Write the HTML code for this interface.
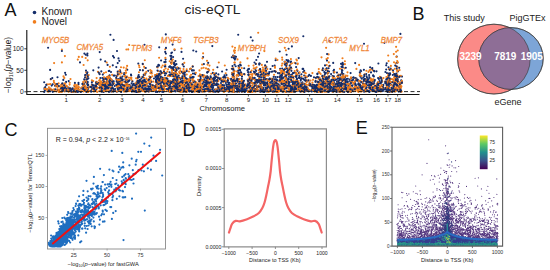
<!DOCTYPE html>
<html><head><meta charset="utf-8"><style>
html,body{margin:0;padding:0;background:#fff;width:550px;height:270px;overflow:hidden}
svg{display:block}
</style></head><body>
<svg width="550" height="270" viewBox="0 0 550 270">
<rect width="550" height="270" fill="#fff"/>
<text x="4.4" y="15.6" font-family="Liberation Sans, sans-serif" font-size="18" fill="#111">A</text>
<text x="412.4" y="19.8" font-family="Liberation Sans, sans-serif" font-size="18" fill="#111">B</text>
<text x="4.6" y="135.6" font-family="Liberation Sans, sans-serif" font-size="18" fill="#111">C</text>
<text x="182.4" y="135.8" font-family="Liberation Sans, sans-serif" font-size="18" fill="#111">D</text>
<text x="355.8" y="133.6" font-family="Liberation Sans, sans-serif" font-size="18" fill="#111">E</text>
<circle cx="34.5" cy="12.5" r="1.8" fill="#142d6a"/>
<circle cx="34.5" cy="21.9" r="1.8" fill="#f07d1c"/>
<text x="41.5" y="14.6" font-family="Liberation Sans, sans-serif" font-size="10" fill="#222">Known</text>
<text x="41.5" y="25.0" font-family="Liberation Sans, sans-serif" font-size="10" fill="#222">Novel</text>
<text transform="translate(212.5 14.4) scale(1.08 1)" font-family="Liberation Sans, sans-serif" font-size="12.8" fill="#222" text-anchor="middle">cis-eQTL</text>
<path d="M47.6 89h0M47.6 90.3h0M49 84.2h0M48.1 91.7h0M53.8 80.9h0M55.3 85.3h0M56.4 85.1h0M57.4 87h0M57.6 89.2h0M58.6 83.4h0M59.5 90.2h0M60.1 89.3h0M61.9 90.3h0M62.9 86.6h0M64.3 77.9h0M64.5 83.3h0M64.5 85.4h0M64.8 91.5h0M68.7 90.2h0M71 91.7h0M71.2 89.9h0M73.8 88.5h0M74.5 88.9h0M75.8 88.7h0M75.7 89.9h0M82.9 84.5h0M83.1 82.1h0M83.9 87.9h0M83.2 90.1h0M85.5 81.5h0M85.8 86.7h0M85.6 89.7h0M86.1 72.4h0M86.6 77.7h0M86.7 89.4h0M87.9 75.3h0M87.6 92h0M88.7 75.1h0M88.2 90.2h0M88.2 90.7h0M95.2 86.9h0M96.1 84.3h0M97.4 87.6h0M97.5 88.1h0M99.6 82.6h0M99.4 85.2h0M100.6 84.6h0M101 88.6h0M100 88.6h0M101 81.3h0M102.9 84.2h0M102.7 91.3h0M103.9 80h0M103.1 82.8h0M103.9 86h0M104.2 79.4h0M104.4 85.7h0M104.2 85.1h0M104.7 90.4h0M105.8 82.7h0M105.2 82.7h0M106.5 86.6h0M106.6 86.5h0M107.4 76.8h0M107 77.9h0M107.6 79.1h0M107.3 86.5h0M109.5 77.9h0M109.2 90.3h0M110.4 80.7h0M110.3 82.2h0M113 84.5h0M112.3 87.7h0M112.2 90.1h0M115.1 90.9h0M116.2 79.1h0M118.4 82.9h0M119.9 70.2h0M119.5 74.2h0M119.4 81.7h0M120.6 76.5h0M120.4 85h0M120.7 84.5h0M120.9 91.6h0M121.7 86.8h0M123.7 67.6h0M124.4 85.1h0M124.4 89.1h0M125.8 89.6h0M126.4 49.5h0M126.1 72.6h0M127.1 76.6h0M127.3 85h0M127.3 87.2h0M129.3 84.8h0M130.3 77.8h0M130.1 87h0M130.2 90.3h0M132.3 80.8h0M133.4 91.3h0M134.8 90.7h0M134.8 91.2h0M136.1 78.2h0M137.6 78.4h0M139 72.2h0M139.1 84h0M140.7 86h0M142 86.2h0M143.3 89.9h0M144.1 66.8h0M144.6 67.7h0M144.3 86.4h0M144.5 89.6h0M145 91.3h0M145.1 75h0M146.3 78.5h0M147.1 79.7h0M147.5 88.6h0M147.8 90.4h0M148.6 91.4h0M149.1 91.5h0M150.5 89.3h0M151.6 85.9h0M151.7 87.6h0M152.3 76.2h0M153.2 85.9h0M153.1 86.9h0M153.3 90.5h0M154.5 86h0M154.7 87.2h0M155 89.7h0M155.3 75.4h0M156.8 79.7h0M156.1 85h0M157.1 76.1h0M158.3 71.2h0M159.1 57.7h0M159.5 89.8h0M161.9 80.9h0M161.6 85.5h0M163.1 81.2h0M163.9 84.2h0M163.3 91.3h0M164.4 72.3h0M164.2 78.2h0M164.1 83.4h0M164.5 88.2h0M164.6 88.9h0M165.2 49.2h0M166.8 83.1h0M167.4 71.6h0M168.6 75.4h0M168.4 87.5h0M169.1 90.5h0M170.2 81.1h0M171.9 81.3h0M171.2 86.5h0M172.4 81h0M173.6 40.2h0M173.2 62.7h0M174.1 62.2h0M174.8 74h0M176.8 82.4h0M177.9 82.7h0M178.1 85.5h0M178.5 90.2h0M180.2 68.6h0M180.3 70.8h0M180.4 83.2h0M180.9 88.3h0M181.7 84.1h0M182.7 64.3h0M182.1 72.7h0M182.8 77.2h0M182.1 80.6h0M182.9 84.4h0M182.9 89.4h0M183.5 69h0M183.3 86.8h0M183.6 91.1h0M184 77.7h0M184.1 85.7h0M185.6 80.3h0M186.7 74.5h0M186.5 85.4h0M186.6 88.9h0M188.3 85.1h0M190.2 80.3h0M191 68.6h0M191.4 90.3h0M192.6 66.3h0M192.9 80.7h0M193.4 81h0M193.8 87.5h0M193.6 90.8h0M194.8 88.9h0M194.1 90.1h0M195.4 83.6h0M195.4 84h0M195.5 85.2h0M196.6 86.3h0M198 79.7h0M198.1 91.5h0M200.3 81.1h0M200.5 83.7h0M201.6 87.9h0M202.8 80.5h0M202.9 84.7h0M203.3 84.2h0M205.8 76.4h0M207.5 64.6h0M207.2 78.8h0M207.9 81.8h0M208.9 88.4h0M208.7 89h0M208.1 91.1h0M209.6 79.5h0M210.8 86.7h0M211.1 79.8h0M212.2 91.2h0M214.4 83.4h0M215.6 76h0M217.9 87h0M218.8 62.5h0M220.3 86.9h0M220.6 90.6h0M221.9 85.2h0M222.9 86.8h0M223.5 82.5h0M223 89.4h0M223.6 90h0M226.9 91.1h0M230.7 83.5h0M231.9 79.9h0M231.9 81h0M231.2 85.5h0M231.2 87.4h0M231.3 91.5h0M232.8 82.8h0M234 50.9h0M233.3 68h0M233.5 75.4h0M233.6 76.2h0M233.6 87.3h0M233.5 87.4h0M233.7 87.7h0M234.2 50.4h0M234.3 79.6h0M234.5 84.9h0M234.6 91.7h0M235 50.6h0M236.5 75.8h0M238.3 75.2h0M240.9 89.6h0M241.8 74.1h0M241.4 75h0M241.3 81.2h0M241.3 89.2h0M241.9 91.8h0M242.7 91h0M244.7 74.4h0M245 84.9h0M247.5 58.4h0M248.4 90.7h0M249 74.3h0M249.4 76.8h0M250.8 78.5h0M250.3 89.8h0M250.7 91.4h0M251.7 79.4h0M251.5 90.3h0M251.1 90.4h0M253.8 78.7h0M253.7 83.4h0M254.1 83.9h0M257.8 86.4h0M260 69.3h0M259.2 76.3h0M259.9 91.4h0M260.7 70.2h0M261.6 73.5h0M261.1 86.4h0M261 86.8h0M262.4 80.5h0M263.2 69.4h0M263.9 75.2h0M263 83.1h0M264.3 75.3h0M264.2 77.3h0M264.3 80.9h0M265.7 74.5h0M265.2 89.6h0M267.3 69.1h0M267.5 74.8h0M267.5 88.3h0M268.7 90.7h0M268.2 91.2h0M269.5 87.4h0M270.9 79.5h0M270.3 84.5h0M271.9 89.3h0M272.1 78.6h0M272.3 85.6h0M274.5 71h0M274.1 74.7h0M275 67.8h0M276.8 86.3h0M276.5 91.8h0M278.6 86.8h0M281.8 88.6h0M282.2 71.5h0M282.1 79.4h0M282.1 79.9h0M282.1 80.7h0M283.5 88h0M284.8 47.8h0M284.6 63.5h0M284.5 81.6h0M284.4 91.1h0M285.4 74.7h0M285.9 79.8h0M285.2 83.3h0M285.6 86.6h0M285.7 91.9h0M287 64.3h0M286.7 81h0M286.4 83h0M286.5 88.1h0M287.6 73h0M287.6 74.2h0M287.5 87.4h0M289.5 67.4h0M289.2 72.4h0M289 88.3h0M289.4 91.5h0M290.6 64.3h0M290.4 67.4h0M290.5 68.4h0M290.4 90.1h0M291.5 68.6h0M291.6 91.9h0M292.1 85h0M292.6 90.9h0M292.1 91.7h0M293.9 76.5h0M293.6 78.7h0M293 82.3h0M293.9 84.1h0M294.6 62.7h0M296.1 74.8h0M296.2 82.8h0M297.8 83.5h0M297.3 84.2h0M299.7 86.9h0M300.6 87.7h0M302.6 91.1h0M306.2 89.6h0M308 80.4h0M309.5 82.3h0M310.7 85.2h0M313 88.8h0M313.7 87h0M314.6 88.3h0M314.4 89h0M314.9 91.7h0M315.9 78.2h0M316.7 84.9h0M319.6 77.5h0M320.7 74h0M321.4 79.6h0M321.7 91.8h0M322.1 70h0M322.1 76.5h0M324.2 85.8h0M326.5 59.1h0M326.2 78.7h0M327 82h0M327.2 85.2h0M328.6 54.4h0M328.8 66.3h0M328.1 88.5h0M329.9 80.5h0M329.8 82.5h0M329.3 84.8h0M333.9 84.3h0M333.3 85.5h0M334.4 72.3h0M334.1 89.8h0M335.5 79.8h0M335.8 87.1h0M336.9 88.8h0M338.4 77.1h0M339.8 84.7h0M340.9 74.3h0M342.5 81.1h0M342.5 88.3h0M344.3 80.2h0M344.7 89.1h0M345.4 76.6h0M345.3 82.1h0M346.9 88.8h0M346.8 88.1h0M348.5 87.1h0M348.5 92h0M350.6 87h0M350.2 90.5h0M354.8 88.4h0M355.5 90.7h0M356.4 68.9h0M358.5 86.8h0M358.2 91.4h0M359.1 64.9h0M359.5 83.5h0M359.6 84.6h0M364.5 83.7h0M364.7 84.9h0M364.6 84.5h0M365.3 81.1h0M365.6 87.2h0M370.3 80.7h0M371.5 82.7h0M372.8 70.3h0M372.8 83.2h0M372.1 90.5h0M373.5 79.2h0M373.5 80.5h0M373.8 84.4h0M374.4 91.1h0M376.7 83.9h0M377.1 85.5h0M377.8 91.5h0M378.3 83.5h0M379.5 90.1h0M380.6 88.9h0M381.8 79.1h0M382.7 89.6h0M385.6 88.5h0M386.6 84h0M386.5 85.5h0M386.8 87.6h0M388.2 55.5h0M388.6 61.1h0M388.2 75.4h0M388.8 79.5h0M389.1 73.8h0M389.3 92h0M390.2 74.5h0M391.8 91.9h0M392.5 79.2h0M392.4 88.9h0M392 89.4h0M392.2 90.1h0M394.9 87.8h0M395.7 63.4h0M395.4 76.1h0M396.1 46.8h0M396.1 51.7h0M396.8 74.9h0M396 76.2h0M396.4 84.1h0M396.7 85.7h0M397.2 61h0M397.1 70.3h0M398.8 87h0M399.8 82.4h0M399.8 88.5h0M401.4 86.4h0M401 91.4h0" stroke="#f07d1c" stroke-width="2.15" stroke-linecap="round" fill="none"/>
<path d="M44.2 82.2h0M45 87.9h0M44.5 88.1h0M44.8 90.7h0M45.3 87h0M45.6 89.2h0M50 91.3h0M56 84.1h0M55.1 85.8h0M56.9 86h0M58.7 90.6h0M62.1 91.1h0M64.6 89.9h0M68.3 87.6h0M70.7 90.3h0M72.8 92h0M74.7 86.3h0M75.4 91.9h0M77.3 88.2h0M77.3 91.9h0M78.5 82.9h0M78.5 84.2h0M81.7 87.8h0M83.2 89h0M84.1 87h0M85 89.2h0M86.7 91.3h0M87 81.9h0M87 88.1h0M87.5 88.9h0M87.6 88.1h0M90.1 90.7h0M91.8 89.1h0M93.6 88.6h0M95.6 85.7h0M96.1 82.4h0M96.3 89.6h0M98.8 83h0M100.4 86.3h0M101.3 71.4h0M101.9 86.5h0M101.8 91.7h0M102.2 86.8h0M103.2 80.4h0M103.4 82.6h0M103.7 91.9h0M106.8 86.6h0M106 87h0M106.8 89.3h0M107.6 64.9h0M107.5 88.1h0M108.7 71h0M109.5 77.6h0M110.1 78.7h0M112.1 85.8h0M113.5 75.6h0M116.7 76.1h0M116.9 91.7h0M117.7 79.4h0M117.4 82.2h0M120.1 70.6h0M120.6 87.8h0M121.2 80h0M121.2 91.9h0M122.8 79.5h0M122.2 86.6h0M123.5 90.5h0M124.2 90.6h0M125.4 79.3h0M126.6 84.9h0M126.7 90.8h0M128 84.7h0M128.5 86.5h0M128.7 89.7h0M128.8 90h0M129.4 80.2h0M129.6 85h0M130.7 86.6h0M130.1 88.4h0M130.7 89h0M131 74.5h0M131 87.8h0M133.9 83.9h0M134.3 91.3h0M136 84.9h0M136.7 82.1h0M138.2 76.4h0M138.3 91.7h0M139.7 81.8h0M139.6 83.7h0M141.9 90.4h0M142.4 89.1h0M143.7 74.9h0M143.4 84.2h0M143.6 85.2h0M144.7 79.8h0M145.8 68h0M145.5 73.5h0M145.7 85.8h0M145.3 88.7h0M148.2 70.8h0M148.2 90.5h0M148.7 91.4h0M150.4 88.6h0M152.8 90.8h0M154 78.5h0M154 90.5h0M155.5 88.2h0M158.2 74.9h0M158.4 84.3h0M158.1 87.8h0M159.4 73.8h0M159.4 74.3h0M160 80.2h0M159.3 91.6h0M160.3 83.8h0M160.2 90.7h0M163.7 89.2h0M164.8 66.5h0M164.6 78.8h0M164.4 84.7h0M165.2 51.9h0M165.9 53.6h0M165 75.2h0M165.3 79.2h0M165.4 85.5h0M169 80.7h0M169.2 66.9h0M169.6 72.3h0M170 83.1h0M169.4 91.2h0M170.6 66.7h0M170.9 83h0M170.4 88.8h0M172 52.5h0M171.3 53.1h0M172 60.4h0M171.1 62.8h0M171.2 91.1h0M171.2 91.9h0M172.8 86.7h0M173.7 67h0M173.4 70h0M173.9 79.6h0M173.5 80.6h0M174 83.8h0M173.6 86.8h0M174.6 50.1h0M174.1 64.2h0M175 82.6h0M176 68h0M175.1 70h0M175.8 72.2h0M175.1 76.8h0M175.2 78.4h0M175.6 88h0M176.5 77.9h0M176.2 86.5h0M176.9 87.8h0M176.5 90h0M177.6 77.2h0M177.7 79.9h0M177.2 83.3h0M177.1 83h0M178.7 83.6h0M179.6 77.7h0M179.4 89.9h0M180.5 82h0M181.1 88.5h0M182 82.9h0M182.6 89.9h0M182.2 91.6h0M182.1 91.4h0M183.5 85.9h0M183.2 87.8h0M183.7 91.6h0M184.4 85.1h0M184.3 88.2h0M184.9 89.3h0M184.1 91.5h0M185.8 78.1h0M185.5 86.5h0M187.7 84.3h0M188.7 88.2h0M189.5 86.2h0M189.4 91.4h0M191 84.5h0M191.9 77.5h0M192 87.1h0M191.4 90.6h0M193.4 82.3h0M194.7 86.3h0M196.3 91.1h0M197.1 87.5h0M199.9 80.6h0M199.6 81.1h0M200.8 89.3h0M202.6 83.5h0M203.1 57.1h0M204.9 84.6h0M204.1 90.9h0M205.1 85.9h0M205.4 88.9h0M207.2 72.3h0M208 90.9h0M208.2 71.7h0M210.4 86.2h0M211.8 87.5h0M212.3 46.1h0M212.6 87.5h0M213.1 78.5h0M213 82.7h0M213.2 85.1h0M213.1 87.1h0M214.3 77.2h0M215 89.6h0M216.1 85h0M216.9 85.1h0M216.2 91.3h0M217.2 80h0M217.5 90.6h0M218.4 74.4h0M218.3 78h0M218.5 84.5h0M218.3 86.7h0M221 87.4h0M221.6 85.7h0M221.2 90.8h0M222.1 71.5h0M222.2 81.5h0M223.5 77.4h0M224.9 80.7h0M225 87.9h0M225.3 89h0M226.5 75h0M226.9 90.1h0M227.8 90.7h0M227.2 90.1h0M228 79.4h0M228.4 84.5h0M228.1 86.5h0M228.1 87.6h0M229.4 82.7h0M229.4 90.1h0M231.8 57.2h0M231.1 78.9h0M231.1 80h0M232.3 72.8h0M232.4 80.8h0M232 90.2h0M232.3 90.8h0M233.1 55.6h0M233.3 69.2h0M233.1 85.9h0M233.8 90.1h0M234.8 56.2h0M234.2 70.9h0M235.8 86h0M237.5 86.5h0M237 91.6h0M238.5 81.6h0M238.1 82.4h0M239.2 67.3h0M239.3 87h0M240.1 64.7h0M240.1 70.6h0M240.2 74.8h0M241.2 72.8h0M242 80.4h0M241.1 83.2h0M241.8 86.1h0M241.6 87h0M243.8 88.7h0M244.6 91.9h0M247.8 84.8h0M247.9 85.4h0M247.1 90.5h0M248.1 69.3h0M248.3 72.3h0M248.4 80.2h0M248.7 86.7h0M248.8 91.2h0M250.8 72.1h0M250 78.2h0M250.3 79h0M250.8 90.3h0M252.2 78.7h0M253.3 89h0M253.7 88.3h0M254 71.6h0M254.9 72.5h0M254.6 78.1h0M255 83.6h0M254.9 83.1h0M254.1 89.3h0M255 88.9h0M255.8 90.2h0M256.1 80.9h0M256.4 85.4h0M256.9 89.5h0M257.3 80.3h0M257.6 81.2h0M257.3 82.7h0M258 56.8h0M258.4 79.9h0M258.7 81.4h0M258.9 86.8h0M259.6 63.6h0M259.8 86.1h0M260 90.7h0M260.1 80.1h0M260.5 87.9h0M260.7 89.8h0M260.4 91.1h0M260.9 91.7h0M261.8 77.1h0M261.1 82.5h0M261.3 86.5h0M262.3 82.6h0M262.3 90.8h0M263.3 74.5h0M263.2 90.4h0M264.2 75.7h0M264.6 76.1h0M264.7 77.3h0M264.5 77.3h0M264.5 84.5h0M264.4 91.8h0M265.7 87.5h0M267 61.8h0M266.4 67h0M266 89.7h0M267.5 83.9h0M267.3 85.4h0M268.3 75.3h0M268.9 84.7h0M270.8 82.8h0M270.6 82.4h0M270.3 86.6h0M270.7 89.9h0M270.6 90h0M272.6 71.5h0M272.5 79.3h0M272.6 81.2h0M273.7 76.8h0M273.7 79.4h0M273.1 85.9h0M273.7 88.4h0M273.9 88.2h0M274.6 65.6h0M274.4 83.2h0M275.1 85.3h0M276.9 79.7h0M276.7 80.8h0M278 88.7h0M277.5 89.8h0M278.4 91.3h0M279.7 51.5h0M280.6 89.4h0M280.1 90.6h0M281.4 88.8h0M282.2 68.6h0M283.8 70.2h0M283.7 71.1h0M283.2 77.7h0M283.6 83.7h0M283.6 89.7h0M283.5 91.1h0M284.6 61.7h0M284.1 80.6h0M284.1 83.4h0M284.1 87.7h0M285.7 85.8h0M285.7 86.7h0M286.4 72.1h0M286.2 75.3h0M287.1 86h0M288.6 48.7h0M288.8 75.9h0M288.5 85.6h0M289.5 69.4h0M289.3 86.1h0M289.8 91.4h0M291 67.6h0M291.1 74.7h0M291.9 74.5h0M291.5 89h0M294.6 86.1h0M294.6 88.3h0M294.5 91.7h0M294.9 91.8h0M295.3 82.6h0M295.7 85.6h0M296.9 78.9h0M296 85.5h0M296.5 86.5h0M298.8 72.9h0M299.7 77.8h0M299.5 85.6h0M299.1 85.6h0M299.3 90.5h0M300.4 91.7h0M301.4 74.2h0M302.6 68.9h0M302.4 82.4h0M302.4 88h0M305.1 84.1h0M305.1 89.4h0M306.6 81.5h0M308.6 80.3h0M308.5 89.5h0M310.9 75.9h0M310.6 84.3h0M311.2 85.3h0M311.2 91.1h0M312.2 89.7h0M312.5 89.9h0M313.8 88.3h0M313 90.1h0M314.7 85.1h0M314.2 90.8h0M315.4 81.8h0M317.2 76.9h0M318 89.7h0M317.6 90.5h0M318.3 86.8h0M319.5 79.8h0M319.6 84.1h0M319.6 88h0M320.6 84.2h0M322.2 89h0M323.2 77h0M323.3 79.1h0M323 82.3h0M324.3 72.1h0M324.8 74.2h0M325.7 69.9h0M325.6 84.2h0M327.9 77.3h0M327.7 77.8h0M327.8 88.2h0M328 89.6h0M328.9 78h0M329.4 91.3h0M330.7 83.2h0M331.1 74.1h0M331.5 81.5h0M332.8 89.7h0M333.9 83h0M333.8 86.5h0M333.7 90.6h0M337.6 84.7h0M337.2 87.2h0M338.7 83.1h0M338.8 90.5h0M339.3 89.3h0M339.3 91.8h0M340.5 84h0M340.4 84.5h0M340.1 90.2h0M341.9 85h0M342.7 64h0M342.4 70.5h0M342 73.1h0M342.3 77.6h0M343.6 84.7h0M343.4 87.4h0M344.2 87.1h0M345.1 76.9h0M345.9 80.1h0M346.7 84.8h0M346.8 88.4h0M346.3 88.5h0M347.3 84.4h0M347.2 87.3h0M348.9 85.4h0M348.8 88.5h0M348.1 88.2h0M349.6 79.6h0M349.8 84.4h0M351 78.2h0M350.2 81.4h0M351.7 81h0M351.9 85.6h0M351.8 89.6h0M351 92h0M352.2 85.3h0M352.4 85.6h0M352.4 85.8h0M353.1 79.8h0M353.6 88.2h0M354.8 83h0M355.7 86.8h0M356.1 86.8h0M357.8 79.8h0M359.8 84.7h0M360.8 89.7h0M362.8 83.4h0M362.2 89.5h0M365.8 80.4h0M365.1 84.3h0M366.2 74.1h0M367.1 82h0M367.3 90.1h0M368.9 85.9h0M370.4 82.9h0M371.8 83.3h0M371.7 86.7h0M372.7 81h0M373.9 70.7h0M373.1 75.4h0M373.8 76.5h0M373.7 91h0M375.1 85.9h0M375.6 88.2h0M375.8 91.5h0M375.3 91.6h0M377.8 85h0M377.4 86.1h0M377.3 87.8h0M379.5 81h0M379.4 87.8h0M380.9 90.5h0M381.1 78.6h0M382 90.4h0M385.4 72h0M385.2 82h0M385.5 89.3h0M386.5 82h0M388 77.8h0M387.4 81.5h0M387.5 82h0M387.7 91.9h0M388.1 77.5h0M389 87h0M388.7 89.6h0M389.1 80.8h0M389.2 83.9h0M390 91.5h0M390.7 68.6h0M390.1 73.3h0M390.7 84.5h0M394.4 82.4h0M395.2 65.5h0M396 75.2h0M395.5 75.1h0M395.6 90.1h0M395.2 91.3h0M396.7 68.6h0M396.4 73.5h0M396.5 76.9h0M397.2 62.7h0M398 71.3h0M397.1 85.3h0M398.5 86.2h0M398.3 86.3h0M399.3 86.3h0M399.9 89h0M400.7 91.7h0M402 76.6h0M401.2 80.2h0" stroke="#142d6a" stroke-width="2.15" stroke-linecap="round" fill="none"/>
<path d="M49.7 89.5h0M50.8 79.3h0M50.1 89.7h0M54 82.5h0M54.1 89.3h0M54.5 90h0M55.3 83.7h0M57.1 85.4h0M57.7 85.5h0M57.9 86.6h0M58.8 91.9h0M59.9 91.9h0M61.1 84.8h0M61.4 87.1h0M61.9 89.1h0M61.7 92h0M63.5 76.4h0M64 88.9h0M65.7 89.2h0M69.6 84.6h0M70.5 79.1h0M70.3 90.9h0M74.9 84.5h0M74.6 89h0M74.7 91.4h0M75.8 87.2h0M76.1 91.5h0M78.7 90.5h0M82.3 87.8h0M84.1 90.9h0M85.7 58h0M85.4 87.8h0M85.8 88.1h0M87.8 91.9h0M89.8 86.9h0M91.9 80.3h0M92.5 88.7h0M93.2 81.1h0M93.3 87.5h0M95.4 87.4h0M96.6 78.1h0M96.7 81.9h0M97.9 71.7h0M99.5 73.2h0M99.8 79.9h0M100.2 91.1h0M103.8 81.5h0M103.8 83.6h0M106.6 78.3h0M106 87h0M109.9 66.7h0M109.6 82.2h0M110.5 84.4h0M111.5 91.2h0M112.4 87.8h0M113.5 84.1h0M113.8 90.6h0M114.2 83.3h0M116.9 91.5h0M117.7 72.9h0M117.6 75.6h0M117.8 84.6h0M117.5 87.5h0M118.7 85.1h0M118.6 89.8h0M119.5 90.6h0M121.3 78.8h0M121.8 82.3h0M121.9 84.2h0M121.7 88.8h0M122.7 89h0M124 81.7h0M124.3 81.8h0M125.3 75.5h0M125.5 77.5h0M125.4 85.4h0M126.7 84.9h0M127.1 65.9h0M127.5 79.8h0M128.2 49.4h0M128.1 85.4h0M130.1 90.9h0M135.4 87.1h0M136.5 83.6h0M137 83.8h0M138 77.2h0M137.1 85.9h0M138.8 89.8h0M140.7 80.2h0M143.2 89.4h0M144.6 73.6h0M144 91.1h0M145.1 82.4h0M145.3 86.2h0M145.5 88.6h0M146.3 71.9h0M148 80.4h0M149.3 76.6h0M150.3 70h0M150.8 73.1h0M150.7 77.1h0M151 80.2h0M151.8 73.4h0M152.9 90.8h0M154.8 90.5h0M155 75.1h0M155.9 91.1h0M156.1 80.9h0M156.8 86.4h0M157.4 81.7h0M158.2 79.9h0M161 73.6h0M160.7 74.8h0M161 88.4h0M161.4 72.6h0M161.2 83.4h0M162.6 86.7h0M162.7 90.7h0M163.1 72.8h0M163.8 89.9h0M164.4 73h0M165.6 68.4h0M166.1 83h0M167.7 76h0M168.3 90.8h0M169.7 61.2h0M169.1 85.7h0M170.9 91.9h0M170.5 91.6h0M171.5 63.8h0M172 68.8h0M171.6 88.2h0M172.8 59.5h0M173.2 75.6h0M173.5 84.9h0M174.7 65.2h0M174.4 73.8h0M174 74.7h0M174.8 77.7h0M174.5 79.1h0M174.7 91h0M175.3 77.6h0M175.7 79.1h0M175.4 81.7h0M175.3 83.4h0M175.1 87.3h0M176.6 83.4h0M176.4 89.9h0M177.4 74h0M177.5 90.3h0M178.5 83.6h0M179.1 85.6h0M181.5 48.5h0M181.8 89.8h0M181.4 89.4h0M182.2 84.3h0M182.6 86.2h0M183.6 75.6h0M183.4 81.6h0M183.2 85.7h0M184.1 78.8h0M185.8 81h0M185.8 80.8h0M185.9 91.9h0M186.8 88.9h0M187.1 79.6h0M189 71.5h0M188.1 88h0M189.5 79.2h0M190.1 76.2h0M191.2 82.7h0M191.3 87.3h0M192.8 84.8h0M193.1 86.8h0M193.2 88.3h0M194.3 86.4h0M194.8 91.7h0M197.1 89h0M197.8 91.8h0M198.6 76h0M198.3 85.1h0M198 87.4h0M198.9 89.9h0M199.9 74.4h0M199 81.7h0M199.6 88.7h0M199.9 89.7h0M200.8 75.2h0M200.7 85.5h0M200.5 85.9h0M200.6 86.9h0M200.7 87.3h0M200.1 91.2h0M201.5 86.6h0M202.5 58.3h0M202.1 64.6h0M202.9 87h0M202.8 91.7h0M203.1 53.3h0M205.5 91.2h0M207.6 79.1h0M207.4 81.1h0M208.6 77.5h0M209.5 83.1h0M209.4 84.2h0M210.2 84.9h0M211.3 73.7h0M211.6 78.4h0M212.7 84.7h0M213.2 79.1h0M213.5 81.3h0M215.1 78h0M217.6 80h0M217.6 81.6h0M218 81.2h0M218.8 86.3h0M218.2 91.9h0M219.9 88.1h0M220.4 85.5h0M221.2 78.2h0M221.1 85.2h0M222.1 86.7h0M223.7 80.7h0M224 92h0M226 81.5h0M226.4 81.6h0M228.9 88.9h0M229.9 90.5h0M230.2 86.3h0M230.8 87h0M232.3 73h0M232.6 76.3h0M233.4 56.3h0M233.4 76.9h0M233.2 77.3h0M233.3 89.1h0M234.7 52.8h0M234.6 71.2h0M234 73.4h0M235.3 83h0M236.9 74.8h0M236.7 78.4h0M236.7 80.1h0M236.8 87.1h0M237.1 71.4h0M237.7 89h0M238.6 67.6h0M238.4 80.1h0M238.4 82.1h0M238.8 88h0M242.1 87.3h0M243.2 84.1h0M243.2 89h0M247.9 81.7h0M247.5 87.6h0M248.4 84h0M248.3 90.8h0M249.9 91.6h0M251.1 92h0M252.2 76.1h0M252.9 91h0M253.7 68.4h0M253.8 78.9h0M254.3 88.5h0M256 63.8h0M256 82.8h0M255.5 85.2h0M257 86.7h0M257.1 80.9h0M258.8 72.7h0M258.3 79.7h0M260.7 87.1h0M261.6 71.9h0M262.6 74.5h0M262.4 83.5h0M262.5 87.7h0M262.9 89.5h0M262.3 90.9h0M263 91h0M263.5 71.6h0M263.8 81.6h0M264.7 70.3h0M265.6 66.1h0M265.4 66.3h0M266 73.1h0M265.1 78.2h0M265.3 89.7h0M266.6 72.4h0M266.2 83.3h0M267 91.8h0M268.6 75.1h0M268.9 80.3h0M268.9 84h0M270.4 78.9h0M270.1 85.6h0M270.7 85.8h0M271.2 86.5h0M271.9 87h0M272.2 84.6h0M272.8 91.2h0M273.5 80.3h0M273.4 84.2h0M273.3 89.3h0M274.9 66.7h0M274.9 82h0M274.3 84.6h0M274.1 86.1h0M275.9 81.3h0M275.9 87.4h0M276 91.2h0M276.8 83.7h0M276.4 90.7h0M277.7 84.2h0M277.7 87.4h0M277.8 88.2h0M278.2 86.2h0M278.4 91.3h0M279.8 76.6h0M280 78.7h0M280.6 72.6h0M281.5 71h0M281.8 75.5h0M281.6 78.7h0M281 78.7h0M281.1 89.4h0M282.3 63.6h0M282.7 70.4h0M282.1 75.2h0M282.2 78.6h0M282.7 82.1h0M283 80.9h0M283.9 90.8h0M284.2 71.7h0M284.3 73.8h0M284.9 76.5h0M284.8 87.4h0M285.3 91.5h0M286.5 65.3h0M286.9 68.2h0M286.2 78.3h0M287.3 70.7h0M287.6 79.9h0M288.1 69.1h0M288.3 74.1h0M288.4 84h0M288.8 91.1h0M289.3 70.7h0M289.2 73.3h0M290.8 79h0M290.8 81.6h0M291.5 76.8h0M291.9 86.9h0M291.7 88.4h0M292.2 76.8h0M295 87.9h0M294.1 91.7h0M296.4 59.5h0M297 70h0M296.8 85.6h0M297.5 80.9h0M298.8 82.7h0M299.5 84.6h0M300.1 83.9h0M300.5 87.9h0M301.5 76.6h0M301.7 84.2h0M304 88.1h0M304.9 84.1h0M304.7 84h0M305.1 84h0M305.2 90.8h0M307.6 87.8h0M312.4 82.6h0M313.9 89.3h0M313.5 90.5h0M313.7 91h0M316.2 87.1h0M317.2 81.5h0M317.1 89.7h0M317.6 91.7h0M318.8 69h0M318.8 71.8h0M318.5 78.8h0M318.9 82h0M318.8 84.3h0M319.7 82.5h0M319.3 86.9h0M320.6 90.2h0M321.1 82.8h0M323.9 76.3h0M323 80.9h0M324.8 76.2h0M324.2 86.9h0M324.5 89h0M325.5 69.1h0M325.1 83.5h0M326.3 89.1h0M327.5 73.8h0M327.8 87h0M328.8 62.3h0M328.5 83.4h0M329.9 82.1h0M329.6 90h0M330.9 83h0M336.6 86.6h0M336.6 92h0M337.1 76.2h0M338.4 75.8h0M338.1 85.3h0M339.2 84.8h0M340.1 80.3h0M340.2 88.8h0M340.4 91.9h0M343.2 91.9h0M344.9 64.2h0M344.5 68.3h0M344.4 76.9h0M344.1 82.9h0M345.9 75.5h0M345.4 87.4h0M346.8 91h0M347.5 87.6h0M348.3 83.7h0M349.7 85.2h0M351.3 81.5h0M352 88.3h0M353.2 82.5h0M353.9 84.1h0M354.1 88.5h0M355.7 78.2h0M355.8 87.3h0M355.3 89.1h0M357 87.5h0M356.4 88.7h0M357.5 91h0M358.6 87.4h0M358.4 89.6h0M359.2 89.6h0M360 75.6h0M360.1 88h0M363.6 86.8h0M364.6 74.4h0M364.8 85.8h0M365.4 85.2h0M366.4 85.1h0M367.3 89.7h0M370.8 78.5h0M370.1 83.5h0M370.9 90.5h0M371.4 84.2h0M371.7 86h0M372.1 87.2h0M374.5 87.4h0M376.4 90.4h0M377 89.9h0M377.1 90.4h0M379.7 86.1h0M379.8 87.7h0M381.4 89.9h0M383.4 87.6h0M385.1 81.5h0M387.6 81.4h0M387.2 87.6h0M388.9 69.1h0M388.3 76.2h0M388.1 82.2h0M388.9 83.8h0M389.1 88.9h0M389.5 90.2h0M390.9 65.9h0M391.6 79h0M391.8 89.5h0M392.8 85.2h0M393.2 72.1h0M394.8 68.8h0M394.2 77.1h0M394.3 87.4h0M394.2 91.5h0M396.7 86.4h0M396.9 89.7h0M397.3 66.8h0M397.6 70.3h0M397.3 75.1h0M397.5 77.1h0M399.5 76.1h0M399.1 87.8h0M400.6 85.2h0M400.8 87.4h0M401.7 91.6h0" stroke="#f07d1c" stroke-width="2.15" stroke-linecap="round" fill="none"/>
<path d="M44.6 89.4h0M49.4 89.4h0M50.1 69.9h0M50.8 79h0M51.7 85.6h0M52.7 84.3h0M57.7 90.3h0M61.2 87.9h0M63 87.2h0M65.1 87.1h0M65.3 90.3h0M66.6 88.9h0M67.3 89.6h0M67.1 90.8h0M70.1 88.5h0M74.9 82.9h0M76.9 90.9h0M78.6 91.6h0M80.9 91.9h0M81.5 88.5h0M83.3 85.7h0M85 77.3h0M85.5 75.4h0M85.6 82.2h0M85.4 91.2h0M86.3 79.6h0M86.4 91.8h0M87.4 72.2h0M87.6 78.6h0M87.7 90.5h0M91 91h0M91.9 84.5h0M91.4 86.7h0M94.2 90.2h0M96.4 82.5h0M96.2 86.6h0M98.6 67.6h0M98.3 83h0M100.4 78h0M102.5 78h0M103.2 77.7h0M103.4 84h0M103.4 90.4h0M105.4 78.6h0M105.6 78.6h0M105.1 82.5h0M105.1 84.9h0M105.1 86.8h0M107.2 81.3h0M107.1 83.5h0M108.8 76.3h0M108.9 81.2h0M108.8 87.3h0M108.9 91.8h0M110.6 84.9h0M111.6 91.3h0M112.8 65.3h0M112.3 80.5h0M113.7 81.3h0M113.9 89.7h0M114.7 86h0M114.4 90.4h0M117.7 63.1h0M117.3 84.6h0M117.4 86.1h0M118.8 79.1h0M118.7 84.2h0M118.4 88.8h0M120.3 85.4h0M120.1 89.3h0M121.4 83.6h0M121.3 86.9h0M121.1 87.5h0M123.8 88.4h0M123.7 90h0M124.4 85.8h0M124.9 89.4h0M126.4 77.2h0M126.6 79.9h0M126.6 83.4h0M127.6 90.6h0M130.6 88.5h0M131.2 75.4h0M131.6 83.2h0M133.5 90.8h0M135.1 88.3h0M138.3 63.6h0M138.2 81.2h0M138.2 81.3h0M140 70.1h0M141.4 78.3h0M141.7 81.9h0M141.4 83.7h0M141.5 89.5h0M142.6 80.6h0M144.1 81.8h0M144.6 81.9h0M144 88.2h0M145.9 88.2h0M146.8 85.2h0M146.1 85.7h0M149.9 83.7h0M149.4 83.5h0M151.3 72h0M152.4 88.1h0M156 80.8h0M156.2 79.5h0M156.4 85h0M158.2 77.5h0M158.8 82.7h0M159.2 74.2h0M160.9 76.7h0M160.8 80.5h0M162.4 86.5h0M162.9 91.6h0M163.6 86.5h0M163.9 86.2h0M164 71.2h0M165 73.2h0M164.8 80h0M164.3 84.2h0M164 89.3h0M165.6 61.9h0M165.5 78.3h0M167.2 80.7h0M167.5 80.7h0M167.9 89.2h0M168.1 81.8h0M168.1 85.3h0M168.7 89.5h0M169 91.3h0M169.8 82.8h0M170.7 74.4h0M170.2 75.8h0M170.3 81.5h0M171.3 55.9h0M171.9 67.4h0M171.7 73.2h0M171.7 82.7h0M172.9 73.1h0M172.2 81.8h0M173.7 67.3h0M174.9 64.9h0M174.5 89.6h0M175.5 61.1h0M175.5 71.9h0M175.3 74.3h0M175.9 85.9h0M177.7 87.4h0M177.6 89.4h0M178.5 68.4h0M178.1 89.5h0M180.5 79.1h0M181.5 51.9h0M181.1 81.4h0M181.1 89.6h0M182.4 82.9h0M183.1 58.7h0M183.1 87.3h0M183.5 89.4h0M184.7 74.5h0M184.2 89.3h0M185.8 85.7h0M185.2 89.7h0M186.7 86.7h0M186.5 91.8h0M187 87.3h0M187.5 89.2h0M187.4 89.9h0M188.2 84.3h0M188.5 85.9h0M188 89.6h0M189.1 81.7h0M190.2 68.9h0M190.3 77.8h0M190.3 80.6h0M190.2 82.7h0M192.2 70.3h0M193.3 50.5h0M193.5 88.1h0M194.6 81.4h0M194.2 87.3h0M195.2 74.2h0M195.8 82.5h0M195.9 90.3h0M196.2 51.5h0M196.5 90.5h0M197.5 87.4h0M198.8 88h0M198.5 88.9h0M199.7 79.7h0M199.4 91.3h0M200.3 85.4h0M201.2 91.5h0M202.5 89.6h0M203.9 64.1h0M203 79.7h0M203.2 90.8h0M204.4 79.4h0M204.4 86.5h0M204.3 91.5h0M205.4 80.8h0M205.1 82.4h0M206.6 83.5h0M207.2 88.1h0M208.2 62.8h0M208.4 69.3h0M208.2 86.6h0M209.5 78.8h0M210 87.8h0M211.6 82h0M211.9 85.5h0M211.4 90.3h0M212.9 72.9h0M212.6 84.9h0M212.4 87.4h0M213.8 80h0M213.7 83.2h0M213.9 85.2h0M214.5 77.8h0M214.7 84.4h0M215 75.2h0M215 78.6h0M215.1 91.8h0M216.1 73.2h0M217.4 67.2h0M217.2 89.5h0M219.8 78.3h0M221.9 80.2h0M222 90h0M223.4 77.3h0M223.1 80.4h0M223.1 90.5h0M224.3 80.8h0M224.2 87.4h0M224.5 89.4h0M226.9 86.2h0M227.3 89.5h0M227.9 89.3h0M228 80.1h0M228.8 84.4h0M228.6 91.7h0M229.7 86.1h0M229.3 89.9h0M229.7 91.4h0M232.5 66.1h0M232.8 69.4h0M232.5 91.6h0M233.4 73.8h0M233.3 80.1h0M234 85.9h0M234.6 64.6h0M234.2 77.7h0M234.9 84.4h0M234.9 86.7h0M234.8 91.6h0M236 56.7h0M235.3 87.8h0M235 87.7h0M237.2 78.9h0M237.4 90h0M238.5 72.6h0M238.5 75.6h0M238.1 79.1h0M239.6 86.5h0M239 90.1h0M240.9 72.2h0M240.9 84.7h0M242 76.4h0M242.8 86.2h0M242.3 88.9h0M242.4 88.9h0M242.1 90.3h0M243.1 81.1h0M243.9 86.4h0M244.1 74.1h0M244.7 87.8h0M244.4 89.6h0M245.5 89.5h0M245.6 91.2h0M246.8 88.4h0M247.7 80.1h0M247.5 84.2h0M248.2 74.7h0M248.6 75.1h0M248.5 91.8h0M249.2 85.6h0M250.9 90.4h0M250.1 91.7h0M251.4 90.6h0M252.3 83.4h0M254.5 77.9h0M255.7 64h0M255.4 68.9h0M255.6 82.5h0M256.2 89.3h0M257.9 76h0M257.2 87.8h0M259.4 78.3h0M259.1 80.2h0M259.2 85.6h0M260.1 69.1h0M260.4 71.9h0M261.6 79.6h0M261.2 87.2h0M263.7 72.9h0M265.6 74.3h0M268 73.9h0M269 73.6h0M268.4 80.7h0M269.6 78.6h0M270.5 69h0M270 82.5h0M271.2 86.5h0M272.6 66h0M272.1 81h0M274.9 81.8h0M274.8 84.1h0M274.8 87.9h0M274.2 87.7h0M275.5 77h0M275 79.3h0M276.2 88.2h0M278.2 88.5h0M278.8 88.9h0M279.5 77.1h0M279.8 80.7h0M279.9 86.1h0M279.1 87.6h0M280.2 68.8h0M280.8 81.6h0M280.7 89.9h0M280.3 90.8h0M282.6 73.4h0M282.4 84.4h0M282 88.8h0M282.7 91.7h0M283.9 69.7h0M283.5 77.6h0M284.6 86.8h0M284.5 88.9h0M285.1 69h0M285.5 76.3h0M285.9 78.1h0M285.5 82.1h0M286.4 83h0M286.2 87.1h0M287.3 62.4h0M287.9 70.3h0M287.3 80.3h0M288 60.4h0M288.3 74.2h0M288.2 78.3h0M288.1 85.7h0M289 88.8h0M289.6 88.7h0M290.2 77.4h0M291.4 70.8h0M291.4 77.3h0M291.1 79.9h0M291.7 88.1h0M292.7 81.4h0M292.4 82.3h0M292.9 83.4h0M292.6 88.7h0M293.1 73.2h0M293 84.5h0M293.7 91.2h0M294.7 83.2h0M295.7 63.3h0M295 72.7h0M295.1 85.5h0M295.3 86.9h0M296.6 85.8h0M297.4 70.8h0M298.7 58.1h0M298.2 82.9h0M298.1 87h0M298.2 89.5h0M299.2 91h0M301 84.7h0M300.9 89.8h0M301.4 78.4h0M301.7 89.5h0M304.2 70.9h0M304.2 75.5h0M304.8 89.4h0M305.9 80.8h0M305.5 90.4h0M306.5 86.7h0M307 90.7h0M309.6 83.8h0M311.8 91.5h0M312.6 89.5h0M314 77.3h0M313.4 87.4h0M314.2 87.3h0M315.6 80.7h0M315.5 86h0M315.2 89h0M316.1 87.5h0M317.6 73.6h0M317.4 89.5h0M318.5 84.1h0M320 79.4h0M321 87.8h0M321.2 80.9h0M321.6 85.6h0M322.9 78.2h0M322.3 84.2h0M322.2 90.2h0M323.3 84.4h0M323.3 87.3h0M324.3 76.4h0M324.1 83.1h0M325.5 73.1h0M325.2 86h0M325.2 86.3h0M327 60.6h0M326.9 77.1h0M326.1 86.6h0M327.2 81.4h0M327.7 86.9h0M327.5 89.4h0M328.8 81.6h0M328.4 83.8h0M328.5 90.1h0M329.7 65.7h0M329.5 86.2h0M330.4 84.7h0M330.3 90.5h0M330.5 90.1h0M331.1 87.3h0M332.5 76h0M332.9 84h0M334 69.7h0M333.8 72.5h0M333.6 81.5h0M333.8 83.1h0M333.7 89h0M334.7 80.2h0M335.2 86.1h0M338 78.3h0M337.9 81.8h0M337 81.7h0M337.7 83.6h0M337.4 84h0M337.3 86.4h0M337.9 86.2h0M337.5 90.5h0M338.1 81.1h0M338.4 86.7h0M338.7 87.3h0M338.3 89.6h0M338.9 89.2h0M339.5 91.3h0M340.2 83.6h0M341.9 72.1h0M341.4 79.3h0M341.1 82.7h0M342.3 64.3h0M342.3 64.1h0M342.8 77.2h0M342.1 80.8h0M342.4 91.3h0M344.4 78.9h0M345.8 67.7h0M346.5 79h0M346.2 88.6h0M346.3 88.1h0M346.5 89.6h0M347.8 78.7h0M347.7 81.9h0M347.7 90.3h0M347.7 91.3h0M352 80.3h0M352.5 90.7h0M353.1 77.8h0M355.1 81.4h0M356.5 78.6h0M357.9 80.8h0M357.6 88.2h0M359.4 85.3h0M360.4 76.6h0M360 84.5h0M361.8 78.7h0M361.5 78.2h0M361.3 86.4h0M363.9 79.6h0M363.2 83.7h0M364.1 91.7h0M365.5 79.7h0M365.6 80.4h0M366.9 79.7h0M366.4 81.9h0M366.5 82.5h0M366.2 84.2h0M367 77.8h0M368.6 79h0M368.4 82.6h0M369.1 75.1h0M369.2 77.1h0M369.5 77.7h0M369.1 87.6h0M370.6 82.3h0M372.1 68.8h0M372.9 83.9h0M373.9 87.3h0M374.4 71.3h0M374.5 80.9h0M374.9 80.1h0M377.3 85.3h0M377.8 89.2h0M378.3 87.9h0M379.4 90.2h0M380.4 83.2h0M380.2 83h0M380.9 90.9h0M381.2 77.7h0M381.2 82.3h0M382 85.7h0M381.1 89.6h0M381.9 90.8h0M383.3 84.9h0M383.1 87.3h0M386.2 69.5h0M386.3 79.2h0M386.9 91.1h0M387.6 91.7h0M388.5 67.2h0M389.8 74.6h0M389 79.6h0M389.3 82.9h0M389.5 84.6h0M389.7 91.4h0M390.6 84.3h0M390.2 85.2h0M391.5 87.9h0M392 88.9h0M392.1 89.9h0M393.7 87.5h0M393.6 90h0M393.1 89.1h0M394.8 89.5h0M394.8 91.1h0M395.1 84.3h0M395 90.9h0M396.7 56.5h0M396.5 66.4h0M396.9 75.8h0M396.9 79.6h0M396.3 79.7h0M396.3 89h0M397.3 77.9h0M397.8 79.7h0M398.4 77.5h0M399.2 86.5h0M401.9 81.9h0" stroke="#142d6a" stroke-width="2.15" stroke-linecap="round" fill="none"/>
<path d="M47.2 84.6h0M47 84.4h0M47.3 90.1h0M50.6 88.5h0M52 89.8h0M55.6 86.3h0M58.3 89.8h0M58.7 90.7h0M60.3 86.8h0M60.7 86.3h0M63.1 88.3h0M66.2 85.7h0M66.9 86.5h0M69.7 82.7h0M69.3 87.7h0M69.8 89.7h0M70.4 88.7h0M70.2 89.4h0M72.4 91.9h0M72.3 92h0M74.2 85.6h0M75.9 86.5h0M77 85h0M81.6 87.6h0M81.2 91h0M83.7 83.9h0M83 84.9h0M83.3 87.1h0M83.6 91.4h0M84.8 88.4h0M85.8 75.6h0M85.4 90.8h0M87.1 78.6h0M88.4 91.4h0M89 87.5h0M89.5 91h0M92.9 89.6h0M93.5 90.1h0M96.6 87.6h0M96.3 90.7h0M97.2 82.8h0M97.7 87.7h0M97.2 92h0M98.1 84.3h0M100 83h0M100.1 91.2h0M102.6 86.7h0M103.9 90.9h0M104.1 77.3h0M106 72.2h0M106.9 79.9h0M108.1 83.6h0M109.1 76.7h0M109.4 85.9h0M110.2 78.6h0M111.1 79.6h0M111 87.9h0M111 87.3h0M111.9 91.4h0M112.1 74.8h0M116.8 80.2h0M117.5 81.5h0M119.3 70.9h0M119.4 73.7h0M121 67.2h0M120.6 89.8h0M121.2 82.8h0M121.1 82.4h0M121.2 90h0M123.7 84.7h0M124.7 91.4h0M125.9 82.5h0M125.5 89.9h0M126.6 79.6h0M127.1 83.4h0M129.5 85.9h0M131.4 77.7h0M132 89.4h0M132.3 87.1h0M137.2 80.8h0M137.8 86.6h0M137 88.4h0M137.5 89.1h0M138.6 86.1h0M139.4 67.2h0M139.2 88.1h0M139.3 91.7h0M140.3 83.4h0M140.3 89h0M141.7 86.1h0M143 64.3h0M142.8 70.2h0M142.2 76.8h0M142.8 91.1h0M143.8 89.3h0M144.1 82h0M144.8 91.7h0M145.1 84.6h0M145.8 85.8h0M146.3 89.5h0M147.3 89.3h0M148.4 79.4h0M148.5 89.4h0M150.4 73h0M150.1 78.6h0M151.5 71.1h0M151.1 77.1h0M151.5 88.8h0M151.6 90.7h0M153.2 81.6h0M155.7 82.4h0M156.5 83h0M156.3 85.7h0M158.8 77.3h0M158.8 78.8h0M158.2 82.1h0M158.9 90.8h0M159.9 80h0M160.2 85.4h0M160.6 90.4h0M161.5 67.3h0M164 85h0M163.1 90.5h0M164.8 77.8h0M164.6 78h0M164.9 81.5h0M165.3 64.7h0M167 91h0M168.1 69.2h0M169.3 76.2h0M171.4 63.2h0M171.7 89.9h0M171.6 90.5h0M172 70.9h0M172.6 84.5h0M172.9 88.9h0M174.1 85.7h0M174.1 86.8h0M176.5 70.5h0M176.1 73h0M176.1 86.1h0M177.8 83.8h0M178.6 89.3h0M178.8 91.2h0M179.1 72h0M179.9 73.4h0M179 82.3h0M179.4 85.9h0M180.2 91.8h0M181.3 77.7h0M181.5 84.7h0M183.1 84.6h0M183.1 85.7h0M184.3 62.8h0M184.8 80.9h0M185.7 85.2h0M186.7 69.3h0M187 86.3h0M187.5 86.2h0M187.5 86.8h0M187.5 88.2h0M188.7 79.4h0M188.9 80.9h0M190.3 84.1h0M191.1 74.7h0M192.2 79.6h0M192 89.3h0M193.1 78.2h0M193.7 80.6h0M195.3 89.6h0M197.6 84.4h0M197.9 89.4h0M197.9 90.9h0M198.9 84h0M198.5 89.6h0M199.5 81.5h0M199.8 90.7h0M200.9 89.8h0M200.7 89.2h0M201.6 68.3h0M201.7 86.6h0M202.5 76h0M203.6 67.7h0M206.3 77h0M206.7 87.7h0M207.8 69.2h0M207.9 88.2h0M207.2 89.6h0M209.8 86.7h0M209.4 91.6h0M210 82.6h0M210.2 83.5h0M210.1 88.2h0M210.4 91.6h0M212.4 81.5h0M212.8 82.5h0M213.7 84h0M214.1 73.4h0M215.6 75.6h0M215.4 81h0M215.5 89.3h0M217.8 77.4h0M217.7 88.2h0M218.4 80.9h0M218.5 87.9h0M220.2 90.7h0M221 79.7h0M222.2 86.6h0M222.3 88.7h0M224.8 65.5h0M225.1 78.2h0M227.8 77.7h0M228.7 78.7h0M228.1 91.1h0M231.7 68.7h0M231.5 80.8h0M231.1 90.7h0M232.4 46.6h0M233.8 71.8h0M233.5 74.2h0M233.4 91.9h0M234.8 62.5h0M234.1 87.1h0M236.5 88.1h0M237.5 59.4h0M237.1 85.8h0M238.9 68.7h0M238 75.4h0M240.7 73.8h0M240.8 87.8h0M241.5 80.8h0M241 86.1h0M241.1 88.7h0M241.3 90.9h0M242.5 82.6h0M243.5 82h0M245.2 84.3h0M247.9 91.9h0M249.6 79.9h0M249.9 84.3h0M249.1 84.7h0M249.2 91.9h0M250.3 78.7h0M250.4 87.4h0M250.5 90.5h0M251.6 70.6h0M251.9 82.8h0M251 88.9h0M251.3 90.7h0M252.6 74h0M252.6 87.9h0M252.6 92h0M253.5 65.6h0M253.4 87.6h0M254.6 86.2h0M255.1 47.7h0M255.8 75h0M255.1 80.4h0M255.4 91.7h0M257.1 88.5h0M258.6 70.2h0M259.6 91.5h0M260.2 83.3h0M260.1 83.7h0M260.1 84.1h0M260.3 87.8h0M261.1 84.9h0M261.6 86.8h0M261.6 89.3h0M262.8 67.5h0M262.4 76h0M262.9 79.9h0M263.1 70.4h0M263.8 79h0M264.9 71.5h0M265.4 67h0M265.2 76.6h0M265.6 83.8h0M267 86.4h0M267.8 89.9h0M269 81.5h0M268.3 86.5h0M268.7 92h0M269.8 84.5h0M273.8 83.3h0M276.6 84.1h0M276.2 91.8h0M277.4 59.9h0M277.4 91.6h0M278.9 81.5h0M278.5 86h0M279.1 91.5h0M280.5 87.3h0M281.4 84.3h0M281.7 89.2h0M282.3 59.7h0M282.4 80.9h0M282.2 86.9h0M282.3 91.3h0M283.9 85.8h0M284.2 87.4h0M285.9 50.3h0M285.8 67.8h0M285.6 87h0M286.9 62.8h0M286.6 80.8h0M286.7 82.3h0M286.7 83.7h0M286.8 91.6h0M287.4 81.9h0M288.1 73.8h0M289.9 90.3h0M290.9 77.7h0M290.4 91.6h0M292 63.2h0M292.2 91.2h0M293.1 80.8h0M293.1 87.3h0M294.6 89.8h0M295.6 80.5h0M298.7 86.2h0M298.2 86.2h0M298.3 86.9h0M298.5 88.2h0M299.6 72.4h0M299 86.3h0M300.2 84h0M300.2 87.8h0M301.7 90.7h0M302.7 83.5h0M302.7 86.1h0M303.2 90.1h0M304.8 90.5h0M305.6 87.2h0M306 88.8h0M306.6 82.1h0M306 90.7h0M307 77h0M308.1 89.4h0M309 84.5h0M309 85.3h0M309.7 90h0M310.5 80.5h0M312.6 84.5h0M312.5 85.3h0M314.7 89.2h0M317.2 89.5h0M319 83.4h0M318.8 91.9h0M319.7 72.9h0M321 86.4h0M320.8 91.6h0M321.7 87.3h0M321.7 91.7h0M323.6 87.4h0M324.1 89.4h0M325.9 80.9h0M326.2 78.7h0M326.8 82.6h0M326.6 91.7h0M327.4 85.6h0M329.8 83.8h0M329.4 87.2h0M329.5 88.1h0M330.9 89.3h0M332.7 91.9h0M333.1 76.9h0M333.1 78.3h0M333.2 82.4h0M334.9 78.3h0M334.8 84.2h0M335.5 84.8h0M335.6 88.5h0M335.4 90.1h0M336.7 88.6h0M337 91h0M337.8 90.2h0M338.7 74.5h0M338.4 82h0M339.8 89.6h0M339.5 91.8h0M340.1 79.6h0M340.4 84.6h0M341.5 88.9h0M341.2 91.2h0M342.5 58.2h0M342.1 66.3h0M342.3 77.4h0M343.7 84.7h0M344 85.2h0M343.8 89.6h0M343.6 90.8h0M344.9 61.2h0M344.9 85.1h0M347.5 72.3h0M347.2 84h0M347.9 87.5h0M347.9 89.2h0M347.4 91.1h0M348.1 89.1h0M350.6 78.7h0M350.4 83.3h0M353.5 88.3h0M353.1 91.2h0M356.3 86h0M357.3 89.5h0M358 90h0M358.5 91.8h0M359.7 75.4h0M360.2 73.3h0M360.4 80.7h0M360.6 91.5h0M361.1 86.1h0M362.8 84.6h0M363.4 87.5h0M363.4 90.7h0M365.7 86.7h0M365.2 89.4h0M365.8 91.4h0M366.2 79.9h0M368.5 71.9h0M368.9 81.8h0M368.8 86h0M369.6 70.3h0M369.2 88.2h0M370.7 69.5h0M371.2 79.2h0M371.5 80.7h0M371.2 89.2h0M372.7 80.3h0M372.4 87.7h0M372.3 87.9h0M373.2 90.8h0M374.7 88.3h0M377.4 85.8h0M378.1 90.7h0M382.2 81.4h0M382.6 88.9h0M382.3 88.3h0M386.9 84.4h0M387.6 89.3h0M388 73.7h0M389.3 91.1h0M390.2 79.3h0M391.2 69.5h0M392.7 82.2h0M392.5 86.2h0M393.6 81.1h0M394.5 74.2h0M394.4 77.8h0M394 84.2h0M395.4 78.4h0M396.5 56.9h0M396.3 79.9h0M397.7 50.5h0M397.9 62.4h0M397.8 76.9h0M397.5 88.5h0M399.6 70.1h0M399.2 86h0M400.2 82.9h0M400.6 88.3h0M401.7 82.8h0M401.6 83.2h0" stroke="#f07d1c" stroke-width="2.15" stroke-linecap="round" fill="none"/>
<path d="M46.2 84.9h0M51.7 90.3h0M52.3 78.1h0M52.3 90.8h0M55.5 89.3h0M57.5 77.2h0M57.2 84h0M62.3 84h0M63.3 79.9h0M63.8 90.1h0M63.4 90.4h0M65.1 72.8h0M65.8 74.7h0M65.2 90.5h0M66.1 81.9h0M69.7 90.8h0M71.5 91.6h0M72.5 88.2h0M72 89.3h0M73.8 90.3h0M77.9 88.7h0M83.4 88.9h0M83.2 88.1h0M84.2 83.9h0M85.8 54.7h0M85.2 75h0M86.3 90.5h0M87.1 73.8h0M87.8 76.3h0M87.6 84.6h0M87.8 85.4h0M87.7 88.1h0M87.6 88.9h0M88.2 84.9h0M90.6 86.9h0M90.6 86.9h0M91.9 82.3h0M91.6 86.8h0M93.2 88.6h0M94.3 88.9h0M95.7 86.1h0M95.1 90.8h0M96.4 83.7h0M97.3 83.9h0M99.5 87.7h0M101.5 86.5h0M101.6 87.4h0M102 85.1h0M103.6 79.2h0M103.9 82.4h0M104 82.1h0M104.9 85.8h0M105.9 83.1h0M105.1 89h0M106.2 86.9h0M106.2 91h0M108.5 88.3h0M109.6 75.4h0M109.9 83.9h0M109.8 85.1h0M110.1 78.7h0M110.1 80.2h0M110.7 84.1h0M111 72h0M111 90.3h0M112.6 82.4h0M113.1 84h0M115.2 89h0M116.2 77.8h0M116.7 81.4h0M116.9 85.7h0M116.8 85h0M117.3 84.6h0M118.6 89h0M119.3 60.8h0M119.9 81.1h0M119.1 81.1h0M119.8 83.6h0M119.5 85.1h0M119.3 87.7h0M121 83.5h0M121.9 88.2h0M122.5 76.6h0M123.2 86.1h0M124.3 73h0M124.1 74.4h0M124.9 85.5h0M124.1 86.3h0M126.2 90.3h0M127.3 69.7h0M129.1 89.3h0M132.4 81.5h0M132.3 88.3h0M133.2 88.4h0M135 85.4h0M135.8 90.6h0M136.4 87.1h0M136.1 92h0M137.1 91.9h0M138.7 75.1h0M138.8 77h0M139.3 76.9h0M139.5 80.4h0M140.3 85.3h0M140.2 91.3h0M142.9 70.3h0M143.1 82.2h0M143 83.9h0M145.4 88.6h0M145.7 88.9h0M145.8 91.6h0M146.5 89.8h0M147.1 89h0M148.7 81h0M148.4 88.6h0M148.9 88.3h0M149.8 89h0M150.2 77.4h0M150.1 84.3h0M150.9 90.5h0M151.3 82h0M154.1 88.2h0M155.7 86.6h0M155.2 86.1h0M156.6 75h0M156.3 76.7h0M156.1 81.6h0M156.7 88.1h0M156.1 90.1h0M157.2 66.9h0M157.5 70.6h0M157.6 78.8h0M157.6 82.8h0M157.2 91.9h0M158.4 64.9h0M158.6 76.2h0M158.1 82.2h0M158.1 87.8h0M159.8 74.6h0M159 78.5h0M159.3 80h0M159.6 88h0M160.1 83.3h0M161.7 72.9h0M161 77.7h0M161.1 78.2h0M161.1 80.9h0M161.7 82.3h0M161.2 85.6h0M161.6 87.2h0M162.2 79.2h0M162.6 81.4h0M163.4 82.5h0M163.5 87.5h0M163.5 91.7h0M164.2 79.6h0M164.5 84.2h0M165.6 59.6h0M165.3 66.2h0M166.1 78.6h0M166 86h0M167.5 79.1h0M168.8 81.6h0M168.7 88.5h0M170 84.7h0M169.2 91.1h0M170.4 55.8h0M171.2 58.1h0M171.2 67.9h0M172 74.6h0M173.1 57h0M173.4 69.2h0M173.1 79.6h0M173.2 82.6h0M174.3 74h0M174.4 79.3h0M175 80.8h0M174.9 86.3h0M175 65.6h0M176.6 69.9h0M176.5 70.1h0M176.7 81.6h0M176.7 86.9h0M177.1 76.6h0M177.1 77.8h0M177.6 77.9h0M178.3 83.5h0M178.6 89.3h0M180 82.4h0M180.9 82.6h0M181.8 71.8h0M182.7 64.4h0M182.4 76.2h0M182.1 78.3h0M183.8 66.5h0M183.2 73.7h0M184.8 76.1h0M184.8 90.3h0M186.8 71.1h0M186.9 87.7h0M186.7 87.9h0M188.9 87.5h0M188.3 90.9h0M189.3 88.6h0M190.9 84.2h0M190.6 87.5h0M192 77.6h0M192.1 91.4h0M193 73.6h0M193 76.9h0M193.7 77h0M193.2 91.4h0M194.8 84.9h0M194.8 88.6h0M195 73.3h0M197.6 84.5h0M200.3 75.9h0M200.8 79h0M201 87.5h0M203.2 87.2h0M203.9 89.6h0M204.6 85.8h0M204.1 86.3h0M205.5 77.6h0M205.1 89.2h0M206.9 82.4h0M207.8 77.1h0M207.7 83.8h0M207.6 83h0M207.7 88.5h0M207.9 91h0M208.7 83.4h0M208.5 83.3h0M210.6 76.4h0M210.8 77.3h0M210.1 82.3h0M212 84.2h0M211.1 86.6h0M212.8 87.9h0M213.1 78.8h0M213.4 90.5h0M215.3 80.7h0M215.9 84.6h0M218.4 88.3h0M219.7 79.1h0M219.7 90.9h0M221 85.9h0M221.5 80.9h0M221 83h0M223 85.2h0M222.7 88.4h0M223.5 80.9h0M223.9 81.1h0M224.3 85.2h0M224.9 89.3h0M225.6 77.4h0M225.2 80.9h0M228.6 88.1h0M229 89.2h0M230.7 90.2h0M231.8 84.5h0M232 86.9h0M231.8 88.1h0M231.6 89h0M231.3 91.1h0M232.5 80.7h0M233.2 75.9h0M233.8 76.7h0M233.4 80.7h0M233 82.9h0M234.2 58.3h0M234.6 80.7h0M235 80.8h0M234.2 88.4h0M235.7 66.2h0M235.1 81.5h0M236.6 80.3h0M236.6 87h0M236.3 88.2h0M238 88.3h0M237.4 91.5h0M238.5 65.8h0M238.6 85.6h0M239.3 73.6h0M239.2 83.9h0M239.9 90.3h0M239.8 91.3h0M240 69.7h0M241.4 88.4h0M241.6 90.3h0M242.9 83.1h0M242.2 85.5h0M242.7 86.7h0M242.7 90.2h0M243.8 91.1h0M244.4 85.1h0M245.2 91.3h0M246.9 86h0M247.5 70.5h0M249 68.9h0M248.4 72.3h0M248.3 81.7h0M248.4 85.9h0M249.9 77.8h0M250.6 88h0M250.7 90.2h0M250 91.6h0M251.5 81h0M251.7 87.7h0M252.7 78h0M253.4 87.2h0M253.2 89.3h0M254 91.2h0M254.5 62.5h0M254.1 88.7h0M254 89.2h0M256 70.9h0M256.3 60h0M256.8 73.8h0M256.1 74h0M256.4 74.3h0M256.3 81.6h0M257.8 80.5h0M257.5 87h0M257.7 90.3h0M257.8 91h0M258.2 74.4h0M259.4 63.5h0M259.4 76.8h0M259.5 82.2h0M260 77.1h0M260.6 83.3h0M260.1 86.8h0M260.4 87h0M260.8 89h0M260.2 91.5h0M261.7 74.4h0M262 90.9h0M262.9 89.9h0M263.7 79.3h0M263.3 83.3h0M263.2 91.9h0M263.4 91.8h0M264.1 77.2h0M264.9 83.1h0M264.1 85.5h0M265 85.1h0M265.5 68.6h0M265 84.9h0M265.1 91.2h0M266.1 70.7h0M266.7 79h0M266.7 83.2h0M267.2 74.2h0M267.7 87.3h0M267.1 88.3h0M267 91.1h0M268.3 79.5h0M269.3 72.1h0M270 79.2h0M270.6 90.6h0M271.4 71.7h0M272.4 83.6h0M273.9 85.5h0M273.4 87.8h0M273.8 91.2h0M274.5 82.7h0M274.4 88.5h0M275 87.7h0M276.1 79.2h0M277 80.5h0M276.9 85.6h0M276.9 85.8h0M276.3 90.7h0M279.7 73.3h0M279.4 73.4h0M280.5 75.6h0M281 77.1h0M280.9 79h0M281 82.5h0M281.7 74.8h0M281.9 76h0M281.6 77.4h0M282 78.6h0M283.2 91.5h0M284.2 85.8h0M285.6 76.8h0M285.3 88.2h0M286.6 54.7h0M286.5 60h0M286.3 82.1h0M286.4 82.3h0M286.6 88.2h0M286.8 91.4h0M287 72.2h0M288.2 61.4h0M288.8 79.4h0M288.9 81.9h0M288.6 91.5h0M289.7 65.5h0M291 61.5h0M290.5 62.2h0M290.8 88.9h0M291.3 76.2h0M291.5 90.7h0M292.1 87.1h0M292.1 88.5h0M293.8 84h0M294.1 82h0M295 91.5h0M295.8 76.6h0M295.4 86.7h0M298 83.9h0M299.2 78h0M299.5 84.8h0M299.5 85.7h0M300.8 79.8h0M300.7 80.6h0M300.7 85h0M301 86.6h0M300.8 89.8h0M301.1 83.2h0M303 78.5h0M302.4 88.6h0M302.9 89h0M303.2 68.9h0M303.2 72h0M304.8 83.9h0M305.1 89.8h0M305.7 89.6h0M306 89.8h0M306.8 89.6h0M308.4 76h0M309.2 74.9h0M309.7 85.4h0M311.5 86.5h0M311.7 90.3h0M312.7 86.8h0M312.6 88.9h0M313.8 86.2h0M313.9 88.3h0M315.2 90.6h0M316.9 86.4h0M316 90.8h0M317.5 81.9h0M317.1 86.1h0M317.7 88.8h0M320.9 89.4h0M322.8 70.2h0M322.6 82.6h0M324.6 87.4h0M325.8 72.7h0M325.1 79.2h0M325.8 83h0M326.8 79.3h0M327.9 90.7h0M328.6 68.2h0M328.3 72.9h0M328.8 89.8h0M328.3 92h0M329 71.6h0M329.5 76.2h0M329.7 84.3h0M330.9 81.5h0M330.5 86.9h0M330.2 90.8h0M331.6 79.8h0M331.9 91.1h0M333.5 70.8h0M333.9 76.2h0M333.7 91.3h0M334.2 87.1h0M334 91.2h0M335.4 87.7h0M336.1 79.7h0M336.6 90.3h0M338.1 75.6h0M338.5 81.7h0M338.3 86.9h0M339.6 78.8h0M339.3 80h0M339.1 82.9h0M339.7 87.2h0M341 63.8h0M340.3 74.9h0M340.5 77.7h0M340.3 77.5h0M340.6 79h0M340.9 88.6h0M341.1 85h0M341.1 86.1h0M342.9 64.8h0M342.2 66.9h0M342.8 74.7h0M342 87.9h0M342.3 91h0M343.4 74.1h0M344 88.9h0M344.2 92h0M345.5 81.1h0M345.8 82.3h0M345.5 87.7h0M346 89.4h0M347.6 81.4h0M350.6 73.1h0M350.2 89.6h0M351.1 90.2h0M352.3 90.7h0M355.1 78.1h0M355.3 85h0M355.9 85.2h0M358.5 83.4h0M360.6 70.4h0M361.1 71.1h0M361.8 89h0M362 89.3h0M364 43.7h0M363.9 69.8h0M363.3 77.6h0M363.7 85.7h0M364.4 74.7h0M365.9 88.7h0M366.6 76.2h0M367 82.5h0M366.6 87.5h0M366.7 87.5h0M367.4 80h0M367.3 90.7h0M368.5 81.6h0M369.3 84.9h0M369.8 87.9h0M369.2 91.4h0M370.9 85.2h0M370.1 87.5h0M370.3 88.9h0M371.5 83.5h0M372.3 68.1h0M372.9 87.7h0M372.3 89.7h0M372.6 90.5h0M373.5 75.9h0M374.6 88.5h0M376.5 71.3h0M376.5 86.5h0M376.7 91.5h0M377.8 82.5h0M377.4 88.7h0M378.4 63.5h0M378.1 78.1h0M378.3 83.8h0M378.3 85.1h0M379.6 90.5h0M380.2 83.3h0M381.7 80.2h0M381 82.7h0M382.3 85.7h0M382.7 85.6h0M382.9 91.1h0M383.1 85.6h0M384.3 89.5h0M385.5 81.5h0M385.3 83.2h0M386.7 63.2h0M386.2 65.3h0M386.9 73h0M386.9 88.3h0M386.7 90.7h0M387.3 78.1h0M387.7 90.3h0M389 75.7h0M388 85.3h0M388.7 88.8h0M389.7 69.8h0M389.3 79.2h0M389.5 81h0M389.7 84.1h0M389.8 89.7h0M389 90.2h0M392.3 91.8h0M393.7 85.3h0M394.2 74.1h0M395 84.2h0M395.2 74.3h0M395.9 79.4h0M395.6 80.5h0M396.5 84.4h0M397 85.5h0M398.8 91.6h0M399.2 67.8h0M399.8 84.2h0M399.6 91.2h0M400.2 90h0M400.9 90.6h0M401.8 81.9h0" stroke="#142d6a" stroke-width="2.15" stroke-linecap="round" fill="none"/>
<path d="M44.7 88.8h0M45.9 89h0M48.9 87.3h0M49.7 88.6h0M50.4 84.1h0M52.1 90h0M54.5 91.1h0M56.6 91.3h0M62.5 84.5h0M63.4 86.3h0M64.8 89.9h0M65.4 83.7h0M67 86.2h0M67.6 89.7h0M68.6 91.8h0M69.6 90.9h0M75.8 88h0M77.2 87.5h0M77.7 89.1h0M78.4 86.2h0M78.9 87.2h0M79.7 89.5h0M83.6 65h0M83.5 83.3h0M84.5 80.6h0M85 85.5h0M85.7 87.8h0M86.9 79.3h0M86.6 81.9h0M86.1 90.3h0M87.2 83.6h0M87.2 88.7h0M92 85.2h0M93.9 91.4h0M99.2 80.7h0M99.4 90.9h0M101 83.5h0M100.7 85.7h0M101.3 82.1h0M101.4 88.1h0M101 90h0M102.5 87h0M104 73h0M103.8 83.6h0M103.2 88.3h0M105.3 82.6h0M106.7 77.3h0M106.9 84h0M106.2 91.2h0M107.7 78.8h0M107.6 81.9h0M107.3 89.8h0M108.8 76.3h0M109.7 77.8h0M110.8 87.7h0M111.3 79.2h0M112 80.8h0M115.2 90.7h0M116.6 86.7h0M117.9 79.7h0M117.7 86.3h0M117.1 86.1h0M118.4 79.9h0M118.8 85.8h0M118.4 89.2h0M119.6 80.1h0M120.2 83.3h0M121.7 73.3h0M121.7 82.6h0M122.9 86.6h0M123.9 86.8h0M123.7 91.5h0M124.4 76.2h0M125.8 70.6h0M125.6 73.1h0M125.1 84.6h0M125.2 88.3h0M125.8 89.4h0M126.4 68.2h0M126.1 79.3h0M126.5 85.7h0M127.1 86.9h0M127.4 86.6h0M127.4 88.8h0M127.6 91.2h0M128.8 77.7h0M129.6 89.7h0M129.2 91.1h0M131.2 79.1h0M132.6 88.6h0M133.1 87.9h0M134.2 89.4h0M135.6 83.3h0M137.4 91.2h0M138.6 91.4h0M139.1 65.6h0M139.7 88h0M139.2 90.4h0M140.9 89.1h0M141.8 84.9h0M142.4 90.4h0M143.6 83h0M143.8 83h0M143.5 84.3h0M144.8 60.2h0M144.1 77.9h0M144.7 85.9h0M146.6 83.3h0M147.3 83.3h0M147 85.7h0M148.9 81.8h0M150.4 82.3h0M150.3 90.8h0M152.1 85.2h0M153 87.8h0M154.8 88.8h0M155.1 89.7h0M156.7 85.5h0M156.1 89.6h0M157.6 67.5h0M157.1 74.1h0M158 80.7h0M157.4 82.1h0M157.2 87.7h0M158.9 81.8h0M159 86.7h0M159.3 81.8h0M160 89h0M161.2 80.3h0M162.7 65.5h0M162 78.1h0M162.3 86h0M164 81h0M163.4 87.8h0M164 87.3h0M164.1 70.1h0M164.5 78.7h0M164.5 82.9h0M164.9 89.3h0M164.4 90.1h0M165.4 57.9h0M165.1 79.3h0M165.4 81.6h0M165.6 82h0M165.5 84.7h0M166.6 80.3h0M166.9 86.1h0M168.7 83.2h0M169.4 81.1h0M169.8 90.3h0M169.7 91.7h0M170.6 91.7h0M171.4 40.6h0M171.8 69.8h0M171.8 76.1h0M171.8 91.1h0M172 60.8h0M172.2 73h0M172.7 83.5h0M172.1 91.1h0M174.5 49.3h0M175 69.8h0M174.4 72.7h0M174.4 75.1h0M174.4 89.3h0M175.3 81h0M177.4 67.3h0M178.6 75.5h0M178.8 78.5h0M178.8 81.3h0M178 87.6h0M179 85.2h0M179.1 85.6h0M179.3 85.4h0M179.1 87.7h0M180.4 86.5h0M180.1 88.5h0M181.1 83.9h0M181.8 91.7h0M182.1 84.7h0M182.7 89.9h0M182.4 89.3h0M183.2 71.3h0M183.8 86.4h0M184.9 71.3h0M184.1 72.5h0M184.9 81.5h0M184.9 82.3h0M185.4 83.1h0M185.7 83.2h0M185.9 89.9h0M186.7 82.1h0M186.4 83h0M186.6 87.2h0M186.7 90h0M187.6 81.5h0M187.1 91.6h0M189.1 79.7h0M190.1 69h0M190.8 84.8h0M190.5 86h0M191.5 82.8h0M191.7 85h0M192.4 85.4h0M192.6 88h0M192.9 88.3h0M192.7 89.4h0M192.1 91.7h0M193.7 87.2h0M195 84.2h0M195 90.4h0M195.9 72.8h0M195.2 84.3h0M195.5 85.2h0M195.3 88.9h0M196.6 82.5h0M196.8 89.8h0M198.9 88.7h0M199.5 70.4h0M199 86.4h0M200.6 81.9h0M200.6 84.9h0M200.4 90.1h0M201.1 75h0M201.9 80.1h0M202 87.5h0M202.9 80.1h0M202.9 90.8h0M202.7 91.3h0M204 75.3h0M203.7 76.2h0M203.5 77.2h0M206 91h0M205.8 91.1h0M206 68.3h0M206 81.9h0M206.8 83.7h0M206.3 90.6h0M207 60.8h0M207.4 76.8h0M208 84.6h0M208 79.9h0M208.3 91.2h0M209.5 65.6h0M209.2 70.3h0M209.1 86h0M210.9 90.7h0M213.2 69.8h0M213.1 91.8h0M217.8 88.4h0M220.8 85.4h0M220.5 87.2h0M221.7 89.4h0M222.8 87.3h0M222.2 87.4h0M223.2 79.7h0M223.3 89.7h0M225.7 73.2h0M225.6 80.6h0M226.3 88.3h0M226.3 89.1h0M227.3 90.2h0M228.6 85.8h0M230.6 88.1h0M232 74.2h0M231.4 83.5h0M231.9 84.2h0M231.2 89.8h0M231.1 90.8h0M232.6 77.3h0M233 84.7h0M233.1 82h0M233.7 86.2h0M233.8 88.9h0M233.4 91.1h0M235 47.8h0M234.4 62.5h0M234.1 77.4h0M234.7 84h0M235.5 83.2h0M235.8 86.3h0M237.8 85.6h0M238.8 91.7h0M239.4 79.1h0M240.4 62.4h0M240.7 84.7h0M241.8 68.1h0M241.7 75h0M242.2 80.6h0M242.5 80.9h0M245.1 87.4h0M248.7 65.7h0M248.1 79.2h0M249 87h0M249.9 76.7h0M249.3 83h0M250.5 81.8h0M250.2 85.7h0M250.4 88h0M251.1 74.4h0M251.4 78.2h0M252.6 83.5h0M252.3 85.8h0M254.7 73.6h0M254 89.3h0M255 68.4h0M255.8 90.2h0M256.6 67.2h0M257.9 89.6h0M258.2 87h0M259.2 78.6h0M259.6 85.8h0M259.1 87h0M259.8 87h0M260.5 81.7h0M261.8 64.9h0M262.4 88.1h0M264.4 51.1h0M265.3 76.2h0M265.3 84.7h0M265.5 90.1h0M266.9 79.7h0M267.4 75.3h0M268.4 80.9h0M270.5 90h0M271.1 89h0M271.4 90.4h0M273 92h0M275.7 58.5h0M275.9 71.5h0M275.4 82.2h0M275.4 88.1h0M276.9 87.1h0M276.8 90.8h0M277 89.3h0M277.2 92h0M279.2 90.8h0M280.1 69.9h0M280.9 72.9h0M280.2 82.2h0M281.8 65.6h0M281.8 81.4h0M282.1 57.6h0M282.8 89.2h0M283.7 72.2h0M284.9 61.7h0M284.5 81.9h0M285.2 77.8h0M286 79h0M288.6 75h0M288.4 90.1h0M289.2 88.6h0M290.9 59.1h0M292.1 76.1h0M293.6 85.9h0M293.5 89.8h0M294.7 71.1h0M295.7 80.9h0M296.9 60.5h0M296.3 72.9h0M296.3 85.8h0M296.5 89.2h0M297.8 63.6h0M297.6 64.2h0M297.1 69.6h0M297.4 74.6h0M297.9 87.6h0M297.3 89.9h0M297.9 90.5h0M297.1 90.7h0M298.4 81.3h0M298.4 87h0M299.7 84.6h0M300.6 84.1h0M300.5 89.7h0M301.5 91.5h0M302 89.9h0M303.8 91.9h0M304.5 72.6h0M305.8 73.3h0M305.6 76h0M305.4 77.4h0M305.5 84.1h0M305.1 90.8h0M306.2 80.4h0M306.9 84.9h0M312.4 73.1h0M313 79.8h0M312.5 89.8h0M313.1 86.5h0M317.8 89.7h0M317.3 91h0M318.9 77.9h0M318.7 82.1h0M318.6 85.4h0M318.1 86.7h0M318.3 88.3h0M321.5 57.3h0M322.4 91.9h0M322.9 91.4h0M323.8 77.1h0M324 81.8h0M324.6 85.5h0M325 91.8h0M325.3 88.6h0M326.1 47.8h0M326.7 65h0M326.4 82.2h0M326.2 85.5h0M327.8 58.1h0M327.4 70.3h0M327.7 83.3h0M327.6 89.7h0M328.2 72.7h0M328.1 76.2h0M328.4 79.1h0M330.7 88.4h0M331.4 84.1h0M332.8 78h0M332.5 85h0M333.1 82.2h0M334.3 72.1h0M335.2 88.2h0M337.8 76.9h0M338.2 87.9h0M339.9 68.7h0M340.7 87.9h0M341.8 69.2h0M341.3 77.4h0M341.7 80.6h0M342.8 83.8h0M343.3 75.2h0M343.2 76.6h0M343.8 77.8h0M343.3 87.3h0M347.4 75.8h0M348.3 91.8h0M349.9 85.8h0M349.1 87.7h0M351 77.2h0M350.8 89.3h0M350.7 91h0M350.5 91.8h0M352.4 82.4h0M353.5 83.1h0M354.3 83.4h0M354.9 86.5h0M355.9 79.5h0M355.1 81.5h0M359.2 80.9h0M360.7 88.3h0M360.4 90.6h0M361.5 75.9h0M362 81.8h0M361.6 91.3h0M363.7 85.5h0M364.3 84.4h0M364.8 89.9h0M365.5 85.4h0M366.4 70.7h0M371.5 80.3h0M372.8 79.5h0M374.3 88.2h0M375.3 87.6h0M378.3 82.1h0M378.1 89.5h0M379.9 76.7h0M380.5 77.5h0M380.5 86.8h0M380.6 89.3h0M380.7 91.5h0M381.8 85h0M382 85.3h0M383.5 78.1h0M386.4 77h0M386 87.9h0M386.4 87.4h0M386.9 89.3h0M387.1 83.5h0M387.2 86.4h0M388.6 79.8h0M389.7 88.1h0M390.2 81.9h0M390.6 85h0M391.8 82h0M392.3 90.8h0M393.8 54.1h0M393.5 79.8h0M393.9 79.7h0M393.5 88.4h0M394 62.2h0M394.2 87.1h0M395.2 82h0M395.8 91.2h0M396.2 87.8h0M396.7 90h0M397.3 71.6h0M397.5 81.2h0M397.1 81.8h0M398 80.9h0M398.2 83.6h0M398.7 89.7h0M400.8 75.8h0M401.8 80.9h0M61.9 49.6h0M64.9 56.1h0M54.1 63.1h0M61.9 62.4h0M78.8 56.9h0M82.2 56.9h0M77.8 59.6h0M87.7 60.3h0M106.7 62.5h0M258.2 32.7h0M129.2 45h0" stroke="#f07d1c" stroke-width="2.15" stroke-linecap="round" fill="none"/>
<path d="M44.2 92h0M48.8 91.1h0M52.8 91.8h0M58.9 86h0M61.2 88.5h0M62.3 83.4h0M62.5 87.8h0M63 89.7h0M64.1 85.3h0M64.1 88.2h0M65.3 87.7h0M68.7 81.1h0M69.4 88.5h0M70.4 88.6h0M70.3 90.6h0M82.4 83.9h0M84.2 79.3h0M84.6 90.1h0M86 70.6h0M87 79.3h0M87.8 82.1h0M87.4 83.9h0M88.4 78.3h0M88.1 85.3h0M91.1 91.7h0M92.6 85.1h0M93.3 70.3h0M93.9 85.2h0M93.9 87.3h0M96.1 86.4h0M98.7 72.6h0M99.6 74.2h0M101.3 87.5h0M101.6 90.2h0M102.8 74.6h0M102 88.5h0M103.6 85h0M105.1 88.3h0M106.4 79.3h0M106.5 86.6h0M106.9 87.8h0M108.5 85.1h0M109.3 70.9h0M109.6 82.3h0M109.9 91.6h0M110.2 85h0M111.3 88.6h0M112.2 81.5h0M112.5 87.9h0M113.4 88.6h0M113.2 91.6h0M114.8 75.6h0M115.1 91.2h0M116.3 67.1h0M116.3 84.9h0M117.7 71.6h0M117.8 74.3h0M117.9 83.1h0M117.7 88.5h0M118 89.7h0M119.2 84h0M120.4 72h0M120.4 77.9h0M121.6 78.4h0M122.4 80.3h0M122.6 84.7h0M124.2 85.7h0M125.3 81.6h0M126 82.2h0M127 89.6h0M126.1 91.5h0M128 81.8h0M127.4 87.7h0M127.4 89.2h0M127.3 90.7h0M129.1 80.8h0M131.7 87.3h0M131.9 91.6h0M133 85.5h0M132.4 85.1h0M132.5 90.4h0M133.2 84.4h0M136 91.2h0M136.7 84.3h0M137.9 77.6h0M137.9 80.8h0M138 82.4h0M138.4 82.9h0M138.9 86.8h0M139.9 79.7h0M139.6 81.5h0M139.7 81h0M139.5 86h0M139 89.8h0M140.1 86.4h0M142.7 63.9h0M142.9 77.1h0M142.6 82.9h0M142.1 87.6h0M143.9 80.4h0M143 85.6h0M143.8 89.4h0M144.5 44.7h0M144.3 81.1h0M144.9 85.1h0M145.2 81.3h0M145.9 81.7h0M147.8 89.5h0M149 79.5h0M148.3 86.4h0M148.7 86.6h0M148.1 88.8h0M149.6 89.7h0M150.5 84.4h0M150.1 86.5h0M150.7 89.5h0M152.8 85.2h0M155.5 76.9h0M155.9 91.9h0M156.4 78.8h0M156.1 79.7h0M156.5 79.8h0M156.2 80.3h0M156.7 82.2h0M157.6 66.5h0M157.3 75.7h0M158 76.8h0M157.8 77.4h0M158.8 88h0M159.2 47.3h0M159.1 65.4h0M159.1 80.6h0M160.8 71.2h0M160.3 71.4h0M161.1 60.5h0M161.2 87h0M161.3 86.4h0M161.8 88.8h0M162.5 77.5h0M162.9 89.3h0M162.1 91.7h0M163.8 83.5h0M164.3 62.1h0M165.8 34.4h0M166 47.9h0M166.1 73.4h0M166.8 78.2h0M166.5 83.2h0M166.8 89h0M167.3 84.1h0M168.5 81.5h0M170 66.2h0M169.5 75h0M169.3 87.6h0M170.9 59.2h0M170 86.3h0M170.4 86.6h0M171.4 82.9h0M171.5 88.6h0M171.4 90.8h0M171.6 91.2h0M172.9 68.6h0M173.3 76.3h0M174.1 62.9h0M174.7 64.3h0M174.9 65.1h0M174 86h0M174.5 90.8h0M175.8 75h0M175.9 80h0M175.6 83.9h0M175.6 87.6h0M175.4 91.4h0M176.4 64.2h0M176.4 86.1h0M176.2 88.1h0M177.4 84.3h0M177.6 87.4h0M177.5 89.8h0M178.5 68.2h0M178.6 75.7h0M179.6 85.8h0M180.5 90.1h0M182.8 80.5h0M182.6 82.6h0M183.6 73.2h0M184.9 72.6h0M184.3 89.9h0M185.7 83h0M186.8 78.7h0M186.9 82.4h0M186.6 86.1h0M187 88h0M188.4 84.6h0M189.8 90.5h0M191.9 84.4h0M192 91.9h0M192.8 66.6h0M192 70.5h0M193.8 70.4h0M194.7 88.6h0M196.1 86.5h0M197.4 86.2h0M198.2 90.8h0M199.3 81.2h0M199.1 92h0M200.6 77.1h0M200.1 90.3h0M202.6 75.1h0M203.6 82h0M206 82.4h0M206.8 78.4h0M206.5 80.7h0M206.8 83.9h0M206.3 84.3h0M206.3 86.1h0M207 89h0M207.2 72.6h0M207.2 76.3h0M207.8 77.8h0M208.1 82.4h0M208.3 89h0M208.4 91.2h0M210.1 90.1h0M212.5 89.3h0M213.8 80.9h0M213.9 83.4h0M213.9 91.5h0M214.4 74.7h0M215.9 76.9h0M216.7 83.3h0M217.8 77.7h0M217.1 80h0M217.1 81h0M217.4 84.1h0M217.2 91.2h0M218.3 87.6h0M218.5 91.7h0M219.5 89.7h0M221.5 88.8h0M222.5 85.1h0M222.5 88h0M224.5 75.3h0M224.4 76.9h0M225.9 83h0M225.3 89.7h0M226.6 69.7h0M226.4 84.8h0M226.5 84.7h0M226.8 89.1h0M227.7 80.9h0M227.3 87.3h0M228.1 82.5h0M228.6 84.5h0M228.7 87.1h0M230 87.9h0M230.6 86.2h0M232.1 68.7h0M232.5 74.4h0M232.9 81.5h0M232.1 87.3h0M233.5 57.6h0M233.2 74h0M233.3 85.6h0M234.9 59.6h0M235.4 58.2h0M235.2 86.1h0M236.1 83.5h0M236.9 89.3h0M237.4 80.9h0M237.1 85.8h0M238.3 70.6h0M238.5 73h0M238.9 89.2h0M239.7 81.7h0M239.6 91.3h0M240.8 65.4h0M241.8 78.6h0M241.9 91.6h0M242.7 83h0M242.7 84h0M244 80.7h0M243.3 81.6h0M243 86.3h0M243.5 90.7h0M244.2 68.2h0M245.3 90h0M248.4 84.4h0M248.8 84.2h0M249.2 79.7h0M249.7 82.9h0M249.1 87.7h0M250.2 86.1h0M251.2 80.6h0M251 90.8h0M254.4 72.6h0M254.4 82.7h0M254.9 85.5h0M254.5 86h0M254.6 90.6h0M255.3 82.5h0M256.3 79.8h0M257.4 80h0M258.5 81.4h0M258.9 86.7h0M259.1 53.5h0M259.2 64.6h0M259.6 80.3h0M260.1 69.6h0M260.5 74.8h0M260.6 90.3h0M261.4 81.4h0M263 81.7h0M263.2 82h0M264 85.1h0M263.5 88h0M264.4 91.6h0M265.1 65.3h0M265.5 79.4h0M265 82.3h0M265.5 84.9h0M265.2 89.8h0M266.1 88.4h0M267.2 82.2h0M268.2 86.6h0M270 88h0M270.6 90.1h0M271.6 86h0M272.1 81.6h0M272.5 91.6h0M273.1 85.4h0M274.5 71h0M274 85.7h0M274.2 91.6h0M275.6 60.2h0M275.5 71.8h0M275.1 88.6h0M275.4 89.4h0M276 82.9h0M276.9 83.3h0M277.9 73.1h0M277.5 77.1h0M277.7 86.9h0M277.9 89h0M278.7 84.4h0M279.5 80.4h0M281.6 83.9h0M281.1 90.2h0M284.9 64.6h0M285.5 84.8h0M286.3 63.5h0M286.3 66h0M286.8 68.5h0M287.6 72.1h0M288.6 60.7h0M288.5 61.3h0M288.9 74h0M288.8 83.9h0M289.6 82.6h0M290.2 85.6h0M290.8 86.7h0M290.5 91h0M291.9 46.4h0M291 77h0M291.1 87.9h0M291.2 88.7h0M292.3 81.7h0M292.5 82.2h0M292.6 89.1h0M293.1 72.9h0M293.1 77.5h0M293.7 91.3h0M294.6 87.2h0M294.3 89.3h0M295.4 82h0M295.2 89.2h0M296.1 67.1h0M296.5 75.8h0M296.4 76.9h0M296.9 79h0M296.8 85h0M296.2 88.9h0M297.2 81.5h0M298.9 77.6h0M298.7 87.1h0M299.3 75.6h0M299.4 77.4h0M300.6 85.1h0M301.8 91h0M302.5 84.5h0M302.7 84.2h0M303.3 36.2h0M303.7 79.4h0M303.2 87.3h0M305 80.4h0M304.9 86.1h0M304.9 87h0M304.2 88.9h0M304.6 90.9h0M304.5 92h0M305.5 77.7h0M305.8 80.3h0M306.3 87.6h0M306.3 89.6h0M308.7 91.3h0M312.9 86.8h0M312.8 86.9h0M312.5 88.1h0M313 84.8h0M315 86.1h0M315.9 77.7h0M315.4 88.5h0M315.2 90.4h0M316.9 84.9h0M316.7 91.2h0M317.3 74.1h0M317.3 88.2h0M318 89.9h0M317 91.9h0M318.4 77.4h0M318.6 82h0M318 89.1h0M318.9 89.7h0M319.7 90h0M320.7 91.8h0M321.5 84.2h0M321.4 88.9h0M322.9 68.3h0M322.4 75.9h0M323.6 81.2h0M323.5 83.4h0M323 85.7h0M325 65.4h0M324.3 90.6h0M324.9 91h0M325.8 78.1h0M325.3 86.2h0M325.3 90.3h0M326.7 68.2h0M327.1 54.1h0M327.7 71.1h0M327.7 78.7h0M327.6 81.5h0M327.2 85.8h0M328 91.5h0M328.9 76.7h0M328.3 84h0M329.4 87.6h0M330.1 83.1h0M330.6 88.9h0M331.7 87.2h0M333.2 62.9h0M333.1 79.9h0M333.4 88.4h0M333.2 89.1h0M333.3 90.9h0M333.2 91.3h0M335.7 84.5h0M335.1 89.6h0M337 72.6h0M336.2 83.6h0M336.6 91.9h0M337.5 78.7h0M338.3 85.3h0M340.2 85.1h0M341.5 66.7h0M341.9 70.1h0M341.4 83.5h0M341.2 89.7h0M342.6 62.9h0M342.8 67.2h0M342.5 80.5h0M342.8 83.9h0M343.9 79.6h0M344.9 84h0M345.1 84.4h0M345.4 86h0M347.9 91.9h0M351 83.1h0M350.7 89.2h0M353.5 77.2h0M354.9 89.1h0M354.4 89.3h0M355.2 63.1h0M355.4 83.7h0M355.5 84.4h0M356.5 80.4h0M358.2 84.5h0M359.8 72.3h0M360.3 85.8h0M360.4 87.5h0M361.1 82.1h0M361.4 88.2h0M362.4 87.2h0M363.8 80.9h0M363.7 90.5h0M364.3 76.1h0M364.9 78.8h0M367.5 80.8h0M368 85.3h0M368.5 91h0M369.3 82.1h0M369.7 87.5h0M369.4 91.9h0M369.6 91.7h0M370.1 67.2h0M371 72.4h0M370.9 84.9h0M372.6 90.2h0M373.7 90.6h0M373.1 90.1h0M374.1 83h0M377 88h0M376.1 91.9h0M377.5 89.8h0M378.9 78.9h0M378.1 84.5h0M378.7 90.5h0M379.7 90.9h0M380.7 77.6h0M381 89.3h0M381.5 81.9h0M383.1 89.3h0M385.4 88h0M386.8 79.4h0M386.4 83.5h0M386.9 85.1h0M387 89.9h0M388.9 73.6h0M388.8 84.1h0M389.7 78.3h0M389.8 90.3h0M393 70.3h0M392.8 75h0M392.5 82.2h0M393 88.2h0M392.7 91h0M393.7 86.3h0M395 83.1h0M394.4 83.8h0M395.4 74.9h0M395.2 76h0M396.9 84.9h0M397.2 76.5h0M397.3 80.8h0M397.8 81.6h0M397.3 90.1h0M399.6 76.8h0M400.5 89.5h0M400.8 90.6h0M401.8 82.9h0M48.1 47.7h0M61.9 51h0M110.4 34.7h0M113.6 39.9h0M117 51h0M99.7 52.1h0M87.4 53.5h0M87.4 55.4h0M84.4 53.6h0M100.7 59.6h0M105.2 61.3h0M113 56.1h0M114 57.6h0M118.5 58.4h0M80 62.4h0M238.2 34.7h0M250.8 37.2h0M252.6 40.6h0M400.4 33.9h0M384.4 42.8h0M172.6 44.6h0M329.6 41h0" stroke="#142d6a" stroke-width="2.15" stroke-linecap="round" fill="none"/>
<path d="M26.8 30V94.5H419.5" stroke="#111" stroke-width="1.1" fill="none"/>
<path d="M27 91.6H420" stroke="#111" stroke-width="0.9" stroke-dasharray="4 2.5" fill="none"/>
<path d="M24.3 48.8H26.8" stroke="#111" stroke-width="0.8"/>
<text x="23.8" y="51.2" font-family="Liberation Sans, sans-serif" font-size="6.7" fill="#222" text-anchor="end">100</text>
<path d="M24.3 70.3H26.8" stroke="#111" stroke-width="0.8"/>
<text x="23.8" y="72.7" font-family="Liberation Sans, sans-serif" font-size="6.7" fill="#222" text-anchor="end">50</text>
<path d="M24.3 91.8H26.8" stroke="#111" stroke-width="0.8"/>
<text x="23.8" y="94.2" font-family="Liberation Sans, sans-serif" font-size="6.7" fill="#222" text-anchor="end">0</text>
<path d="M66.2 94.5V96.5" stroke="#111" stroke-width="0.7"/>
<text x="66.2" y="102" font-family="Liberation Sans, sans-serif" font-size="6.2" fill="#222" text-anchor="middle">1</text>
<path d="M99.8 94.5V96.5" stroke="#111" stroke-width="0.7"/>
<text x="99.8" y="102" font-family="Liberation Sans, sans-serif" font-size="6.2" fill="#222" text-anchor="middle">2</text>
<path d="M122 94.5V96.5" stroke="#111" stroke-width="0.7"/>
<text x="122" y="102" font-family="Liberation Sans, sans-serif" font-size="6.2" fill="#222" text-anchor="middle">3</text>
<path d="M143 94.5V96.5" stroke="#111" stroke-width="0.7"/>
<text x="143" y="102" font-family="Liberation Sans, sans-serif" font-size="6.2" fill="#222" text-anchor="middle">4</text>
<path d="M161.4 94.5V96.5" stroke="#111" stroke-width="0.7"/>
<text x="161.4" y="102" font-family="Liberation Sans, sans-serif" font-size="6.2" fill="#222" text-anchor="middle">5</text>
<path d="M182.8 94.5V96.5" stroke="#111" stroke-width="0.7"/>
<text x="182.8" y="102" font-family="Liberation Sans, sans-serif" font-size="6.2" fill="#222" text-anchor="middle">6</text>
<path d="M206.2 94.5V96.5" stroke="#111" stroke-width="0.7"/>
<text x="206.2" y="102" font-family="Liberation Sans, sans-serif" font-size="6.2" fill="#222" text-anchor="middle">7</text>
<path d="M226.8 94.5V96.5" stroke="#111" stroke-width="0.7"/>
<text x="226.8" y="102" font-family="Liberation Sans, sans-serif" font-size="6.2" fill="#222" text-anchor="middle">8</text>
<path d="M248.4 94.5V96.5" stroke="#111" stroke-width="0.7"/>
<text x="248.4" y="102" font-family="Liberation Sans, sans-serif" font-size="6.2" fill="#222" text-anchor="middle">9</text>
<path d="M265.4 94.5V96.5" stroke="#111" stroke-width="0.7"/>
<text x="265.4" y="102" font-family="Liberation Sans, sans-serif" font-size="6.2" fill="#222" text-anchor="middle">10</text>
<path d="M276.9 94.5V96.5" stroke="#111" stroke-width="0.7"/>
<text x="276.9" y="102" font-family="Liberation Sans, sans-serif" font-size="6.2" fill="#222" text-anchor="middle">11</text>
<path d="M288.3 94.5V96.5" stroke="#111" stroke-width="0.7"/>
<text x="288.3" y="102" font-family="Liberation Sans, sans-serif" font-size="6.2" fill="#222" text-anchor="middle">12</text>
<path d="M309.6 94.5V96.5" stroke="#111" stroke-width="0.7"/>
<text x="309.6" y="102" font-family="Liberation Sans, sans-serif" font-size="6.2" fill="#222" text-anchor="middle">13</text>
<path d="M337.2 94.5V96.5" stroke="#111" stroke-width="0.7"/>
<text x="337.2" y="102" font-family="Liberation Sans, sans-serif" font-size="6.2" fill="#222" text-anchor="middle">14</text>
<path d="M359.5 94.5V96.5" stroke="#111" stroke-width="0.7"/>
<text x="359.5" y="102" font-family="Liberation Sans, sans-serif" font-size="6.2" fill="#222" text-anchor="middle">15</text>
<path d="M376.5 94.5V96.5" stroke="#111" stroke-width="0.7"/>
<text x="376.5" y="102" font-family="Liberation Sans, sans-serif" font-size="6.2" fill="#222" text-anchor="middle">16</text>
<path d="M388 94.5V96.5" stroke="#111" stroke-width="0.7"/>
<text x="388" y="102" font-family="Liberation Sans, sans-serif" font-size="6.2" fill="#222" text-anchor="middle">17</text>
<path d="M397.6 94.5V96.5" stroke="#111" stroke-width="0.7"/>
<text x="397.6" y="102" font-family="Liberation Sans, sans-serif" font-size="6.2" fill="#222" text-anchor="middle">18</text>
<text x="222.3" y="110.8" font-family="Liberation Sans, sans-serif" font-size="7.6" fill="#222" text-anchor="middle">Chromosome</text>
<text transform="translate(11.0 65) rotate(-90)" font-family="Liberation Sans, sans-serif" font-size="8.2" fill="#222" text-anchor="middle">−log<tspan font-size="5.2" dy="1.7">10</tspan><tspan dy="-1.7">(</tspan><tspan font-style="italic">p</tspan>−value)</text>
<text x="41.8" y="42.6" font-family="Liberation Sans, sans-serif" font-size="8.3" font-style="italic" fill="#f0883a" stroke="#f0883a" stroke-width="0.25" transform="translate(41.8 42.6) scale(0.95 1) translate(-41.8 -42.6)">MYO5B</text>
<text x="76.4" y="50.5" font-family="Liberation Sans, sans-serif" font-size="8.3" font-style="italic" fill="#f0883a" stroke="#f0883a" stroke-width="0.25" transform="translate(76.4 50.5) scale(0.95 1) translate(-76.4 -50.5)">CMYA5</text>
<text x="131.1" y="51" font-family="Liberation Sans, sans-serif" font-size="8.3" font-style="italic" fill="#f0883a" stroke="#f0883a" stroke-width="0.25" transform="translate(131.1 51) scale(0.95 1) translate(-131.1 -51)">TPM3</text>
<text x="160.7" y="42.8" font-family="Liberation Sans, sans-serif" font-size="8.3" font-style="italic" fill="#f0883a" stroke="#f0883a" stroke-width="0.25" transform="translate(160.7 42.8) scale(0.95 1) translate(-160.7 -42.8)">MYF6</text>
<text x="193.3" y="42.8" font-family="Liberation Sans, sans-serif" font-size="8.3" font-style="italic" fill="#f0883a" stroke="#f0883a" stroke-width="0.25" transform="translate(193.3 42.8) scale(0.95 1) translate(-193.3 -42.8)">TGFB3</text>
<text x="237.8" y="51" font-family="Liberation Sans, sans-serif" font-size="8.3" font-style="italic" fill="#f0883a" stroke="#f0883a" stroke-width="0.25" transform="translate(237.8 51) scale(0.95 1) translate(-237.8 -51)">MYBPH</text>
<text x="278" y="42.8" font-family="Liberation Sans, sans-serif" font-size="8.3" font-style="italic" fill="#f0883a" stroke="#f0883a" stroke-width="0.25" transform="translate(278 42.8) scale(0.95 1) translate(-278 -42.8)">SOX9</text>
<text x="322.7" y="42.8" font-family="Liberation Sans, sans-serif" font-size="8.3" font-style="italic" fill="#f0883a" stroke="#f0883a" stroke-width="0.25" transform="translate(322.7 42.8) scale(0.95 1) translate(-322.7 -42.8)">ACTA2</text>
<text x="349.2" y="51" font-family="Liberation Sans, sans-serif" font-size="8.3" font-style="italic" fill="#f0883a" stroke="#f0883a" stroke-width="0.25" transform="translate(349.2 51) scale(0.95 1) translate(-349.2 -51)">MYL1</text>
<text x="380.7" y="42.8" font-family="Liberation Sans, sans-serif" font-size="8.3" font-style="italic" fill="#f0883a" stroke="#f0883a" stroke-width="0.25" transform="translate(380.7 42.8) scale(0.95 1) translate(-380.7 -42.8)">BMP7</text>
<ellipse cx="493.9" cy="59.1" rx="36.3" ry="34.9" fill="#fb8a87" stroke="#333" stroke-width="0.6"/>
<ellipse cx="511" cy="58.5" rx="32.25" ry="30.9" fill="#7da5d7" stroke="#333" stroke-width="0.6"/>
<clipPath id="cr"><ellipse cx="493.9" cy="59.1" rx="36.3" ry="34.9"/></clipPath>
<ellipse cx="511" cy="58.5" rx="32.25" ry="30.9" fill="#8e6e96" clip-path="url(#cr)"/>
<ellipse cx="493.9" cy="59.1" rx="36.3" ry="34.9" fill="none" stroke="#333" stroke-width="0.6"/>
<ellipse cx="511" cy="58.5" rx="32.25" ry="30.9" fill="none" stroke="#333" stroke-width="0.6"/>
<text x="464.2" y="21.2" font-family="Liberation Sans, sans-serif" font-size="9" fill="#222" text-anchor="middle">This study</text>
<text x="527.5" y="21.2" font-family="Liberation Sans, sans-serif" font-size="9" fill="#222" text-anchor="middle">PigGTEx</text>
<text x="508" y="104.6" font-family="Liberation Sans, sans-serif" font-size="9" fill="#222" text-anchor="middle">eGene</text>
<text x="470.5" y="60.1" font-family="Liberation Sans, sans-serif" font-size="10" font-weight="bold" fill="#fff" text-anchor="middle">3239</text>
<text x="505.3" y="60.1" font-family="Liberation Sans, sans-serif" font-size="10" font-weight="bold" fill="#fff" text-anchor="middle">7819</text>
<text x="531.8" y="60.1" font-family="Liberation Sans, sans-serif" font-size="10" font-weight="bold" fill="#fff" text-anchor="middle">1905</text>
<path d="M59.1 232.2h0M63.5 236.2h0M108.2 192.2h0M64.1 231.9h0M54.3 243.8h0M131.7 180h0M116.5 180.1h0M79.3 229.2h0M115.7 211.1h0M50.4 245.9h0M70.3 219.4h0M52.8 246.1h0M78.5 226.5h0M50.7 243.5h0M63.6 230.8h0M84.7 212.5h0M70.4 225.7h0M53.8 244.1h0M79.2 209.5h0M53.3 243.6h0M70.6 231.3h0M78.3 205.6h0M54.4 245.8h0M52.4 244.7h0M56.3 240.3h0M53.9 243.2h0M52.1 246.2h0M62.1 239.1h0M51.4 244.9h0M57.4 239.2h0M49.9 244.2h0M102.8 211.7h0M87.8 221.6h0M65 231.9h0M78.3 235.4h0M50.6 246.2h0M69.5 217.6h0M52.2 246.2h0M81.2 219.5h0M78.7 217.4h0M94.7 214.6h0M51.9 246.4h0M58.6 238.9h0M61.2 236.6h0M77.2 227h0M61.3 234.2h0M79.2 229.8h0M49.8 244.5h0M50.9 245.9h0M101.1 191h0M63.6 223.6h0M88.3 199.7h0M60 240h0M105.4 209.8h0M57.7 242.3h0M101.2 191.9h0M60.2 232.8h0M71.2 222h0M74.5 233h0M76 215.9h0M88.6 196.1h0M75 238.8h0M86.9 212.8h0M63.1 240.2h0M58.5 239.3h0M58.8 239.1h0M62.3 218h0M77.5 226.2h0M67.5 238.8h0M51.3 244.3h0M57 244.9h0M102.5 197.3h0M104.7 189.3h0M52.4 244.2h0M89 204.9h0M73.8 232.5h0M70.9 226.4h0M58.9 233.2h0M56.1 242h0M68.5 237h0M56.8 241.4h0M89.3 212h0M66.9 221.1h0M70.1 237.4h0M54.6 246.2h0M61.8 235.2h0M78.6 229.7h0M55.6 239.4h0M63.2 231h0M73.4 225.8h0M66.2 241.7h0M91.7 226.3h0M81 205.1h0M65.8 232.7h0M62.3 240.2h0M78.6 216.8h0M65.5 237.6h0M99.3 196.2h0M68.8 230.3h0M58.5 242.9h0M65 232.4h0M91.1 188.9h0M52.5 244.9h0M61.2 238.5h0M79 207.6h0M65.5 227.6h0M88.9 223.1h0M99.7 196.3h0M74.5 226.4h0M68.9 220.2h0M72.1 232.8h0M63.3 226.9h0M53.2 244.1h0M64.5 234.2h0M68.9 224.8h0M85.8 206.6h0M52.3 242.7h0M82.1 228.7h0M79.4 225.2h0M86.7 211.9h0M58.9 238.7h0M62 226.2h0M54.2 245.4h0M55.1 237.5h0M74.9 214h0M56.8 243.9h0M52.3 244.8h0M68.5 234.9h0M70.5 216.3h0M69.2 227.7h0M59.9 233.5h0M68.3 213h0M80 226h0M112.5 197.4h0M61.2 244.3h0M84.8 223.3h0M124.8 174.8h0M52.6 245.5h0M57.6 241.7h0M62 245.3h0M96.2 186.7h0M58.7 233.6h0M72.4 233.7h0M68.5 226.5h0M72.8 221.9h0M62.9 232.1h0M65.7 231.6h0M55.9 245.1h0M125.3 181.7h0M52.2 244.3h0M53.7 241.2h0M76.1 204h0M69.1 240.8h0M66 237.2h0M58.8 236h0M65.8 226.1h0M80.4 215.9h0M84.1 199.9h0M64.7 235.7h0M52.7 245.4h0M67.6 221.8h0M53.9 246.5h0M90.5 213.8h0M53.3 246h0M110.6 184.8h0M105.5 201.6h0M96.6 195.8h0M79.6 218.7h0M77.9 220.9h0M51.3 243.8h0M55.4 239h0M67.1 218.2h0M53.8 238h0M52.8 240h0M58.3 236h0M57 241.6h0M61.7 243.9h0M74.7 226.6h0M91.2 219.8h0M80.2 204.1h0M71.9 225.2h0M67.6 236.8h0M63.5 237h0M60.9 246.1h0M65.9 227h0M59.3 246.2h0M63.3 232.8h0M78.6 229.8h0M59.3 229h0M64.6 234.3h0M65 231.1h0M104.5 221.4h0M55.7 243.5h0M87 219.2h0M50.5 245.6h0M100.7 205.3h0M55.4 238.3h0M50.3 244h0M61 241.2h0M94.4 226.3h0M57.1 240.8h0M58.5 238.7h0M85.3 220.2h0M58.8 239.7h0M67 228.1h0M51.9 245.7h0M56.4 244.7h0M71 233.4h0M56.4 244.6h0M57.8 240.5h0M74.4 228.1h0M80.4 220.2h0M118.1 185.4h0M83.9 218h0M71.9 223.9h0M70.9 222.6h0M60.9 239.8h0M69.8 235.1h0M59.2 233.8h0M58.1 239.7h0M102 199.9h0M57.2 246.5h0M77.7 200.9h0M53.7 245.9h0M71.6 220.9h0M60.3 237.3h0M54.4 243.8h0M71.6 235.9h0M54.3 245.2h0M50.7 243.5h0M50.3 245.8h0M58 240.2h0M79.1 196.3h0M95.7 199.4h0M61.1 241.5h0M56.9 243.7h0M66.3 240.2h0M52.5 245.7h0M56.9 244.2h0M89.5 212.3h0M53.4 245.8h0M50.9 244.4h0M57.6 242h0M113.8 191.6h0M51.3 246h0M54.6 240.5h0M91.6 189.5h0M90.5 221.4h0M55.6 245.9h0M67.3 241.3h0M56 237.4h0M54.7 245.6h0M61 236.7h0M52.7 240.5h0M55.2 241h0M55.1 244.5h0M51.1 243.4h0M61.5 236.6h0M56.4 244.4h0M112.9 192.5h0M56.5 240.3h0M67.4 225.7h0M55.3 242.1h0M93.7 212.7h0M53.4 243.7h0M56.7 234.7h0M66.8 230h0M54.3 241.7h0M66 240.6h0M67.1 228.6h0M80.6 225.2h0M52.9 240h0M106.7 188h0M56.4 244.2h0M53.4 236.3h0M115.2 184.1h0M62 237.6h0M50.9 244.8h0M105.9 199.9h0M61.8 236.9h0M86.5 212.6h0M57.4 232.6h0M53.8 243.5h0M97.2 194.8h0M50.2 243.1h0M73.7 237.3h0M68.8 225.4h0M116.3 183.5h0M57.9 245.9h0M68.3 223.5h0M62.6 244.8h0M95.3 213.7h0M64.6 235.3h0M51.6 245.5h0M59.5 231.8h0M71.2 224.8h0M123 166.9h0M50.8 246.2h0M55.3 243.3h0M52.7 237.8h0M113.1 196h0M54.1 241.7h0M73.2 214.6h0M59.1 233.1h0M61.1 237.7h0M53.2 245.5h0M77 229.3h0M51.6 242.9h0M59.8 230.4h0M55.5 242.6h0M84.6 205.9h0M60.1 242.5h0M56.7 244h0M95 199.7h0M56.3 239h0M58.6 242.6h0M72.6 226.6h0M76.9 222.3h0M51.1 235.5h0M58.1 241.4h0M60.4 245.1h0M53.6 244h0M51.9 243h0M66.2 231.8h0M93.3 193.5h0M78 221.6h0M66.5 222.3h0M78.3 215.7h0M77.7 209.7h0M55.7 245.4h0M50.8 245.1h0M52.1 244.7h0M56.4 242.8h0M54.5 244.8h0M66.6 243.3h0M72.6 239.8h0M74.8 226.6h0M53 246.3h0M63.2 232.6h0M89.3 220.4h0M132 198.7h0M79.5 218.6h0M55.7 244.6h0M57.6 239.1h0M53.1 243.8h0M55.5 237.3h0M70.7 226.5h0M54.5 245.6h0M49.9 245.5h0M56.4 244.4h0M116.8 198.8h0M51.2 244.7h0M67.2 239.1h0M66.2 223.7h0M82.7 219h0M61.6 239.8h0M70 222.3h0M96.5 206.9h0M55.6 242.8h0M60.8 241.7h0M65.5 234.2h0M57.5 244h0M79.3 208.4h0M85.1 212.7h0M107.4 201.2h0M84.7 219.6h0M53.1 240.3h0M83.5 204.3h0M52.2 245.2h0M81.8 224.1h0M56.3 235.3h0M136.1 161.3h0M75.4 214.2h0M52.9 245.8h0M50.9 246h0M51.5 246.3h0M84.7 225.8h0M101.4 190.6h0M67.1 223h0M55.8 238.5h0M62.1 236.8h0M64.9 227.7h0M53.5 242.6h0M55.7 237.2h0M122.4 190.9h0M92.4 212.6h0M59 238.6h0M101.2 201.7h0M59.5 240.4h0M57.6 238.6h0M81.9 221.8h0M59.4 236.4h0M94.3 202.9h0M90.4 213.7h0M116.3 189.9h0M64.1 233.3h0M56.1 235.3h0M80.2 211.4h0M72.1 234.1h0M54.3 242.8h0M66.4 228.2h0M78 226.4h0M54.6 245.4h0M63.1 237.6h0M57.7 240.1h0M96.2 213.8h0M62.6 221.7h0M52.1 245.7h0M64.4 238.8h0M63.2 237.8h0M59 244.1h0M81.6 212.1h0M84.5 214h0M59.2 244.2h0M76.1 215.4h0M112.4 193.9h0M84.4 213h0M53.7 244.7h0M51.8 244.7h0M58.9 241.5h0M116.1 188.2h0M67.9 219.9h0M76.1 203.5h0M75.9 219.7h0M98.6 206.8h0M83.4 218.4h0M90.2 211.8h0M49.5 243.5h0M84.1 211.2h0M59 239.6h0M102.8 193.1h0M82.4 228.7h0M118.6 172.2h0M94.6 228.1h0M66.8 228.6h0M74.9 224.8h0M74.6 235.2h0M62.6 228h0M56 245.6h0M64.9 230.2h0M75.5 228.2h0M66.2 220.3h0M68.1 232.1h0M87.4 212.7h0M65.4 234h0M62.9 238.2h0M118.4 188h0M64.7 241.8h0M96.4 203.5h0M59.2 243.1h0M105.3 190.1h0M62.8 227.9h0M84.8 208.4h0M60.4 236.2h0M52 243.6h0M84.7 209.3h0M76.9 211.3h0M50.2 244.5h0M61.4 240.9h0M51.2 245.5h0M68.3 223.8h0M110.6 181.8h0M91.4 211.3h0M93.6 213.1h0M56.9 243.6h0M58.4 236.1h0M57.3 236.4h0M50 243.5h0M83.4 216.5h0M76.9 219h0M53.4 245.4h0M124.2 182.4h0M50.9 245.9h0M64.8 225.9h0M52.5 245h0M93.4 217.6h0M63.8 241.6h0M86.9 200.9h0M109 186.5h0M57.1 240.5h0M99.9 219.7h0M75.9 224.9h0M59.3 239.2h0M79.2 205.3h0M65.6 229.4h0M58.5 239.4h0M50.7 246h0M85.4 219.9h0M98.4 194.2h0M55.5 241.8h0M61.9 232.9h0M55.4 241.7h0M61.2 234.9h0M50.4 245.1h0M70.8 227.6h0M53.1 241.2h0M84.4 208.7h0M75.1 221.8h0M75.7 231.6h0M93.4 201.9h0M79.3 204.2h0M64.3 233.8h0M51.9 244.6h0M61.1 226.7h0M75.8 216.5h0M81.3 205.7h0M64.1 240.2h0M93 207.7h0M65.7 233.9h0M61.2 237.7h0M53.5 242.4h0M51.3 245.9h0M51.8 246.2h0M67.9 230.8h0M80.1 215.7h0M64.7 229.1h0M133.5 179.1h0M52 244h0M78.6 215.7h0M71.7 220.2h0M53 243.7h0M125.7 184.2h0M84.4 207.9h0M76.6 224.7h0M54.3 244.9h0M51.3 242.5h0M56.1 240h0M56.7 241.7h0M87.2 215.8h0M51.6 245.9h0M58.5 240.3h0M82.2 223.8h0M75 230.3h0M54.8 239h0M68 229.1h0M52.8 241.9h0M59.2 240.1h0M57 243.8h0M95.1 204.9h0M75.9 216.3h0M68.9 234.4h0M55.1 245.1h0M58.3 241.8h0M76.6 211.9h0M84 202.9h0M63.1 233.5h0M71.8 229h0M80.1 220h0M59.5 242.2h0M56.6 244h0M55.4 241.7h0M55.2 237.7h0M66 232.1h0M77.4 218.9h0M60.8 234.9h0M76.8 216.3h0M58.2 235.4h0M54 244.3h0M53.4 245.1h0M54.2 240.9h0M101.3 190h0M54 242.8h0M66.5 237.6h0M54.3 242.1h0M67.3 228.2h0M81.8 220h0M54.6 246.3h0M79 222.7h0M58.7 233.4h0M52.5 242.3h0M58.7 240.6h0M54.9 245.3h0M82.2 210.2h0M55.4 243.1h0M101.2 215.3h0M56.2 245.5h0M52.5 244h0M52.1 244.1h0M93.9 201.9h0M60.5 242.2h0M89.4 217.9h0M52.3 245.2h0M96.9 213h0M52.5 245.5h0M68.6 226h0M54.3 243.4h0M55.3 240.7h0M51.6 244.8h0M65.5 231.7h0M61.7 233.1h0M60.1 238.3h0M69.5 223.7h0M67.8 227.1h0M59.2 241.3h0M150.9 169.7h0M55.8 242.2h0M51 244.7h0M60.5 238.4h0M69 223.1h0M84.8 219.7h0M60.4 238.6h0M110.3 207.1h0M52.4 242.5h0M51.1 245.9h0M56 245h0M59.1 242.5h0M56.1 241.2h0M72.5 211.2h0M73.1 220.9h0M89.3 215.7h0M82.9 216.4h0M52.7 243.7h0M104 214.3h0M72 216.4h0M126 178.8h0M55.4 243.8h0M52 243.8h0M81.6 223.6h0M64.3 239.4h0M58.7 223.5h0M58.3 239.6h0M55.3 245.4h0M65 235.3h0M53.4 242.7h0M62.9 240.5h0M123.4 167.5h0M61.8 236.6h0M51.9 243.8h0M85.2 228.3h0M69.5 230.2h0M61.2 232.8h0M102.9 221.7h0M66.7 233.4h0M52.3 246h0M71.8 221.7h0M59.6 233.2h0M55 238.6h0M69.2 228h0M52.3 243.5h0M61.8 231.1h0M57.4 239.8h0M55.8 237.2h0M54.3 244.4h0M66.9 228.7h0M59.8 237h0M58.5 233.7h0M91.8 216h0M88.2 214.4h0M60.6 235.3h0M55.2 244.3h0M52.7 244.9h0M75 225h0M102.7 210.5h0M50.8 244.2h0M88.4 203.3h0M66.1 234.7h0M53.6 245.5h0M92.4 199.1h0M52.7 245.1h0M53.7 238.3h0M77.8 214.9h0M71.1 229.7h0M81.8 219.8h0M67.5 230.5h0M78.5 215.2h0M69.9 221.2h0M93.8 221.4h0M59 241.4h0M73.8 233.7h0M69.1 235.2h0M63.1 239h0M63.5 232.6h0M60.8 241.5h0M93.4 211.3h0M57 244h0M58.4 239.9h0M61.2 238.7h0M95.6 207.6h0M54.8 236.8h0M58.8 242.7h0M85.1 211.9h0M75.1 215.4h0M56.1 240.5h0M119.2 187.3h0M57.9 243.2h0M70.9 223.9h0M53.4 244h0M60.9 239.9h0M59.8 230.5h0M84.5 219.1h0M66.1 233.4h0M59.5 243.8h0M54.1 245.2h0M59.2 234.6h0M94.9 207.3h0M62.1 235.6h0M59.2 241h0M72.6 229.7h0M51.2 238.5h0M59.8 241.3h0M88.1 214.8h0M61.4 222.1h0M51.8 244.3h0M60.5 242h0M81.7 214.5h0M71.5 225.3h0M125.1 183.3h0M84.3 220.7h0M57.9 240.5h0M84.6 207h0M53.4 245.5h0M86.5 197.6h0M50.3 243.9h0M52.4 246.1h0M58.3 238.5h0M57.6 241.5h0M56.9 240.2h0M71.3 232.5h0M57.4 238.5h0M61.7 236h0M87.6 207h0M55.2 238.1h0M120 190.6h0M73.3 222.8h0M54.9 246.4h0M68.5 228.7h0M59.2 243.8h0M56.4 242.1h0M53.8 238.4h0M51.6 244.3h0M54.6 244.7h0M51.8 244.6h0M54.9 241.8h0M62 235.3h0M70.5 227.6h0M52.9 244.9h0M58.7 244.7h0M61.4 230.2h0M72.4 224.5h0M64.8 237.4h0M76.3 227.2h0M62.2 238.1h0M65.2 233.9h0M50.6 245.8h0M80.5 215.3h0M77 218.2h0M68.9 225.3h0M64.9 225.8h0M62.8 231.4h0M63.4 233.1h0M52.3 245.2h0M54.9 239.4h0M64.3 234.6h0M96.1 201.2h0M60.5 238.1h0M71.1 234.6h0M125.2 197.2h0M54.5 243.3h0M53.2 246h0M57.8 240.4h0M60.1 233.8h0M63.1 233.6h0M52.8 244.8h0M66 228.1h0M56.2 241.4h0M119 190h0M92.7 188.5h0M62.8 231h0M54.9 246.2h0M59.8 235.3h0M64.9 236.6h0M60 242.7h0M67 232.2h0M63.4 229.6h0M103.1 196.2h0M60.5 241.1h0M50.6 245.8h0M72.6 219.4h0M76 223.9h0M93.5 183.6h0M62 242.7h0M53.9 243.4h0M66.7 237.3h0M97.8 192.4h0M62.4 232.4h0M57 243.2h0M84.2 215.8h0M95.2 194h0M59.8 237.5h0M63.8 225.6h0M62.4 231.9h0M65.3 231.4h0M61.3 235.4h0M71.1 230.1h0M49 243.7h0M61 238.2h0M84.9 216.7h0M74.7 235.7h0M51.7 245.9h0M88.1 204.5h0M95 226.8h0M60.3 235.5h0M57.1 241.1h0M81.7 204.8h0M93 214.4h0M82.4 200.8h0M56.7 241.7h0M70 226.8h0M133.5 183.5h0M55.7 243.1h0M82.9 211.7h0M76.8 212.8h0M59 246.4h0M57.8 240.6h0M105.9 203.7h0M53.4 240.7h0M81.3 241.3h0M53 244.6h0M59.7 245.6h0M53.2 244.7h0M58.8 231.8h0M54.7 245.6h0M70.1 235.2h0M98.5 196.8h0M65.4 224.9h0M54.4 244.1h0M75.1 228.4h0M88 211h0M59.2 235.8h0M54 246.3h0M66.2 226.1h0M55.1 241.2h0M64.3 238.1h0M53.8 243.6h0M89 222.1h0M58.9 238.5h0M57.4 238.8h0M63.3 235.6h0M61.6 238.5h0M80.4 212.1h0M64.6 225.2h0M59.3 237.1h0M51 245.1h0M76.8 218.8h0M70.3 223h0M58.8 243.1h0M61.8 227.5h0M70.1 225h0M78.1 217.6h0M63.7 232.7h0M74.9 227.7h0M51.9 245.1h0M89.2 214.5h0M58.5 239.5h0M52 244.9h0M125 187.1h0M72.2 216.8h0M51.9 243.4h0M53.2 246.3h0M52.8 243.6h0M138.5 170.2h0M72.4 238.9h0M55.7 244.5h0M87.7 191.3h0M112.4 200.2h0M59 233h0M109.1 190.4h0M81.5 210.3h0M63.1 236.9h0M58 241.1h0M69.5 228.8h0M58.3 239.8h0M87.7 213.5h0M61.7 242.4h0M53 244.7h0M55.8 236.8h0M69.1 233.7h0M90.4 205.5h0M57.5 235.3h0M64 226.3h0M68.1 212.1h0M59.8 239.1h0M66.6 241.1h0M55 240.6h0M65.9 230.4h0M52.2 245.3h0M62.8 232.1h0M59.7 237.7h0M153.5 155.7h0M59.7 233.6h0M92.4 203.5h0M84.9 207.4h0M91.5 219.5h0M61.1 231.2h0M97 188.3h0M59.9 231.3h0M52.9 246.3h0M101.2 186.4h0M63.2 224.2h0M57.5 238.5h0M55.1 237.3h0M66.1 228h0M60.4 239.5h0M59.8 244.3h0M58 242.9h0M50.6 245.7h0M60.4 246.5h0M56.7 241.6h0M55.7 243.6h0M66 235.9h0M52.5 243.5h0M92.5 204.1h0M51.8 242.9h0M58 236.8h0M55.6 240.2h0M83.8 219.7h0M54.1 246.5h0M53.9 245.6h0M122 183.7h0M107.8 197.5h0M53.1 244.8h0M62.2 241.9h0M50.1 244h0M59.7 236h0M57.1 239.9h0M60.9 235.3h0M58.1 245.5h0M67.6 240h0M57.2 241h0M54 242.2h0M64.1 226.6h0M109.5 183.9h0M74 224.6h0M75.4 228.5h0M52.9 246.1h0M88.4 206.9h0M57.5 234.1h0M77.6 227.7h0M60 245.6h0M58.8 237.9h0M76.5 222.4h0M51.7 246.1h0M60.9 231.2h0M51.8 246.2h0M58.8 244.7h0M68.4 227.2h0M72.3 212.7h0M59.5 241.7h0M86.7 226h0M78.6 205.6h0M67.7 237.1h0M66.1 240.8h0M64.5 227.9h0M57.8 243.8h0M56.5 239.3h0M52.3 244.3h0M74.2 224.6h0M83.2 201.1h0M57.2 234h0M73.4 208.1h0M60.1 236.9h0M58.9 236.5h0M60.9 235.4h0M88.8 208.1h0M52.2 246.3h0M72.7 227.2h0M63.9 237.5h0M69.4 231.7h0M51.7 243.5h0M95.1 209.6h0M62.2 235.2h0M86.5 180.8h0M66.4 219.3h0M68.1 221.4h0M63 233h0M56.1 242h0M69.1 231.7h0M64.7 227.8h0M50.3 246h0M54.7 240.4h0M51.7 244.5h0M58.8 237h0M69.8 225.2h0M53.2 244.1h0M66.8 238.3h0M54.8 238.7h0M77.3 220.5h0M50.5 245.6h0M51.1 245.3h0M51 242.5h0M65.2 244.5h0M63.1 235.5h0M63.2 243.2h0M51.7 245.7h0M124.1 175.7h0M56.9 241.4h0M80.3 215.5h0M58.5 235h0M111.4 186.8h0M53.6 246.5h0M52.1 245h0M86.3 212.2h0M53.4 244.8h0M70.7 221h0M52.9 236.6h0M74.5 219.4h0M88.6 225.5h0M53 246.5h0M58.9 244.6h0M78.8 225.5h0M66.9 224.4h0M50.1 245.8h0M52.5 245.4h0M79.3 227.6h0M78 212.7h0M72.8 219.9h0M64.7 225.4h0M98.8 208.5h0M52.7 243.5h0M55.2 244.4h0M56.9 241.2h0M72.3 234.2h0M76.8 213.2h0M97 186.9h0M104.5 201.8h0M57.6 240.1h0M56.2 243.1h0M54.7 241.3h0M57.3 241.7h0M60.6 237.3h0M50.9 244.1h0M54.4 241.6h0M129.4 176h0M52.8 243.9h0M82.3 219.3h0M64.6 227.2h0M85.9 214.7h0M103.5 205.2h0M100.8 188.5h0M68.9 234.8h0M72 228.2h0M89.1 208.2h0M57 245.5h0M91.8 203.8h0M135.5 173.5h0M65.8 230h0M71.2 229.1h0M55.2 242.9h0M61.1 235.6h0M68.1 228.1h0M78 211.4h0M53.1 245.4h0M53.7 242.7h0M65.7 242.2h0M52 243.9h0M58.4 245.2h0M77.6 221.3h0M59.4 242.8h0M54.8 244h0M61.3 230.1h0M64.4 217.7h0M60.7 243.7h0M51.5 240.5h0M77.3 222.2h0M65.7 226.6h0M60.3 231.7h0M76.4 226.1h0M56.3 246.2h0M66.6 241.3h0M56.3 245.4h0M113.2 212.9h0M76.4 222.1h0M111.2 207.1h0M115.7 191.3h0M53.8 242.9h0M69.9 232.3h0M56.3 243.5h0M63.6 231.5h0M68.4 225.8h0M55.8 243.6h0M96.3 208.5h0M100.4 193.2h0M77.8 223.7h0M54.3 245h0M82.6 219.3h0M66.9 236.6h0M88.3 198.6h0M53.2 245h0M55.4 236.3h0M56.1 239h0M71.1 214.1h0M108.7 193.9h0M51 244.2h0M54.2 245.9h0M52.7 244.9h0M50.9 244.4h0M50.3 241.2h0M60.9 234.9h0M52.6 243.8h0M62.2 235.6h0M61.3 227.7h0M72.7 228.1h0M56.7 236.9h0M57.1 239.1h0M77 219.9h0M53.8 244.1h0M52 243.2h0M77.2 214.9h0M54.3 243.8h0M102.8 202.1h0M66.9 232h0M51.8 246.2h0M63.5 231.6h0M75.6 206.1h0M66.4 233.2h0M73.9 209.8h0M53.8 244.8h0M56.4 244.1h0M56.5 244.7h0M75.7 231.5h0M50.2 243.4h0M101.4 192.7h0M70.5 213.5h0M74.1 217.5h0M78.4 216.6h0M62.5 241.2h0M162.2 175.5h0M53.3 246.1h0M64.3 237.7h0M64.1 228.7h0M54.3 244.7h0M58.7 234.7h0M52 244.2h0M67.1 229.5h0M70.4 224.5h0M59.4 235.9h0M51.1 244.4h0M54.6 245.5h0M98.4 188.7h0M66.7 234h0M103.1 194.9h0M75.4 216.2h0M66.1 235.8h0M90.1 223.8h0M67.1 233.9h0M52.6 242.9h0M58.3 239.5h0M72.2 230.7h0M79.1 220.4h0M52.7 244.4h0M53.3 246.1h0M100.1 168.8h0M68.4 228.8h0M68 217.9h0M55.5 240.5h0M76.4 223.6h0M58.9 240.5h0M51.5 245.7h0M85.8 207.8h0M50.4 244.9h0M51.6 245.9h0M48.6 242.9h0M79.4 228.3h0M50.2 246h0M90.5 196.3h0M58.7 237.4h0M55.7 239.5h0M83.1 218.3h0M58 246.3h0M52.9 245h0M69.9 218.5h0M96.6 196.4h0M65 218.5h0M58.1 245.9h0M62.2 231.2h0M50.5 245h0M75 226.8h0M58.3 234h0M65.2 233.4h0M79.2 231.5h0M69.5 225.9h0M55.5 242.3h0M66.4 239.6h0M65.4 229.3h0M66.7 229.4h0M53.9 244h0M111.4 184.7h0M70.7 223h0M63.3 241.1h0M52.5 242.9h0M64.1 240.8h0M151.1 160.7h0M123.7 179.9h0M55.8 239.5h0M60.7 233.1h0M58.4 238.3h0M51.2 245.7h0M54.9 245.4h0M51.9 240.2h0M61.6 239.5h0M55 240.4h0M52.1 244.7h0M59.8 237.9h0M51.7 244.4h0M63.4 235.3h0M74.4 221.1h0M123.5 197.4h0M119.4 196.3h0M60 239.1h0M56.2 243.6h0M54.5 245.6h0M66 236h0M59.9 231.6h0M60.8 239.8h0M51 243.8h0M97.2 198.5h0M56.4 233.1h0M54.7 240.9h0M59.9 246.3h0M52.9 245.6h0M77.1 222.5h0M99 216.7h0M65.9 232.6h0M69.9 232.5h0M60.4 237.7h0M90.7 223.9h0M51.3 246.1h0M92.1 212.2h0M68.6 229.6h0M62.9 241.5h0M55.2 244.1h0M53.7 245.3h0M53.3 243.8h0M59.9 238.8h0M75 235.8h0M75 237.4h0M59.6 236.1h0M105.1 184.6h0M56.6 244.8h0M67.4 226.3h0M76.9 223.5h0M64.4 237.6h0M79.2 209.1h0M55.3 244.8h0M93.9 176.9h0M55.9 236h0M112.6 170.5h0M57.3 237.7h0M62.5 241.1h0M80.1 242.3h0M51.5 245h0M51.6 245.6h0M54.7 244.2h0M107.6 184.4h0M63.8 226.1h0M59.5 235h0M57.9 244.8h0M75.8 211.7h0M66.1 232.6h0M63.9 231h0M51 244h0M54.3 240.2h0M64.9 230h0M70.8 227.9h0M58.8 242.1h0M74.6 225.7h0M56.3 244.1h0M51.7 244.5h0M74.5 215.2h0M62.9 243.7h0M74.5 217.1h0M62.8 240.7h0M58.9 238.6h0M59.4 240.2h0M80.4 219.8h0M83.2 195.1h0M67.8 224.6h0M61.4 235.6h0M56.2 241.4h0M80.5 215.3h0M81.3 217.5h0M60.1 226.3h0M55.2 236.8h0M82.9 214.6h0M121.4 167.7h0M53.4 244.8h0M61.3 236h0M67.8 228.4h0M50.7 244.5h0M102 214.1h0M61.1 245.8h0M114.3 189.6h0M54.4 243.7h0M122.7 197.3h0M70.3 227.3h0M56.2 245.3h0M88 210.2h0M61 229h0M111.7 150.9h0M106.8 210.9h0M73 226.3h0M51.2 246h0M51.9 245.1h0M57.1 238h0M68.5 235.7h0M64.6 226.8h0M119.1 166.7h0M59 243.8h0M92.3 199.8h0M60.7 244.3h0M62.3 231.8h0M72.2 225.3h0M57.1 235.3h0M80 227h0M92.4 207.1h0M64.8 234.3h0M68 218.6h0M62.5 230.2h0M85.9 205.8h0M56.9 241.9h0M70.8 219.4h0M52.5 244.4h0M123 191.4h0M86.1 210.1h0M53.6 239.8h0M54.6 244h0M54.7 241.3h0M60.8 232.9h0M57.1 235.9h0M87.4 207.6h0M104.5 204.8h0M66.4 226.4h0M94.6 212.1h0M67.6 221.5h0M57.4 245.3h0M90 207.3h0M141.5 170.5h0M125.7 178.2h0M67 242.2h0M59.3 243.8h0M53.2 244.9h0M77.2 211.6h0M61.1 239.2h0M73.3 228.8h0M57.3 243.3h0M129.3 178.6h0M82.3 217.9h0M55.7 235.6h0M68.3 232.8h0M55.5 244.5h0M128.8 177.1h0M84.1 215h0M57 245.6h0M98.8 207.8h0M55.7 244.9h0M107.1 203h0M58 243.5h0M56.7 245.9h0M52.9 246.3h0M60.9 244.6h0M69.6 225.5h0M71.3 233.6h0M58.1 243.4h0M86.5 206.5h0M57.3 245.5h0M53.9 246.4h0M110.4 193.8h0M122.6 183.1h0M61 243.6h0M51.4 244.8h0M68 223.3h0M64.6 245h0M53.1 245.7h0M77.4 209.1h0M63.4 238.8h0M58.3 241.7h0M70.6 221.3h0M59.8 233.7h0M67.7 227.6h0M51.9 245.4h0M70.9 217.8h0M53.6 246.2h0M63.7 233.7h0M65.7 232h0M49.4 245.6h0M57.9 237.2h0M94.6 193.6h0M67.8 233.5h0M63.9 235.8h0M147.8 168.3h0M77.8 211.1h0M51.1 245.9h0M77.7 221.3h0M67.7 234.6h0M55.9 244.9h0M76.9 216.8h0M67.9 229.8h0M62.6 234h0M53 240.5h0M79 229.5h0M61 235.6h0M55 243.1h0M72.5 231.9h0M58.5 243.6h0M89.7 212.5h0M83.6 218.1h0M51.8 245h0M78.5 218.8h0M62.3 231.7h0M56.5 243.6h0M62.3 238.1h0M80.7 205.6h0M77.1 222.8h0M57.3 243.8h0M63.5 229.2h0M54.2 245.9h0M60.6 229.2h0M51.1 244.2h0M65.9 232.5h0M79.7 216.8h0M59.8 233.2h0M58.2 238.5h0M65.2 232.7h0M125.6 174.1h0M56.7 241.9h0M51.4 244.5h0M54.5 242.7h0M53 245h0M97.2 205.7h0M55 245.3h0M86.1 232.7h0M75.9 223h0M58.7 233.4h0M92 214.1h0M58.2 236.9h0M91.1 215h0M103.1 201.2h0M67.2 214.8h0M73.4 234.5h0M49 244.5h0M57.8 236.6h0M81.2 222.3h0M74.8 228.4h0M57.9 242.3h0M57.2 241.1h0M57.2 244.1h0M51.7 242.9h0M87.8 216.6h0M61.3 230.9h0M62.4 227.9h0M94 193h0M70.5 237.9h0M61.1 240.3h0M75.3 221.9h0M66.3 239.2h0M68.5 221.6h0M54.8 242.8h0M50.2 245h0M85.4 220.2h0M70.2 242.5h0M58.2 221.4h0M62.9 228.9h0M71 229.3h0M56.6 243.3h0M71 231.8h0M51.1 244.1h0M59.9 228.9h0M71.4 238.1h0M51.6 245.8h0M62.7 236.6h0M64.9 240.5h0M97.6 197.6h0M87.6 229h0M60.6 246.4h0M65.2 232.3h0M76.8 223.3h0M68.6 235.1h0M55.8 235.5h0M52.2 246.5h0M62 242.6h0M67.5 237h0M61.4 235h0M50.7 245.3h0M61.6 229.6h0M62 245.2h0M52.1 246.3h0M51.1 242h0M56.3 244.5h0M75 222.1h0M54.9 246.2h0M57.7 239.1h0M123.6 183.1h0M65 233.8h0M57.4 244.1h0M53 244.3h0M71.4 226.7h0M57.9 239.3h0M93.5 203.3h0M136.1 133.6h0M151.2 137.6h0M144.3 143.6h0M149.4 145.8h0M160.1 149.8h0M138.3 151.8h0M141 151.8h0M122.3 152.9h0M131.7 158.7h0M136.6 159.8h0M156.1 160.9h0M123.2 162.4h0M142.8 164.7h0M129.4 165.3h0M135.7 164.7h0M109.4 169.6h0M113.4 171.3h0M120.1 169.6h0M132.8 170.2h0M143.9 171.3h0M103.9 175.1h0M112.8 178h0M122.3 176.9h0M128.3 174.2h0M133.4 174.2h0M130.1 179.6h0M121.7 181.3h0M102.8 182h0M125 183.1h0M97.9 185.8h0M144.8 210.6h0M111.9 218.9h0M123.5 240.1h0M83.4 190.9h0M102.5 182.1h0M99.4 224.6h0" stroke="#1f6ec0" stroke-width="2.2" stroke-linecap="round" fill="none"/>
<path d="M52.9 243.4L160 152.6" stroke="#ee1111" stroke-width="2" stroke-linecap="round"/>
<rect x="47.5" y="128.3" width="118" height="120.7" fill="none" stroke="#8a8a8a" stroke-width="0.9"/>
<text x="55.7" y="142.2" font-family="Liberation Sans, sans-serif" font-size="7" fill="#222">R = 0.94, <tspan font-style="italic">p</tspan> &lt; 2.2 × 10<tspan font-size="3.5" dy="-2.5">−16</tspan></text>
<path d="M45.5 217.6H47.5" stroke="#8a8a8a" stroke-width="0.7"/>
<text x="44.3" y="219.5" font-family="Liberation Sans, sans-serif" font-size="5.4" fill="#333" text-anchor="end">50</text>
<path d="M45.5 186.5H47.5" stroke="#8a8a8a" stroke-width="0.7"/>
<text x="44.3" y="188.4" font-family="Liberation Sans, sans-serif" font-size="5.4" fill="#333" text-anchor="end">100</text>
<path d="M45.5 155.4H47.5" stroke="#8a8a8a" stroke-width="0.7"/>
<text x="44.3" y="157.3" font-family="Liberation Sans, sans-serif" font-size="5.4" fill="#333" text-anchor="end">150</text>
<path d="M73.8 248.7V250.6" stroke="#8a8a8a" stroke-width="0.7"/>
<text x="73.8" y="257.4" font-family="Liberation Sans, sans-serif" font-size="5.4" fill="#333" text-anchor="middle">25</text>
<path d="M107.1 248.7V250.6" stroke="#8a8a8a" stroke-width="0.7"/>
<text x="107.1" y="257.4" font-family="Liberation Sans, sans-serif" font-size="5.4" fill="#333" text-anchor="middle">50</text>
<path d="M140.5 248.7V250.6" stroke="#8a8a8a" stroke-width="0.7"/>
<text x="140.5" y="257.4" font-family="Liberation Sans, sans-serif" font-size="5.4" fill="#333" text-anchor="middle">75</text>
<text x="103.2" y="266.3" font-family="Liberation Sans, sans-serif" font-size="5.7" fill="#222" text-anchor="middle">−log<tspan font-size="3.7" dy="1.1">10</tspan><tspan dy="-1.1">(</tspan><tspan font-style="italic">p</tspan>−value) for fastGWA</text>
<text transform="translate(31.7 193) rotate(-90)" font-family="Liberation Sans, sans-serif" font-size="5.9" fill="#222" text-anchor="middle">−log<tspan font-size="3.8" dy="1.1">10</tspan><tspan dy="-1.1">(</tspan><tspan font-style="italic">p</tspan>−value) for TensorQTL</text>
<path d="M229 232.5C229.30 231.72 230.02 229.28 230.55 227.80C231.08 226.32 231.40 224.75 232.25 223.60C233.10 222.45 234.38 221.28 235.65 220.90C236.92 220.52 237.95 221.58 239.85 221.30C241.75 221.02 244.75 220.03 247.05 219.20C249.35 218.37 251.68 217.33 253.65 216.30C255.62 215.27 257.40 214.38 258.85 213.00C260.30 211.62 261.40 209.75 262.35 208.00C263.30 206.25 263.87 204.73 264.55 202.50C265.23 200.27 265.85 197.35 266.45 194.60C267.05 191.85 267.65 188.47 268.15 186.00C268.65 183.53 269.03 182.22 269.45 179.80C269.87 177.38 270.32 174.33 270.65 171.50C270.98 168.67 271.17 165.72 271.45 162.80C271.73 159.88 272.07 156.70 272.35 154.00C272.63 151.30 272.85 148.65 273.15 146.60C273.45 144.55 273.78 142.78 274.15 141.70C274.52 140.62 274.95 140.10 275.35 140.10C275.75 140.10 276.18 140.62 276.55 141.70C276.92 142.78 277.25 144.55 277.55 146.60C277.85 148.65 278.07 151.30 278.35 154.00C278.63 156.70 278.97 159.88 279.25 162.80C279.53 165.72 279.72 168.67 280.05 171.50C280.38 174.33 280.83 177.38 281.25 179.80C281.67 182.22 282.05 183.53 282.55 186.00C283.05 188.47 283.65 191.85 284.25 194.60C284.85 197.35 285.47 200.27 286.15 202.50C286.83 204.73 287.40 206.25 288.35 208.00C289.30 209.75 290.40 211.62 291.85 213.00C293.30 214.38 295.08 215.27 297.05 216.30C299.02 217.33 301.35 218.37 303.65 219.20C305.95 220.03 308.95 221.02 310.85 221.30C312.75 221.58 313.78 220.52 315.05 220.90C316.32 221.28 317.60 222.45 318.45 223.60C319.30 224.75 319.62 226.32 320.15 227.80C320.68 229.28 321.40 231.72 321.65 232.50" stroke="#f46565" stroke-width="2.2" fill="none" stroke-linecap="round" stroke-linejoin="round"/>
<path d="M224.2 128.9H326.4V246.8H224.2Z" fill="none" stroke="#8e8e8e" stroke-width="1.2"/>
<path d="M221.8 246.8H224.2" stroke="#777" stroke-width="0.8"/>
<text x="221.3" y="248.7" font-family="Liberation Sans, sans-serif" font-size="5.2" fill="#222" text-anchor="end">0.0000</text>
<path d="M221.8 207.6H224.2" stroke="#777" stroke-width="0.8"/>
<text x="221.3" y="209.5" font-family="Liberation Sans, sans-serif" font-size="5.2" fill="#222" text-anchor="end">0.0005</text>
<path d="M221.8 168.5H224.2" stroke="#777" stroke-width="0.8"/>
<text x="221.3" y="170.4" font-family="Liberation Sans, sans-serif" font-size="5.2" fill="#222" text-anchor="end">0.0010</text>
<path d="M221.8 129.3H224.2" stroke="#777" stroke-width="0.8"/>
<text x="221.3" y="131.2" font-family="Liberation Sans, sans-serif" font-size="5.2" fill="#222" text-anchor="end">0.0015</text>
<path d="M228.8 246.8V249" stroke="#777" stroke-width="0.8"/>
<text x="228.8" y="254.5" font-family="Liberation Sans, sans-serif" font-size="5.1" fill="#222" text-anchor="middle">−1000</text>
<path d="M252.1 246.8V249" stroke="#777" stroke-width="0.8"/>
<text x="252.1" y="254.5" font-family="Liberation Sans, sans-serif" font-size="5.1" fill="#222" text-anchor="middle">−500</text>
<path d="M275.4 246.8V249" stroke="#777" stroke-width="0.8"/>
<text x="275.4" y="254.5" font-family="Liberation Sans, sans-serif" font-size="5.1" fill="#222" text-anchor="middle">0</text>
<path d="M298.7 246.8V249" stroke="#777" stroke-width="0.8"/>
<text x="298.7" y="254.5" font-family="Liberation Sans, sans-serif" font-size="5.1" fill="#222" text-anchor="middle">500</text>
<path d="M322 246.8V249" stroke="#777" stroke-width="0.8"/>
<text x="322" y="254.5" font-family="Liberation Sans, sans-serif" font-size="5.1" fill="#222" text-anchor="middle">1000</text>
<text x="274.9" y="261.9" font-family="Liberation Sans, sans-serif" font-size="5.5" fill="#222" text-anchor="middle">Distance to TSS (Kb)</text>
<text transform="translate(200.9 185.9) rotate(-90)" font-family="Liberation Sans, sans-serif" font-size="6.2" fill="#222" text-anchor="middle">Density</text>
<clipPath id="ce"><rect x="392" y="127.2" width="110.4" height="118.9"/></clipPath>
<g clip-path="url(#ce)">
<path d="M397.8 215.9h0M397.5 217.8h0M397.6 223.7h0M397 224.4h0M397.9 228.1h0M397.2 230.6h0M397.5 232.8h0M398 232.3h0M397.4 234.7h0M397.8 234.2h0M397.2 235h0M397.3 235.8h0M397.1 238h0M397.3 239.6h0M397.9 240h0M397.2 239h0M397.3 240.3h0M397.1 240.9h0M397 240.7h0M397.1 240.4h0M397.4 240.2h0M397.5 240.5h0M397.3 240.7h0M398.1 204.7h0M398.3 209.1h0M398.2 211.3h0M398.8 212.1h0M398 213.9h0M398.5 223.1h0M398 226h0M398 225.4h0M398.4 227.8h0M398.9 227.9h0M398.3 228.5h0M398.7 230.4h0M398.5 231.1h0M398.9 233.5h0M398.8 235h0M398.3 237h0M398.8 237.9h0M398.2 237.5h0M398.3 237.7h0M398.8 239.2h0M398.8 239.5h0M398.2 239.7h0M398.1 240.5h0M398.4 240.4h0M398.5 240.3h0M398 240.5h0M399.8 214.1h0M399.7 221.1h0M399.3 227h0M399.6 226.4h0M399.5 229.8h0M399.5 231.6h0M399.3 232h0M399.9 232h0M399.4 233.5h0M399.3 234.4h0M399.1 235.6h0M399.3 235h0M400 236h0M399.5 235.6h0M399.7 235.9h0M399.2 236.5h0M399.2 236h0M399.9 237.7h0M399.7 237.9h0M399.1 239.8h0M399 239.1h0M400.1 209.3h0M400.3 215.3h0M400.3 216.4h0M401 217.6h0M400.4 219.6h0M400.2 221.2h0M400.3 226.4h0M400.4 226.4h0M400.3 228.4h0M400.9 230.8h0M400.6 233.4h0M400.8 233.7h0M400.3 234.1h0M400.9 234.2h0M400.6 234.5h0M400.4 235h0M400.3 235.6h0M400.8 237.1h0M400.3 237.9h0M400.1 238.5h0M400.3 239.6h0M400.4 241h0M401.5 192.2h0M402 208.8h0M401.9 215.6h0M401.5 221h0M401.6 222.1h0M401.5 222.8h0M401.5 228.3h0M401.2 230.4h0M401.4 231.6h0M401.1 231.6h0M401.5 232.1h0M401.2 233.3h0M401.6 233.9h0M401.8 234.1h0M401.8 235.3h0M401.1 235.3h0M401.5 236.2h0M401.8 237.9h0M401.6 238.7h0M401.2 240.3h0M401.6 240.6h0M401.8 240.7h0M401.2 240.4h0M401.8 240.5h0M402.8 192.6h0M402.1 197.7h0M402.8 211.2h0M402.1 212.8h0M402.1 213.3h0M402 215.6h0M402.6 215.2h0M402.3 217.8h0M402.1 221.6h0M402.4 222.9h0M402.5 229.9h0M402 232.6h0M402.3 233.7h0M402.8 234.2h0M402.8 234.2h0M402.6 235.7h0M402.6 235.7h0M402.1 235.4h0M402.3 236.9h0M402.4 236.5h0M402.6 236.9h0M402.3 239h0M402.9 238.5h0M402 239.5h0M402.6 239h0M402.2 240.2h0M404 206h0M403.3 218h0M403 221.6h0M403.8 223.8h0M403.6 224.9h0M403.2 224.7h0M403.1 225.3h0M403.5 226.8h0M403.9 226.5h0M403.9 232.1h0M403.2 232.6h0M403.9 233.6h0M403.6 234.1h0M403.6 235.5h0M403.1 237.2h0M403.8 237.2h0M403.2 237.3h0M403.7 237.5h0M403.1 238.8h0M403.3 240.7h0M403 241h0M404.5 205.5h0M404.4 212h0M404.6 224.9h0M404.6 225.6h0M404 230.8h0M404.1 231.9h0M404.5 234.9h0M404.7 236.8h0M404.9 236.8h0M404 238.7h0M404.3 238.7h0M404 238.4h0M404.6 238.1h0M404.9 239.8h0M404.7 240.1h0M404.6 240.2h0M404 240.9h0M405.1 208.5h0M405.6 215.8h0M405.3 221.8h0M405.2 226.4h0M405.8 228.3h0M405.8 228.3h0M405.8 228.7h0M405.6 229.6h0M405.2 230.6h0M405.9 232h0M405.1 233.2h0M405.7 234.5h0M405.3 235.6h0M405.4 235.9h0M405.3 235.1h0M405.2 239.3h0M405.6 239.8h0M405.3 239.5h0M405.3 239.3h0M405.6 239.9h0M405.3 240.7h0M405.9 240.1h0M406.6 193.6h0M406.3 201.6h0M406.9 221.2h0M406.7 226.2h0M406.1 228.4h0M406.2 231.1h0M406.3 233.4h0M406.8 237.8h0M406.7 237.9h0M406.6 238.5h0M406 239.4h0M406.3 239.1h0M406.6 240.4h0M406.7 240.4h0M406.6 240.7h0M406.3 240.7h0M407.2 195.3h0M407.3 205.5h0M407.4 206.5h0M407.5 215.2h0M407.1 217.5h0M407.8 218.9h0M407.3 226.4h0M407.1 227.2h0M407.6 228.5h0M407.3 231.4h0M407.1 233.1h0M407.8 234.5h0M407.3 236h0M407.6 236.1h0M407.3 237h0M407.9 237.3h0M407.2 237.4h0M407.3 239h0M407.6 239.9h0M407.2 239.2h0M407.8 239.7h0M407.1 240.3h0M407 240.6h0M408.9 193.9h0M408.1 207.1h0M408.5 209.8h0M408.9 220.9h0M408.7 223.9h0M408.8 231.3h0M408.8 233.4h0M408.7 235.4h0M408.5 237.5h0M408.7 237.2h0M408.7 238.3h0M408.5 238.3h0M408.8 239.9h0M408.1 239.7h0M408.6 239.2h0M408.6 239.7h0M408.7 239h0M408.9 239.4h0M408.1 240.6h0M408.6 240.4h0M409.5 209.1h0M409 220.1h0M409.8 224.3h0M409.2 225.2h0M409.6 228.5h0M409.1 229h0M409.5 231h0M409.7 231.5h0M409.8 233.3h0M409.7 235.9h0M409.4 236.6h0M409.1 237h0M409.2 237.1h0M409.3 237h0M409.6 237.2h0M409.3 238.9h0M409.2 240h0M409.9 239.7h0M409.3 239.5h0M410.6 199.3h0M410.9 209.2h0M410.7 214.1h0M410.9 225.3h0M410.4 227.1h0M410.4 231h0M410.9 232.7h0M410.7 234.1h0M410.1 236.3h0M410.8 237.8h0M410.2 237.9h0M410.3 239.3h0M411.7 207.2h0M411.7 208h0M411.6 209.6h0M411.1 222.5h0M411.2 222.2h0M411.9 229h0M411.2 229.2h0M411.1 229.2h0M411.5 229.4h0M411.8 229.3h0M411.2 230.8h0M411.6 232.2h0M411.7 234.1h0M412 235.9h0M412 236.7h0M411.7 236h0M411.2 238.3h0M411.9 238.4h0M411.6 239.7h0M411.8 239.8h0M412.8 205.5h0M412.1 207.9h0M412.2 213.6h0M412.4 217.5h0M412.3 219.3h0M412.8 221.5h0M413 221.6h0M412.3 222.8h0M412.3 224.5h0M412.1 225.9h0M412.2 230h0M412.6 229.9h0M412.3 232.4h0M412.5 235.7h0M412.6 236.7h0M412.2 238h0M412.2 238.5h0M412.5 238.2h0M412.5 238.4h0M412.1 239.6h0M412.7 239.7h0M412.5 239.6h0M412.7 239.7h0M412.1 239.5h0M412.3 239.5h0M413.3 191.7h0M413.1 219.1h0M414 221h0M413.3 223.3h0M413.3 225.4h0M413.2 226.9h0M413.3 228.9h0M413.1 228.8h0M413.6 230.5h0M413.2 232.4h0M413.3 233.7h0M413.2 234h0M413.9 235.6h0M413.5 235.8h0M413 237h0M413.5 236.9h0M413.9 238.1h0M413.9 239.5h0M413.7 239.7h0M413.9 239.3h0M414.3 200.6h0M414.7 206.5h0M414.9 220.2h0M414.8 222.4h0M414.9 224.2h0M414.7 224.9h0M414.9 225.7h0M414.4 227.2h0M414.6 227.6h0M414.6 231.6h0M414.2 232h0M414.5 234.3h0M414.3 236.6h0M414.4 236.2h0M414.1 237.8h0M414.2 237.1h0M414.9 238.1h0M414.5 238.6h0M414.4 239h0M414.8 238.5h0M414.3 239.3h0M414.9 239.9h0M415.7 186h0M416 193.4h0M415.6 204.5h0M415.7 209.8h0M415.7 212.1h0M415.2 213.6h0M415.5 224.7h0M415.1 226.5h0M415.6 228.1h0M415.5 228.8h0M415.1 230.9h0M415.2 231.4h0M415 232h0M415.2 232.8h0M415.3 234.7h0M415.2 235.2h0M415.8 236.1h0M415.8 237.8h0M415.1 239.6h0M415.7 240h0M415 239.7h0M416.9 201.9h0M416.2 201.4h0M416.7 209.2h0M416.7 212.4h0M416.6 215h0M416.5 216.4h0M416.4 216.7h0M416.9 218.3h0M416.3 222.2h0M416.4 222.7h0M416.1 226.3h0M416.8 227.2h0M416.4 227.6h0M416.2 229h0M416.2 230.3h0M416.8 233.7h0M416.7 235.1h0M416.7 236.7h0M416 236.2h0M416.8 237.1h0M416.5 237.8h0M416.4 237.7h0M416.9 238.6h0M416.2 238.8h0M416.4 239.5h0M417.5 194h0M417.1 203.8h0M417.7 208.3h0M417.4 213.8h0M417.2 213.1h0M417.1 218.7h0M417.9 220h0M417.4 220.4h0M417.5 221.5h0M417.6 222.7h0M417.5 222.3h0M417.1 229.8h0M417.2 231.6h0M417.4 232.6h0M417.1 232.5h0M417.1 232.3h0M418 233.2h0M417.3 233.6h0M417.1 234.7h0M417.7 236h0M417.3 237.5h0M417.2 237.8h0M417.3 238.5h0M417.3 238.4h0M417.5 238.8h0M417.5 238.8h0M418 239.1h0M418.2 199.6h0M418 202.3h0M418.3 203.6h0M418 203.9h0M418.5 203.7h0M418.5 206.4h0M418.4 216.9h0M418.9 217.8h0M418.6 217.5h0M418.1 223.2h0M418.3 224.2h0M418.9 226.5h0M418.4 227.2h0M418.6 228.2h0M418.3 230.4h0M418.9 230h0M418.7 230.1h0M418.2 230.2h0M418.4 230.9h0M419 231.1h0M418.9 233h0M418.8 234h0M418.7 236h0M418.6 235.7h0M418.5 236h0M418 235.7h0M418.2 235.7h0M418.7 237.6h0M418.1 237.7h0M418.5 238.4h0M418.6 239.8h0M419.1 206.4h0M419.2 209.2h0M419.3 213h0M419.9 221.4h0M419.2 227.9h0M419.6 228.6h0M419.5 233.5h0M419.2 234.7h0M419.4 234.2h0M419.8 237.5h0M419.4 237.7h0M419.3 237.1h0M419.2 238.2h0M419.9 239h0M419.4 239h0M419.5 238.5h0M419.3 238.6h0M419.4 240h0M419.7 239.6h0M419 240h0M419.3 239.5h0M420 190.8h0M420.4 194.6h0M420.1 211.9h0M421 214.3h0M420.5 218.7h0M420.2 222.9h0M420.2 222.8h0M420.1 224.9h0M420.6 226.6h0M420.2 228.7h0M420.7 230.1h0M420.5 231.2h0M420.1 231.7h0M421 232h0M420.4 231.2h0M420.6 231.1h0M420.9 232.3h0M420.5 232.9h0M420.5 232.8h0M420.2 232h0M420 233.9h0M420.9 233.2h0M420.7 233.5h0M420.5 233.5h0M420.2 234.2h0M421 235.9h0M420.5 236.4h0M420.9 236.8h0M420.4 237.7h0M420.7 237.8h0M420.6 239h0M420.4 238.2h0M420.2 239.6h0M421 199.4h0M421.7 203.2h0M421.7 209.6h0M421.1 213.3h0M421.4 218.8h0M421.1 221.6h0M421 226.3h0M421.5 227.7h0M421.3 229.3h0M421.6 230h0M421.1 230.6h0M421.7 230.9h0M421.4 231.5h0M422 231.9h0M421.1 232.9h0M421.1 232.4h0M421.8 233.2h0M421.3 234.4h0M421.6 234.9h0M421.4 235.2h0M422 236.4h0M421.5 236.2h0M421.8 236h0M421.9 238.8h0M421 238.2h0M421.7 238.9h0M421 239.4h0M421.1 239.7h0M422.1 174.8h0M422.3 204.4h0M422.2 206.8h0M422.2 215.8h0M422.1 216.1h0M422.2 217.2h0M422.5 222.7h0M422.2 226h0M422.5 229.7h0M422.4 232.6h0M422.2 233h0M422.6 235.1h0M422.1 235.1h0M422.9 235.6h0M422.7 237.5h0M422.6 237.4h0M422.7 238.5h0M422.7 239.9h0M422.2 239.6h0M422.9 239.8h0M423.6 209.8h0M423.3 211.9h0M423.5 216h0M423.4 225.2h0M423.5 230.1h0M423.8 231.3h0M423.8 231.5h0M423.7 232.4h0M423 232.2h0M423.2 234.8h0M423.7 236.7h0M423.7 237h0M423.1 237.3h0M423.6 237.8h0M423.9 239.9h0M424.8 204.9h0M425 208.1h0M424.9 210.7h0M424.9 210.6h0M424.4 216.7h0M424.3 217.3h0M424.5 217.2h0M424.2 219.1h0M424.8 221.8h0M424.7 222.2h0M424.6 225.2h0M424.1 226.9h0M424 231.6h0M424.6 232.3h0M424.1 232.7h0M424.4 232.3h0M424.7 233.3h0M424.8 234.4h0M424.5 234.6h0M424.6 234.8h0M424.2 234.6h0M424.9 235.1h0M424.6 235.6h0M424.7 236.8h0M424.5 236.7h0M424 236.4h0M424.9 237.7h0M424.7 237.9h0M424.1 238.8h0M424.6 238.7h0M424.1 239.9h0M425.1 198.5h0M425.7 201.8h0M425.4 207.9h0M425.2 212.4h0M425.2 213.4h0M425.5 214.2h0M425.8 218.9h0M425.4 220.1h0M425.7 222.8h0M425.7 226.5h0M425.8 227.9h0M425.3 228.4h0M425.5 229.2h0M425.8 229.9h0M425 231.3h0M425.9 231.7h0M425.8 232.5h0M426 233.1h0M425.2 233.4h0M425.3 233.6h0M425.9 234.2h0M425.1 234.8h0M425.2 236.7h0M425.5 237.8h0M425.3 238.5h0M425.3 238.5h0M425.4 238.5h0M425.4 238.2h0M427 163.4h0M426.7 197.8h0M426.3 206.2h0M426.8 207.7h0M426.3 207.5h0M426.1 211.9h0M426.8 215h0M426.4 216.4h0M426.4 218.2h0M426.5 221.2h0M426.4 224.1h0M426.1 225.9h0M426.7 226.5h0M426.1 230.9h0M426.3 231.9h0M426.6 232.1h0M426.9 234.8h0M426.9 235.8h0M426.3 235.2h0M426.9 235.3h0M426.2 237.2h0M426.4 237.4h0M427.6 203h0M427.2 205.6h0M427.6 209.1h0M427.8 210.9h0M427.3 217.2h0M427.5 218.6h0M427.9 221h0M427.5 224.3h0M427.2 224.7h0M427.8 227h0M427.9 227.5h0M427.9 228.7h0M427.1 229.1h0M427.8 230.9h0M427.4 230.5h0M427.1 230.5h0M427.1 231.2h0M427.8 232.6h0M427.7 232.8h0M427 233.6h0M427.9 233.4h0M427.5 234.9h0M427.9 234.4h0M427.8 236.2h0M427.4 237.5h0M427.8 237.2h0M428 237.9h0M427.2 237h0M428.7 139.7h0M428.6 202h0M428.8 206.8h0M428.2 214.4h0M428.7 215.3h0M428.4 216.2h0M428.6 216.6h0M428.1 219.5h0M428.4 219.7h0M428.2 222.4h0M428.1 223.3h0M428.9 224.8h0M428.6 227.8h0M429 229.5h0M428.1 230.9h0M428.3 230.5h0M428.8 230.8h0M428.9 231.6h0M428.2 231.4h0M428.3 231.9h0M428.4 232h0M428.9 235h0M428.2 235.7h0M428.4 236.2h0M428.9 236.3h0M428.9 238h0M429 238.5h0M429.6 198.2h0M429.6 200.9h0M429.4 202.7h0M429.1 210.2h0M430 211.2h0M429.9 213.9h0M429.3 223.4h0M429.9 223.5h0M429 224.5h0M429 226.9h0M429.2 226.5h0M429.6 227.9h0M429.7 229.7h0M429.2 229.9h0M429.9 233.8h0M429.6 235.4h0M429.8 235.9h0M429.9 235.9h0M429.1 237.6h0M429.1 237.3h0M430 238h0M429.3 238.3h0M429.6 238.5h0M430.3 180.1h0M430.4 199.6h0M430.7 200h0M430.8 202.4h0M430.2 207.7h0M430.5 217.3h0M430.6 218.2h0M430.9 220.2h0M430.5 221.4h0M430.6 222.5h0M430.5 226.7h0M430.9 227.8h0M430.1 230.1h0M430.8 233.9h0M430 234.2h0M430.2 234.2h0M430.2 234.3h0M430.2 234.2h0M430.3 235.1h0M430.1 236.9h0M430.3 236.1h0M430.7 236h0M430.1 236.8h0M430.1 237.9h0M430.3 237.7h0M430.3 238.9h0M430.2 238.4h0M430.8 238.3h0M431.6 175.6h0M432 206h0M431.9 213.4h0M431.9 216.9h0M431.8 220.8h0M431.4 220.4h0M431.7 223.8h0M431.6 227.1h0M431.8 228.8h0M431.4 229.2h0M431.6 229.4h0M431.2 230.7h0M431.8 230.6h0M431 231.6h0M431.7 231.9h0M431.6 231.4h0M431.1 231.4h0M431.3 232.8h0M431 232.3h0M431.8 232.8h0M431.2 232h0M431.7 233.8h0M431.4 233.5h0M431.3 234.9h0M431 234.7h0M432 235.5h0M431.7 235.1h0M431.4 236.2h0M431.3 236.6h0M431.9 237.8h0M431.9 237h0M431.1 237h0M431 237.2h0M431.6 237.4h0M431.1 239h0M432.5 199h0M432.1 200.9h0M432.3 205.3h0M432.2 213.6h0M432.9 215.1h0M432.1 217.5h0M432.5 218h0M432.2 219.2h0M432.8 220h0M432.3 220.7h0M432.2 222.2h0M433 223.1h0M432.9 224.9h0M432.1 226h0M432.5 226.9h0M432.4 228.7h0M432.4 229.6h0M432.4 230.2h0M432 233h0M432.6 235.6h0M432.7 235.2h0M432.1 236.2h0M432.4 236h0M432.5 236.1h0M432.4 237.3h0M432.2 237.9h0M432.4 237.3h0M432.8 237.2h0M433.1 179.4h0M433.1 192h0M433.3 196.9h0M433.8 197.7h0M433.4 201.1h0M433.4 207.3h0M433.1 207.8h0M433.4 209.5h0M433.2 210.9h0M433.4 213.4h0M433.2 216.1h0M433.1 218h0M433 219.3h0M433.1 220.2h0M433.8 224.5h0M433 225.2h0M433.2 225.6h0M433.1 226.7h0M433.1 227.7h0M433.6 227.3h0M433.5 227.9h0M434 229.2h0M433.3 229h0M433.9 231.3h0M433.7 233.9h0M433.3 233.6h0M433.2 234.4h0M433.6 234.2h0M433.1 235h0M433.2 236h0M433.4 235.1h0M433.7 235.5h0M433.3 235.3h0M433.7 235.3h0M433.8 236.2h0M433.2 237h0M434.4 175.9h0M434.5 184h0M434.8 197.2h0M434.9 203.9h0M434.9 212.4h0M434.9 212.8h0M434.9 217.9h0M434.1 217.1h0M434.3 218.5h0M434.6 220.9h0M434.8 222h0M434.9 222.7h0M434.1 222.4h0M434.1 223.7h0M434.2 224.8h0M435 224.7h0M434.9 225.3h0M434.4 226.8h0M434.6 230.7h0M434.7 233.3h0M434.3 234h0M434.3 234.7h0M435 234h0M434.2 234.1h0M434.4 237h0M435.1 176.7h0M435.1 195.8h0M435.5 196.5h0M435.1 207.7h0M435.8 209.5h0M435.8 210.3h0M435.3 211.6h0M435.4 214.1h0M435.9 216h0M435.5 215.5h0M435.4 216.2h0M435.1 218.9h0M435.6 218.1h0M435.4 220.1h0M436 221.6h0M435.4 224.5h0M435.9 225.8h0M435.5 226.8h0M435.4 228.9h0M435.9 229.6h0M435.3 230.7h0M435.4 232.6h0M435.3 232.2h0M435.9 232.5h0M435.6 232.5h0M435.9 233.7h0M435.1 233.7h0M435.8 234.1h0M435.6 234.1h0M435.3 235.4h0M436 235.5h0M435.1 235.9h0M435.5 236.3h0M435.7 236.2h0M435.9 237.7h0M435.5 237.4h0M435.3 237.8h0M437 188.6h0M437 190.1h0M436.7 200.2h0M436.9 205.5h0M436.7 208.8h0M436.5 217.5h0M436.1 217.5h0M436.6 218.7h0M436.3 219.9h0M436.6 221.4h0M436.8 222.2h0M436.5 224.2h0M436.5 224.9h0M436.3 225.4h0M436.5 226.7h0M436.1 226.1h0M436.8 227.4h0M436 227.8h0M436.3 228.5h0M436.6 228.9h0M436.7 229.6h0M436.3 231.8h0M436.8 231.3h0M436.8 232.6h0M436.1 233.1h0M436.2 233.3h0M436.6 233.8h0M436 234.3h0M436.6 234.1h0M436.6 235.3h0M436.7 236.5h0M436.7 236.6h0M436.8 236.1h0M436.5 237.5h0M436.7 237.8h0M437.3 201.4h0M437.4 209.6h0M437.2 210.3h0M437.3 211.4h0M437.8 215.6h0M437.2 218.1h0M437.7 220.3h0M437.7 222.1h0M437.9 226.9h0M437.9 228.3h0M437.7 228.7h0M437.1 229.1h0M437.4 229.9h0M437.3 229.2h0M437.6 230h0M437.2 231.9h0M437.1 232.4h0M437.3 232.5h0M437 233.4h0M437.4 234.6h0M437.4 234.3h0M437.3 234.3h0M437.2 234.1h0M437.9 235.1h0M437.7 235.3h0M437.8 236.4h0M437.7 236.4h0M437.8 236.3h0M437.8 236.6h0M438.2 175.2h0M438.9 198h0M438.6 203.9h0M438.5 207.2h0M438.2 210h0M438.1 212.6h0M438.7 213.3h0M438.8 215.7h0M438.9 215.7h0M438.9 215.9h0M438.3 219.3h0M438.6 219.7h0M438.6 220.6h0M438.7 221.7h0M438.9 223.3h0M438.3 229h0M438.3 230.6h0M438.4 231.8h0M439 232.1h0M438.8 233.8h0M438.5 234.4h0M438.2 234.7h0M438.9 235.6h0M439 236.6h0M438 236.9h0M439.4 178.1h0M439.2 182h0M439.4 189.6h0M439.7 195.4h0M439.3 203.3h0M439.2 205.2h0M439.4 206.7h0M439.2 207.2h0M439.8 208h0M439.6 211.4h0M439.9 215.6h0M439.5 215.8h0M439.8 217.7h0M439.2 218.4h0M439.2 222.2h0M439.5 223.5h0M439.5 223.2h0M439.9 224.2h0M439.5 227.8h0M439.2 227.4h0M439.7 228.8h0M439.4 228.5h0M439.3 229.7h0M439.7 230.3h0M439.1 230.6h0M439.3 232.6h0M439.8 232.4h0M439.6 233.3h0M439 233.2h0M439 233.1h0M439.8 234h0M439.2 235.7h0M439.2 236.5h0M439.3 236.2h0M439.9 236.2h0M440.9 168h0M440.6 174.3h0M440.1 197.6h0M440.4 197.8h0M440.7 198.4h0M440.2 199h0M440.6 202h0M440.3 206.1h0M441 207.2h0M440.8 213.5h0M440.7 216.7h0M440.7 220.4h0M440.8 220.2h0M441 221.2h0M440.9 222.5h0M441 224h0M440.9 225.1h0M440.4 226.8h0M440.4 228.1h0M440.2 228h0M440.1 229.6h0M440.9 229.3h0M440.9 230.5h0M440 231.2h0M440.2 231h0M440 232.8h0M440.3 232.7h0M441 233.4h0M440.9 233.7h0M440.6 233.5h0M440.7 234h0M440.8 235.9h0M440.6 235.9h0M441.6 200.3h0M441.1 208.2h0M441.3 211.3h0M441.7 211.2h0M441.3 212.9h0M441.9 212h0M441.1 214.9h0M441.7 214.6h0M441.5 214.7h0M441.9 215.8h0M441.1 217.4h0M441.7 218.3h0M441.8 219.8h0M441.2 223.7h0M441.1 223.9h0M441.1 224.1h0M441.5 224.6h0M441.5 224.4h0M441.9 225.1h0M441.2 228.1h0M441.2 230h0M441.9 229.2h0M441.7 231.9h0M441 233.6h0M441.8 235.2h0M441.3 235.8h0M441.8 235.9h0M441.4 235.5h0M442.4 183.9h0M442.6 184.6h0M442.7 190.3h0M442.6 203.5h0M442.7 204.8h0M442.9 205.6h0M442.5 206.5h0M443 207.1h0M442.8 208.5h0M442.5 208.7h0M442.9 208.2h0M442.7 209.4h0M442.3 210.1h0M443 212.8h0M442.9 214.8h0M442.4 216h0M442.8 218.9h0M443 223.4h0M442.5 224.1h0M442.8 224.2h0M442.6 226h0M442.1 227.2h0M442.8 227.8h0M442.2 228.5h0M443 228.3h0M442.2 229.1h0M442.7 230.6h0M443 233.8h0M442.8 233.2h0M442.1 233.3h0M442 235.3h0M442.6 235.6h0M442.2 235h0M442.3 235.8h0M443.9 170.4h0M443.6 185.2h0M443.9 188.6h0M443.8 192.5h0M443.4 193.1h0M443 195.4h0M443.9 196.7h0M443.3 198.9h0M443 198.9h0M443.9 207h0M443.2 206.6h0M443.8 208.1h0M443.5 210.8h0M443.6 210.6h0M443.9 210.3h0M443.8 211.9h0M443 213.2h0M443.1 215.2h0M443.5 216.5h0M443.2 216.8h0M443.4 216.2h0M443 218.5h0M443.7 218h0M443.3 218.4h0M443.9 218.3h0M443.3 220.7h0M443.3 220.3h0M443.4 221.1h0M443.7 222.9h0M443.9 224.9h0M443 225.6h0M443.8 225.4h0M443 225.7h0M443.8 227.9h0M443.8 227.9h0M443.3 229.1h0M443 229.7h0M443.5 231.7h0M443 232.1h0M443.2 232.3h0M444 232.9h0M443.6 233.5h0M443.2 233.1h0M443.6 234h0M443 234.3h0M444.6 172.4h0M444.2 179.7h0M444.8 193.2h0M444.5 194.2h0M444.3 197.5h0M444.3 201.8h0M444.3 205.5h0M444.3 207.2h0M444.7 208h0M444.5 209.3h0M444.3 212.7h0M444.6 213.7h0M444.2 213.1h0M444.3 214.1h0M444.5 214.5h0M444.4 215.1h0M444.1 215.8h0M444.6 218.5h0M444.1 218.5h0M444.5 218.2h0M444.2 219.6h0M444.3 223.1h0M444.1 224.7h0M444.9 225.1h0M444.5 226.9h0M444.6 227.1h0M444.8 227.8h0M444.7 228.8h0M444.5 228.1h0M444.7 228.5h0M444.7 229.8h0M444.7 229h0M444.9 230.6h0M444.1 232.5h0M444.6 232.1h0M444.2 232.7h0M444.3 233.7h0M444.3 233.9h0M444.5 234.9h0M445.6 145.8h0M445.9 171.4h0M445.2 179.8h0M445.7 180.5h0M445.4 181.1h0M445.3 182.9h0M445.7 185.7h0M445.8 188.3h0M445.4 195.1h0M445.4 196.6h0M445.4 197.5h0M445.5 197.4h0M445.7 200.7h0M445.4 200.8h0M445.4 202h0M445.8 203.6h0M445.1 206.2h0M445.2 208.9h0M445.2 208.3h0M445.4 209.3h0M445 209.1h0M445 211.6h0M445.3 213.8h0M445.3 213.8h0M445.4 214.2h0M445.6 215.6h0M445.4 215.6h0M445.6 216.7h0M445.1 217.9h0M445.4 217.6h0M445.2 220.4h0M445.9 220.1h0M445.6 220h0M445 220.5h0M445.7 220.3h0M445.6 222.1h0M445.3 222.8h0M445.9 222.6h0M445.5 223h0M445 223.5h0M445.7 225.4h0M445.5 225.6h0M445.4 227.1h0M445.3 227h0M445.8 228.3h0M445.1 228.5h0M445.9 228.3h0M445.1 230h0M445.7 229.4h0M445.3 229.3h0M445.3 230.7h0M445.5 230.2h0M445.5 230.2h0M445.9 230.5h0M445.1 231.6h0M445.6 231.8h0M445.4 231.2h0M445.5 231.9h0M445.8 232.6h0M445.2 232.3h0M445.1 232.3h0M445.5 233.7h0M446 233.5h0M445.9 233.2h0M446.7 171.6h0M446.4 173.3h0M446.9 180.2h0M446.5 182.5h0M446.8 183.8h0M446.2 184.1h0M446.2 185.8h0M446.4 185.3h0M446.2 186h0M446 187.4h0M446.1 188.6h0M446.2 189.6h0M446.3 189.8h0M446.2 190.5h0M446.2 190.4h0M446.3 191.8h0M446.4 192.4h0M446.9 193.9h0M446.6 193h0M446.4 195.7h0M446.9 198.1h0M446.9 198h0M446.8 198.5h0M446.6 198.7h0M446.7 199.4h0M446.4 200h0M447 200.2h0M446.9 202.9h0M446.2 203.2h0M446.1 206.6h0M446.5 207.1h0M446.6 208.2h0M446.9 209.4h0M447 209.9h0M446.2 209.1h0M446.3 211h0M446.1 211.6h0M446.9 211.4h0M446.9 211.5h0M446.7 212.8h0M446.8 213.6h0M447 213.5h0M446.6 213.3h0M446.4 214h0M446.1 214h0M446.9 214.9h0M446.9 214.1h0M446.8 214.4h0M446.3 216.2h0M446.5 217.1h0M446.9 218.1h0M446.1 218.4h0M446.9 219.3h0M446.4 219.6h0M446.3 219.3h0M446.7 221.6h0M446.6 221.2h0M446.8 221.7h0M447 221.7h0M446.6 223h0M446 223.2h0M446 225.1h0M446.9 226.4h0M447 226.7h0M446.8 227.1h0M446.9 227.1h0M446.8 227.8h0M446.7 228.2h0M446.6 228.5h0M446.8 228.5h0M446.4 229.2h0M447 229h0M446.4 229.7h0M447 230.9h0M446.1 230.4h0M446.4 230.2h0M446.8 230.1h0M446.1 230.6h0M446.3 230.1h0M446.7 231.4h0M446.9 231.5h0M446.1 231h0M446 231.7h0M446 231.8h0M446.9 232.2h0M446.1 232.6h0M446.7 232.4h0M446.5 232.4h0M446.8 234h0M446.5 234h0M446.9 233.5h0M446 233.4h0M446.6 233.1h0M446.1 233.1h0M447.3 153.6h0M447.1 164.8h0M447.5 165h0M447.9 165.3h0M447.7 179.4h0M447.4 180.7h0M447.4 182.4h0M447.2 183.5h0M447.2 188.5h0M447.6 189.1h0M447.3 191.4h0M447.4 191h0M447.6 191.3h0M447.8 192.4h0M447.4 192.9h0M447.5 193.9h0M447.4 194.7h0M447 194.1h0M447.8 197.2h0M447.2 197.8h0M447 198.9h0M447.4 199.1h0M447.2 199.9h0M448 201.3h0M447.2 204.2h0M447.7 205h0M447.9 206.3h0M447.4 206.8h0M447.8 206.6h0M447.2 206.9h0M447.1 206.9h0M447.7 206.8h0M447.5 208.6h0M448 208.9h0M447.6 208.9h0M448 208.8h0M447.2 208h0M447.4 208.5h0M447.5 209h0M447.5 209.5h0M447.5 214.5h0M447.8 214.9h0M447 214.5h0M448 215.2h0M447.6 215.1h0M447.1 215.2h0M448 215.6h0M447.8 216.6h0M447.4 217.4h0M447.8 217.4h0M447.8 217.8h0M447.7 218.4h0M447.2 219.8h0M447.8 219.6h0M448 220h0M447.8 220.7h0M447.3 220.9h0M447.6 220h0M447.2 220.7h0M447.1 221.6h0M447.3 222.5h0M447.1 223h0M447 222.5h0M447.7 223.6h0M448 223.2h0M447.5 223.2h0M447.7 224h0M447.7 223.3h0M447.9 223h0M447.8 223.5h0M447.2 224.9h0M447.5 225.3h0M447.9 227.8h0M447.2 227.2h0M448 228.8h0M447.1 228.2h0M447.6 228.2h0M447.6 229.6h0M447.8 229h0M447.2 229.1h0M447.6 229.6h0M447 229.2h0M447.1 230h0M447.7 230.3h0M447.1 230.1h0M447.3 230h0M447.9 230.8h0M447.6 231.4h0M447.5 231.1h0M447.8 231.9h0M447.8 231.1h0M447.6 232.4h0M447.4 233h0M447.1 232.2h0M447.6 232.1h0M447.2 232.8h0M448.3 176.1h0M448.2 177.9h0M448.2 183.7h0M448.3 188.7h0M448.5 189h0M448.1 190h0M448.4 192.7h0M448.6 193.6h0M448.9 196.5h0M448.4 197.2h0M448.1 202.3h0M448.7 203.5h0M448.2 204.2h0M448.2 204.9h0M448.8 205.2h0M448.7 208.8h0M448.3 208.1h0M449 209.9h0M448.8 210.6h0M448.4 211.1h0M448.9 211.7h0M448 211.1h0M448.5 212.8h0M448.4 212.7h0M448.2 212.6h0M448.9 213h0M448.2 213.3h0M448.4 214.7h0M448.2 214.2h0M448.6 215.8h0M448.6 216.7h0M448.3 216.6h0M448.9 216.9h0M448.4 216.7h0M448.5 218h0M448.6 219.9h0M448.8 219.1h0M448.7 220.6h0M448.9 220.3h0M448.1 223.1h0M448.5 223.4h0M448.1 223.1h0M448.3 224.1h0M448.9 224.7h0M448.7 224.4h0M448.5 226.5h0M448.3 226.3h0M449 226.9h0M449 226.2h0M448.1 226.8h0M448.6 227.8h0M448.3 227.4h0M448.7 228.2h0M449 228.9h0M448.4 228.1h0M448.9 228.4h0M448.3 229.7h0M448.8 229.4h0M448.3 230.8h0M448.7 230.9h0M448.2 230.3h0M448.9 230.1h0M448.4 231.4h0M448.9 231.4h0M448.1 232.9h0M448.8 233h0M449.1 159.7h0M449.8 164.8h0M449.2 167.2h0M449.9 181h0M449.1 185.7h0M449.1 186.9h0M449.4 186.2h0M449.5 194.9h0M449.4 196.3h0M449.3 196.8h0M449.8 200.8h0M449.3 201.7h0M449.1 204.9h0M449.9 204.9h0M449.7 205.1h0M449.7 206.1h0M449.9 210.5h0M449.5 210.1h0M449.5 210.7h0M449.9 214.4h0M449.2 215.5h0M449.7 216.1h0M449.4 216.4h0M449.3 218.1h0M449.1 218.2h0M449.6 218.3h0M449.5 218h0M449.7 219.1h0M449.3 222.9h0M449.1 222.3h0M449.1 223.2h0M449.9 224.6h0M450 225.8h0M449.2 226.7h0M449.1 227h0M449.1 226.6h0M449.2 227h0M449.3 227.6h0M449.9 228.5h0M449.6 228.2h0M449.5 228.1h0M449.6 230.1h0M449.1 230.2h0M449.8 230.7h0M449.6 232.2h0M450 232.1h0M449.3 232.1h0M450.7 176.1h0M450.6 182.7h0M450.8 182.3h0M450.5 187h0M450.1 193.3h0M450.5 195.1h0M450.9 197.6h0M450.9 200.6h0M450.6 206.7h0M450.7 208.7h0M450.4 208.1h0M450.1 209.8h0M450.3 209.7h0M450.7 210.1h0M450.2 214.9h0M450.1 215.2h0M450.6 217.3h0M450.7 218.3h0M450.9 218.1h0M450.6 218.1h0M451 218.9h0M450.4 219.9h0M450.1 225.3h0M450.8 226.6h0M450.2 227.5h0M450.4 229.6h0M450.4 230.7h0M450.1 230.4h0M450.5 230.5h0M450.7 231.2h0M450.4 232.6h0M450.2 233h0M450 234h0M450.2 233.3h0M450.5 233.9h0M450.4 234.8h0M451.7 171.5h0M451.5 193.3h0M451.2 198.9h0M451 200.5h0M451.4 204h0M451.9 204.3h0M451.8 205.6h0M451.1 207.3h0M451.9 209.7h0M451.1 211h0M451.5 210.7h0M451.1 211.6h0M451.8 213.4h0M451.8 214.7h0M451.5 214.3h0M451.8 216.3h0M451.7 217.8h0M451.1 218.1h0M451.7 218.6h0M451.2 218.9h0M451.7 219.7h0M451.8 219.4h0M451.4 221.3h0M451.4 221.4h0M451.3 221.9h0M451.3 222.5h0M451.2 222.8h0M451.8 223.6h0M451.5 223.5h0M451.1 223.4h0M451.8 224.8h0M451.5 224.8h0M451.8 225.6h0M451.1 225.5h0M451.8 227h0M452 226h0M451.8 228.6h0M451.2 228.2h0M451.1 229.2h0M451.9 230h0M452 230.2h0M451.5 231.5h0M451.4 231.9h0M451.1 231.2h0M451.1 232.6h0M451.1 233.9h0M451.1 233.1h0M451.1 233.7h0M451.1 233.3h0M451.4 234.1h0M452.1 165.9h0M452.5 182.6h0M452.8 183.5h0M452.2 190.8h0M452.4 198h0M452.3 204.3h0M452.2 208h0M452.7 210.5h0M452.8 210.4h0M452.1 211.4h0M452 213.7h0M452.5 214.5h0M452 215.8h0M452.4 216.4h0M452.6 217h0M452.2 218.6h0M452.4 219.2h0M452.8 220.3h0M452 221h0M452.4 224.8h0M452.6 225.6h0M452.5 225.6h0M452.2 226.9h0M452.1 227.8h0M452.9 227.1h0M452.1 227.9h0M452.1 229.1h0M452.9 230.8h0M452.5 231h0M452.6 231.1h0M452.1 231.4h0M452.3 231.8h0M452.5 232.8h0M452.5 233.3h0M452.2 234.9h0M452.1 234.7h0M452.5 235h0M452.1 234.4h0M452.9 235.4h0M452.6 235.6h0M454 167.7h0M453.2 193.1h0M453.3 203.4h0M453.4 203.4h0M453.4 204.6h0M453 205.3h0M453.2 207.1h0M453.4 209.8h0M453.6 211.6h0M453 212.2h0M453.8 214.9h0M453.6 218h0M453.2 218.8h0M453.6 218.6h0M453 220.1h0M453.3 221.6h0M453.4 222.5h0M453.8 222.8h0M453.1 222.3h0M453.3 225.2h0M453.7 227.9h0M454 228.9h0M453 229.4h0M453.8 229.5h0M453.2 231h0M453.5 233.9h0M453 234.9h0M453.3 234.7h0M453.3 235.8h0M453.6 235.1h0M453.3 235.5h0M453.5 235.7h0M454.1 197.3h0M454.2 208.6h0M454.5 208h0M454.7 211.8h0M454.1 212.2h0M454.1 212.3h0M454.1 213.5h0M454.6 214.1h0M454 218.1h0M454.3 218.2h0M454.8 223.8h0M455 225.8h0M454.1 225.7h0M454.7 226.9h0M454.9 227.2h0M454.7 227.1h0M454.6 228.8h0M454.1 231.4h0M454.9 232h0M454.9 232.3h0M454.7 233.1h0M454.8 233.7h0M454.6 234.4h0M455.6 160.6h0M455.7 167.8h0M456 197.6h0M455.2 198.8h0M455.3 206.9h0M455 213.1h0M455.2 215h0M455.8 216.8h0M455.7 219.3h0M455.4 220.5h0M455.7 220.8h0M455.9 220.7h0M456 221.4h0M455.8 223.5h0M455.4 225.4h0M455.6 225.8h0M455.5 225.3h0M455.1 228.6h0M455.9 228.1h0M455.1 229.4h0M455.2 230h0M455.5 230.1h0M456 230.7h0M455.9 231.8h0M455.4 232.5h0M455.9 233.3h0M455.6 234h0M455.5 234.3h0M455.3 234.3h0M455.5 235.3h0M456.7 171.7h0M456.2 196.5h0M456.9 199.2h0M456.3 206.2h0M456.7 214.3h0M456.6 214h0M456.4 216.5h0M456.6 218.9h0M456.9 218h0M456 219.8h0M456.6 219.1h0M456.5 219.7h0M456.7 220.5h0M456.4 222.6h0M456.5 222.3h0M456.1 222.5h0M456.2 224.1h0M456.1 225.8h0M456.4 225.3h0M456.1 227.8h0M456.8 228.4h0M457 230.3h0M456.9 231.5h0M456.2 232.6h0M456.2 232.9h0M456.2 232.3h0M456.6 233.3h0M456.6 234.9h0M456.1 235.8h0M456.4 235.7h0M456 236.9h0M456.2 236.3h0M457.6 197.4h0M457.5 210.2h0M457.4 220.8h0M457.5 221.8h0M457.6 222.4h0M457.8 222.9h0M457.2 226h0M457.7 225.5h0M457.2 225.9h0M457.5 226.8h0M457.5 226.6h0M457 226.1h0M457.7 227.6h0M457.3 228.2h0M457.2 229.3h0M457.8 230.2h0M457.9 230.5h0M457 231.2h0M458 232.5h0M457.2 232.8h0M457.6 233.6h0M457.9 234.6h0M457.7 235.7h0M457.5 236.3h0M457.1 236.9h0M458.7 166.5h0M458.4 185.7h0M458.8 186.2h0M458.3 187.3h0M458.1 199.7h0M458.5 199.4h0M458.4 200.1h0M458.6 200.1h0M458.2 201.7h0M458.6 203.4h0M459 209.1h0M458.1 215.8h0M458.6 215.3h0M458.1 218.5h0M458.5 219.3h0M458.5 221.4h0M458.6 222.5h0M459 222.8h0M458.7 223h0M458.1 226.2h0M458.4 227.6h0M458.1 228.8h0M458.4 229.1h0M458.6 229.5h0M458 230.6h0M458.1 230.5h0M458.1 230.5h0M458.8 231.3h0M458.4 232h0M458.9 233h0M458.7 235h0M458.1 235.7h0M458.4 235.5h0M458.1 235.1h0M458.9 236.3h0M458.9 237.3h0M458.7 237.8h0M458.9 238h0M459.3 183.5h0M459.1 190.8h0M459.7 192.1h0M459.3 208.8h0M459.8 214.6h0M459.8 215.1h0M459.2 216.4h0M459.5 217.8h0M459.6 218.2h0M459.4 220.6h0M459.3 220.7h0M459.4 220.3h0M459.5 226.4h0M459.8 227.9h0M459.6 227.4h0M459.9 228.9h0M459.6 230.1h0M459 231h0M459.1 231.9h0M459.5 233.4h0M459.6 233.9h0M459.3 233.6h0M459.3 235.8h0M459.1 236.2h0M459.2 236.5h0M460 236.8h0M459.5 237.5h0M460.2 200h0M460.3 205.6h0M460.8 211.5h0M460.3 211.5h0M460.4 212.1h0M460.6 213.8h0M461 214.8h0M460.8 217.1h0M460.4 217.2h0M460.9 217.2h0M460.1 218.9h0M460.3 219.4h0M460.3 220.3h0M461 222h0M460.1 221.4h0M460.6 222.3h0M460.6 223.7h0M460.7 224.8h0M460.3 225.6h0M460.9 228.9h0M460.2 229.7h0M460.1 230h0M460.8 230.6h0M460.8 230.5h0M460.2 231.5h0M460 232.3h0M460 232.5h0M460.8 233.2h0M460.4 233.7h0M460.4 233.2h0M460.5 233.9h0M460.8 233.2h0M460.4 234.4h0M460.1 236.7h0M460.1 237.7h0M460.9 238h0M461.1 203.4h0M461.9 204.3h0M461.8 205.3h0M461.2 205.8h0M461.8 208h0M461.1 208.4h0M461.9 212h0M461.4 212.1h0M461.6 214.4h0M461.1 215.5h0M461.6 218.4h0M461.6 221.2h0M461.1 222.9h0M461.1 227.5h0M462 228.5h0M461.6 229.5h0M461.7 230h0M461.3 232.8h0M461.7 233.8h0M461.4 233.6h0M461.8 233.5h0M461.2 234.8h0M461.1 234.7h0M461.6 234.6h0M461.9 235h0M461.2 235.6h0M461.8 236.7h0M461.2 237.5h0M461.2 237.3h0M462.7 205.1h0M462.5 206.8h0M462.3 207.1h0M463 212h0M462.6 215.5h0M462.1 217.3h0M462.2 221.6h0M462.4 223.1h0M462.4 224.2h0M462.9 225.2h0M463 226.1h0M462.2 228.8h0M462.8 229.5h0M462.6 230.2h0M462 231.3h0M462.5 232.8h0M462.3 232.1h0M462 233.8h0M462.6 234.6h0M462.1 235.7h0M462.7 235.5h0M462.6 236.6h0M463.8 205.9h0M463.4 214.7h0M463.5 214.1h0M463.4 214.8h0M463.8 217h0M464 218.5h0M463.6 222.1h0M463.2 222.1h0M463.1 223.1h0M463.5 223.3h0M463 225.6h0M463.1 226.1h0M463.1 228.8h0M463.2 229.9h0M463.7 229.3h0M463.9 229.2h0M463.4 229.4h0M464 230.5h0M464 232.8h0M463.1 232.9h0M463.4 233.4h0M463.4 234.1h0M463.2 234.6h0M463.3 234.8h0M463.1 235.8h0M463.7 236.5h0M463.3 237.1h0M463.3 237.6h0M463.2 237.4h0M463.1 237h0M463 238.6h0M464.8 194.6h0M464.4 198.1h0M464.7 202.1h0M464.6 204.8h0M464.3 215.9h0M464.6 219.9h0M464.1 219.2h0M464.1 219.9h0M464.1 221.2h0M464.2 224h0M464.4 224.9h0M464.6 232.6h0M464.4 233.9h0M464.6 233.9h0M464.5 233.1h0M464.1 236.7h0M464.8 237h0M464.6 237.6h0M465.4 202h0M465.2 204.6h0M466 206.6h0M465.8 209.3h0M465.4 211.6h0M465.4 213.5h0M465.7 215.1h0M465.8 220.8h0M465.9 223.1h0M465.4 223.3h0M465.7 224.2h0M465.4 225.2h0M465.4 225.2h0M465.5 226.6h0M465 226.2h0M465.5 227.4h0M465 229.6h0M466 230.1h0M465.1 231.2h0M465.7 231.3h0M465.5 231.2h0M465.1 232.8h0M465.2 232.8h0M465.4 232.8h0M465.9 232.8h0M465.1 233.6h0M465.7 234.4h0M465.6 234.2h0M465.3 236.6h0M465.4 236.5h0M465.8 238.2h0M465.7 238.7h0M465 238.4h0M465.8 238.7h0M466.5 186.4h0M467 208.3h0M466.1 210.7h0M466.8 212h0M466.3 213.1h0M466.4 217.7h0M466.2 219.5h0M466.2 220.2h0M466.5 221.8h0M466.5 228.9h0M466.8 228.7h0M466.6 229.6h0M467 230.7h0M466.9 230.4h0M467 230.8h0M466.8 233.4h0M466.8 235.1h0M466.3 237.8h0M466.3 237.4h0M466.9 238.5h0M466.9 238.2h0M467.4 197.4h0M467.7 203.7h0M467.5 211.3h0M467.9 217h0M467.5 218.2h0M467.9 222.2h0M467.4 225.4h0M467.5 227.8h0M467.9 227.1h0M467.9 228.6h0M467.9 228.1h0M467.2 228.3h0M467.3 229.9h0M467.5 230.8h0M467.9 230.9h0M467.2 231.4h0M467.8 232.3h0M467.4 233.8h0M467.1 234.4h0M467.9 234.5h0M467.7 234.4h0M467.1 235.1h0M468 236.2h0M467.9 236.2h0M467.4 237.4h0M468 237.4h0M467.6 238.7h0M468.4 198.5h0M468.3 207.8h0M468.3 209.6h0M468.4 217.5h0M468.9 218.5h0M468.4 221.2h0M468.9 222.1h0M468.6 223.8h0M468.9 225.1h0M469 227.5h0M468.6 228.2h0M468.7 228.4h0M468.6 229.8h0M468.1 230.8h0M468.6 232.8h0M468.6 233.8h0M468 233.2h0M468.4 234.3h0M468.5 235.8h0M468.5 235.5h0M468.8 235.7h0M468.6 237h0M468.7 237.3h0M468.4 238.3h0M469.9 197.8h0M469.8 201.1h0M470 207.8h0M469.2 210.6h0M469.8 220.9h0M469.9 220h0M469.1 222.3h0M469.6 223.3h0M469.1 223.4h0M469.2 226h0M469.8 227.5h0M469.6 227.5h0M469.9 229.7h0M469.8 229.5h0M469.1 230.5h0M469.7 231.1h0M469.7 232.3h0M469.5 232.7h0M469.2 234.7h0M469.7 234.6h0M469.9 235.6h0M469.8 236.1h0M469.5 236.9h0M469.2 236.5h0M469.9 237.8h0M470.9 200.3h0M470.2 211.6h0M470.5 219.6h0M470 219.2h0M470.9 219.1h0M470.9 222.9h0M470.7 226.1h0M470.3 226.3h0M470.2 227.4h0M470.3 228h0M470.5 229.6h0M470.2 230.9h0M470.7 230.9h0M470.3 232h0M470.4 232.3h0M470.5 232h0M470.8 232.1h0M470.4 233h0M470.3 233.2h0M470.5 233.8h0M470.1 235.8h0M470.5 236.8h0M470.8 236.4h0M470.7 236.8h0M470.5 237.6h0M470.8 237.7h0M470.7 238.7h0M470.3 239.3h0M470.4 239.7h0M471.1 202.7h0M471.4 203.4h0M471.3 204.4h0M471.3 213.1h0M471.1 218.7h0M471.5 220.1h0M471.5 221.2h0M471.1 221.1h0M471.3 226.5h0M471 227.5h0M472 228h0M471 228.6h0M471.2 231h0M471.5 235.9h0M471.2 235.8h0M471.1 235.4h0M471.1 235.3h0M471.6 235.3h0M471.2 238.5h0M471.5 238.7h0M471.4 239.8h0M471.2 239.4h0M472.1 211.1h0M472.9 218.3h0M472.5 221.2h0M472.6 224.8h0M472.6 225.1h0M472.8 227h0M472.8 227.1h0M472.2 228.4h0M472.3 229.3h0M472.7 229.3h0M472.9 231.1h0M472.7 232.7h0M472.2 233.8h0M472.8 233.1h0M472.6 233.9h0M472.6 233.3h0M472.2 235h0M472.6 235.3h0M472.4 235.8h0M472.5 235.2h0M472.5 237.6h0M472.9 237.1h0M472.2 237.7h0M473 238.4h0M472.1 238.6h0M472.1 238.5h0M472.9 239.2h0M473.9 218.8h0M473.5 220.1h0M473.1 226.1h0M473.3 227.5h0M473.4 229.1h0M473.4 229.3h0M473.3 229.6h0M473.6 230.5h0M473.5 231.9h0M473.5 232.7h0M473.7 232h0M473.9 234.4h0M473.2 235.2h0M473.1 236.8h0M473.9 236.4h0M473.3 237.7h0M473.4 237.9h0M473.4 237.6h0M473 238.4h0M473.5 238.9h0M473.2 239.2h0M473.5 239.1h0M474.9 214.8h0M474.6 216.9h0M474.9 218h0M474.1 219.9h0M474.6 222.7h0M474 226.4h0M474.3 232h0M474.8 233.5h0M474.9 233.2h0M474.6 234.4h0M474.9 235.4h0M474 236.9h0M474.6 237.6h0M474.2 237.3h0M474.3 238.8h0M475 239.3h0M474.1 239.8h0M474.3 239.5h0M475.1 178.2h0M475.6 200h0M475 207.6h0M475.6 207.5h0M475.2 208.9h0M476 215.9h0M475 219.5h0M475.7 220.2h0M475.1 226.2h0M476 227.4h0M475.6 227.1h0M475.2 229.1h0M476 229.6h0M475.4 229.6h0M475.5 235.1h0M475.9 236.9h0M475.2 236.6h0M475.3 236.4h0M475.2 237.2h0M475.8 237.3h0M475.2 238.9h0M475.3 239h0M475.4 239.9h0M475.2 239.5h0M476 239.9h0M476.2 206.1h0M476.5 207.1h0M476.3 207.4h0M476.2 212.8h0M476.3 213.4h0M477 223.1h0M476.8 225.8h0M476.1 230.5h0M476.5 230.8h0M476.3 230.8h0M476 230.9h0M477 231.4h0M476.3 231.4h0M476.5 231.3h0M477 232h0M476.8 233.6h0M476.8 233.3h0M476 233h0M476.4 234.2h0M476.8 235.5h0M476.4 236h0M476.6 235.8h0M476.6 237.4h0M476.9 237.6h0M476.3 237.9h0M476.1 237.6h0M476.6 238.7h0M476.2 238.4h0M476.7 239.7h0M477.7 186h0M477.5 204.8h0M477.3 209h0M477.2 217.7h0M477.3 219.5h0M477.3 228.9h0M478 228.3h0M477.7 229.8h0M477.7 232.7h0M477.5 233.1h0M477.4 235.9h0M477.9 235.3h0M477.7 235.5h0M477.1 236.1h0M477.1 236.6h0M477.4 237.3h0M477.9 237.6h0M477.7 238h0M477.4 238.2h0M477.3 238h0M477.1 238.7h0M477.2 239.3h0M477.7 239.5h0M477.1 239.4h0M477.2 239.6h0M478.4 177.8h0M478.7 208.2h0M478.5 214.2h0M478.3 222.5h0M478.9 222.5h0M478.2 222.4h0M478.1 225.7h0M478.2 225.4h0M478.8 228.3h0M478.9 229.8h0M478.4 229.5h0M478.5 230.7h0M478.7 232.5h0M478.6 234.1h0M478.4 235.2h0M478.3 235.3h0M478.5 235.9h0M478.6 236.1h0M478.1 236.1h0M478.3 236.8h0M478.9 237h0M478 238.7h0M478 238h0M478.2 239.7h0M479.6 211.1h0M479.2 212.3h0M479.3 217.6h0M479.3 217.3h0M479.4 220.5h0M479.6 221.1h0M479.3 228.3h0M479.3 229.4h0M479 229.7h0M479.8 230.1h0M479.3 231.9h0M479.7 232h0M479.2 232h0M479.1 233.6h0M480 235.1h0M479.1 236.3h0M479.8 236.7h0M479.1 236.3h0M479.4 237.8h0M479.2 237.5h0M479.2 238.4h0M479.4 238.6h0M479.9 239.2h0M480.7 209.8h0M480.5 211.6h0M480.1 218.9h0M480.3 221.6h0M480.8 221h0M480.7 223.9h0M480.8 225.5h0M480.2 227h0M480 231.4h0M480.1 233.7h0M480.1 233.3h0M480.6 234.4h0M480.3 234.4h0M480.1 235.1h0M480.3 238h0M480.4 238.1h0M480.7 238.9h0M481 239.2h0M480.8 240h0M480.2 239.3h0M481.4 188.9h0M481.7 196.2h0M481.8 205.3h0M481.8 206.1h0M481.7 211.9h0M481.8 220.4h0M481.7 224.4h0M481.3 227.4h0M481.2 229.1h0M481.9 231.3h0M481.1 234h0M481.9 233.7h0M481.7 234.5h0M481.4 236.1h0M481.1 238.5h0M481.7 239.8h0M481.6 239.8h0M482.4 204.8h0M482.8 207.9h0M482.7 208.5h0M482.5 208.7h0M482.3 218.5h0M483 221.3h0M482.9 221.4h0M482.5 221.4h0M482.1 223.8h0M482.9 224.6h0M482.8 229.6h0M482.2 229.2h0M482 233.7h0M482.5 233.5h0M482.8 234.6h0M482.1 234.7h0M482.9 234.4h0M482.6 234.1h0M482.9 234.7h0M482.1 235.3h0M482.2 236.5h0M482.2 236.7h0M482.9 237.8h0M482.2 238.2h0M482.9 239.3h0M484 209.3h0M483.9 211.2h0M483 220.1h0M483.8 220.4h0M484 221.4h0M484 225.7h0M483.3 231.2h0M483.7 231.6h0M483.7 232.3h0M483.6 233.1h0M483.2 234.5h0M483.9 234.8h0M483.4 234.9h0M483.4 235.4h0M483.6 235.1h0M483.2 238h0M483.3 237.8h0M483.1 238.7h0M483.8 239.6h0M483.5 239.2h0M484.4 212.7h0M484.4 213.8h0M484.8 215.2h0M484.5 219.8h0M484.4 219.8h0M484.7 220h0M484.6 222.7h0M484.3 224h0M484.1 224.3h0M484.8 227.9h0M484.1 227.5h0M484.1 228.9h0M484.2 230.3h0M484.3 232.9h0M484.4 232h0M484.8 233.7h0M484.1 233.9h0M484.5 233.1h0M484.6 234.3h0M484.2 235.7h0M484.2 236.4h0M484.8 238.3h0M484.2 238.2h0M484.9 239.8h0M485.6 200.8h0M485.1 218h0M485.3 222.4h0M485.9 225.3h0M485.2 229.2h0M485.1 231.2h0M485.8 233.7h0M485.9 233.5h0M485.4 233.8h0M485 235.3h0M485.9 235.6h0M485.6 235.6h0M485.4 236.1h0M485.1 237.8h0M485.2 238.9h0M485.8 239.7h0M485.9 239.8h0M485.3 239.5h0M486.8 190.2h0M486.1 204.3h0M486.8 220.1h0M487 222.2h0M486.8 226.5h0M486.2 226.5h0M486 226.5h0M486.6 228.9h0M486.3 230.8h0M486.4 230.8h0M486.2 231.8h0M486.8 234.9h0M486.4 234.3h0M486.2 235.2h0M486.2 236.8h0M486.1 237.8h0M486.7 238.7h0M486.5 238.8h0M486 239.6h0M486.5 239.6h0M486.6 239.2h0M486.5 239h0M486.8 240.3h0M486.9 240.8h0M486.1 240.7h0M486.7 240.6h0M487.9 186.3h0M487.9 220h0M487.5 222.7h0M487.2 224.2h0M487.7 229.6h0M487.5 229.7h0M487.8 232h0M487.7 233.4h0M487.8 233h0M487.1 234.7h0M487.1 234.2h0M487.3 234.8h0M487.1 234.6h0M487.1 235.9h0M487.2 236.7h0M487.4 237.8h0M487.3 238.8h0M487.9 239.5h0M487.9 239.9h0M487.6 240.1h0M488.9 198.5h0M488.1 202.2h0M488.1 208.7h0M488.3 209.4h0M488.2 210.2h0M488.6 220.9h0M488.4 221.7h0M488.5 223h0M488.1 223.6h0M488.7 223.3h0M488.5 226.6h0M488.1 228.2h0M488.5 229.4h0M488.2 229.1h0M488.1 233.8h0M488.3 233.3h0M488.6 234.2h0M488.1 234.8h0M488.9 234.2h0M488.5 236.7h0M488.6 237.6h0M488.1 237.3h0M488.1 237.2h0M488.7 238.6h0M489 238.3h0M488.6 238h0M488.3 239.2h0M488.4 240.7h0M488.6 240.6h0M488.8 240.5h0M489 193.2h0M489.9 198.4h0M489.4 217.3h0M489.2 226.9h0M489.2 228.3h0M489.6 230.7h0M489.5 232.4h0M489.9 233.3h0M489.4 234.5h0M489.3 235.4h0M489.8 235.1h0M490 236.8h0M489.8 236.2h0M489.9 236.2h0M489.1 236.8h0M489.2 237.6h0M489.4 238.1h0M489.9 238.7h0M489.2 238.2h0M489.9 240h0M489.7 239.9h0M489.9 239.2h0M489 239.6h0M489.6 239.7h0M489.5 240.2h0M490 206.9h0M490.6 211.9h0M490.4 219.1h0M490.2 223.5h0M490.7 224.2h0M490.8 227.2h0M490.9 228.3h0M490.4 228.8h0M490.6 229.9h0M490.3 230.3h0M490.1 232.5h0M490.2 233.3h0M491 236.4h0M490.3 236.2h0M490.7 237.6h0M490.1 238.1h0M490.9 239.6h0M490.1 240.8h0M491 240.4h0M490.3 240.7h0M490.1 240.5h0M491.7 200.8h0M491.1 217.6h0M491.9 220.6h0M491.5 220.6h0M491.6 222.3h0M491 228.3h0M491.6 230h0M491.3 230.5h0M491.3 231.5h0M491.7 233.7h0M491.9 234.3h0M492 234.2h0M491.2 236.3h0M491.6 237.7h0M491.5 237.4h0M491.3 238.8h0M491.9 240.9h0M491.4 240.3h0M492.6 205.9h0M492.5 214.7h0M492.7 227.7h0M492.9 229.8h0M492.3 230.8h0M492.3 230.5h0M492.4 231.1h0M492.4 231.6h0M492.7 233.2h0M492.4 236.4h0M492.5 237.9h0M492.6 237.6h0M492.5 238h0M492.1 239.9h0M492.5 239.2h0M493 239.2h0M492.8 240.1h0M493.9 197.5h0M493.5 211h0M493.3 212.7h0M493.8 227.5h0M493.9 230.7h0M493.5 230.9h0M493 232.6h0M494 234.4h0M493.5 234.3h0M493.3 234.3h0M493.4 235.7h0M493.9 236.8h0M493.3 236.1h0M493.9 237.4h0M493.9 237.9h0M493.9 238.3h0M493.7 240h0M494 239.5h0M493.7 240.1h0M494 240.3h0M493.4 240.7h0M493.3 240h0M494 210.5h0M494.5 214.8h0M494.2 216.7h0M494.1 220.5h0M494.1 223.1h0M494.3 224.8h0M494.4 224.6h0M494.7 228h0M494.7 230.1h0M494.2 232h0M494.8 232.6h0M494.1 233.6h0M494.9 233.6h0M494.3 234.1h0M494.6 234.1h0M494.6 235.5h0M494.4 237.7h0M494 237.3h0M494.7 237.7h0M494.1 238.1h0M494.7 238h0M494.3 239.3h0M494.9 239.7h0M494.6 240h0M494.5 240.2h0M495.8 212.4h0M495.3 221.7h0M495.2 225.1h0M495.8 225.2h0M495.4 226.7h0M495.1 228.9h0M495.5 230.9h0M495.1 232.3h0M495.8 232.6h0M496 233.7h0M495.8 234.3h0M495 235h0M495.8 236.2h0M495.7 236.1h0M495.4 239.4h0M495.6 239.8h0M495 239.2h0M495.6 240.9h0M495.8 240.2h0M495.4 240.5h0M495.8 240.5h0M496.8 178.9h0M496.9 194.3h0M496.9 204h0M496 211.9h0M496 218.4h0M496.9 225.9h0M496.2 226.2h0M496 227.6h0M496.9 228.9h0M496.9 232.3h0M497 232.5h0M496.2 233.4h0M496.7 233.7h0M496.5 236h0M497 236h0M496.5 236.9h0M496.5 237.9h0M496.2 238.4h0M496.2 239h0M496.8 238.9h0M496.1 239.6h0M496.2 240h0M497.7 203.3h0M497.7 204.8h0M497.5 214.7h0M497.4 215.2h0M497.2 218.5h0M497.2 219.8h0M497.2 221.8h0M497.3 225.8h0M497.6 225.7h0M497.9 226.6h0M497.9 226.2h0M497.1 229.1h0M497.4 229h0M497.6 232.5h0M497.5 233.1h0M498 233.3h0M497.4 234.1h0M497.2 234.6h0M497.1 235.7h0M497.6 235.9h0M497.2 235.4h0M498 236.3h0M497.9 236.5h0M497.4 237.6h0M497.9 238.5h0M497.8 239.1h0M497.8 240.6h0" stroke="#55377f" stroke-width="1.15" stroke-linecap="round" fill="none"/>
<path d="M451.5 192.1h0M448.5 191.8h0M450.1 231.9h0M448.6 212.2h0M448.4 232.6h0M446 229.9h0M447.3 226.7h0M446.6 204.2h0M454 204.9h0M446.1 203.5h0M442.1 232.6h0M447.3 224.7h0M436.7 225.2h0M445.7 224.1h0M445 227.9h0M447.8 213.4h0M447.2 230.9h0M444.7 233.6h0M449 232.1h0M447.3 229.3h0M447.2 230.8h0M445 224.1h0M441.7 230.7h0M443.9 220.6h0M442.4 225.7h0M446.8 223.7h0M442.5 232.8h0M444.9 207h0M450.1 211.7h0M449 231.8h0M446.7 211.8h0M442.7 233.9h0M445.8 228.6h0M447.8 178.6h0M447.7 229.5h0M448.2 215h0M445.2 233.2h0M447.7 232h0M450.2 223.5h0M451.5 231.4h0M444.8 226.6h0M445 225.6h0M448.2 229.7h0M449.9 227.6h0M446.1 231.6h0M447.9 225.5h0M444.9 195.2h0M450.5 211.5h0M449.9 231.4h0M448.6 227h0M448.4 230.8h0M447.1 227.8h0M447.7 213.3h0M444.9 216.8h0M449.2 222.2h0M445.4 228.9h0M447.2 224.1h0M448.2 215.5h0M448.3 228.4h0M453.9 234.8h0M447.1 213.2h0M448.2 153.2h0M449.1 228.8h0M448.1 228.4h0M447.8 230h0M449.1 186.7h0M446.4 216.6h0M448.7 214.4h0M448.3 223.1h0M450.8 227h0M449.2 221.4h0M443.7 226.6h0M443.1 220.6h0M447.4 226.1h0M447.8 217.8h0M446 220.3h0M447.5 231.3h0M450.3 200.6h0M448.4 226.1h0M450.3 227h0M447.5 216.3h0M447.9 229.3h0M449.2 221.4h0M446.1 229.4h0M453.8 209.1h0M445.2 228.5h0M441.1 229.7h0M452.9 225.3h0M447.9 222.7h0M446 230.7h0M447.3 217.7h0M451.1 233h0M449.6 232.3h0M449.7 221.3h0M444.7 214.8h0M443.3 229.4h0M448.6 228.6h0M445.6 202.8h0M444.6 219.5h0M447.6 210.7h0M443.1 232h0M446.1 232.7h0M449.5 230.1h0M445.4 206.4h0M444 225h0M448.1 225.8h0M446.9 230.3h0M440.1 234.7h0M447.4 231.2h0M449 196.5h0M450.6 231.9h0M445.3 218.1h0M447.6 224.8h0M447.1 223.6h0M448.8 200.6h0M447 219.4h0M448.4 230h0M447.9 213.5h0M448.1 227.3h0M447.2 213.1h0M447.9 221.3h0M446.1 232.4h0M445.8 227.5h0M444.4 230.9h0M448.1 230.5h0M449.1 227.6h0M448.9 218.2h0M438.2 205.8h0M448.3 227.1h0M442.6 216.2h0M446.9 229.3h0M445 229.7h0M444.4 229.9h0M451 233h0M446.2 208.3h0M446.7 212.8h0M446.7 225.3h0M448 227.4h0M447.9 209.7h0M446.5 230.8h0M448.4 223.9h0M447.4 230.5h0M444.9 228.6h0M455.1 235.8h0M447 231.8h0M446.3 229.9h0M448.3 229.6h0M445.7 232.5h0M449.9 219.4h0M447.5 222h0M447.6 208h0M441.4 234.7h0M449 208.9h0M448.5 225.2h0M448.7 223.2h0M448 227.3h0M444.4 233h0M446 231.9h0M448.2 230.2h0M444 224.1h0M448.6 218.7h0M448.6 218.8h0M442.7 222.3h0M446.1 230.5h0M451.6 161.9h0M448.3 220.7h0M447.1 203.3h0M449.5 223.1h0M446.6 197h0M445.2 225.7h0M443.8 231.8h0M442.3 231.9h0M448.3 212.8h0M446 227.5h0M447.1 217.7h0M441.8 233.6h0M449.8 233h0M435.7 216h0M448 223.4h0M448.8 232.2h0M443 215.2h0M447.8 230.4h0M444.3 203.6h0M447.7 191.2h0M443.9 226.8h0M447 229.2h0M446.2 232.3h0M448.4 217.2h0M443.5 225.2h0M447.7 218.5h0M452.1 224.1h0M447.6 228.7h0M447.4 221.7h0M445.6 218.4h0M442.4 219.7h0M451.1 230.4h0M447.3 213.7h0M449.4 229.5h0M450.4 206.9h0M450 214.2h0M445.8 226.4h0M446.5 216h0M447 222.2h0M447.8 231.8h0M447 207.2h0M447.9 226.6h0M447.3 230.1h0M449.4 228h0M446.4 231.7h0M451.5 233.6h0M446.4 223.4h0M440.6 223.7h0M445.5 230.5h0M447 210.4h0M449.8 229.9h0M446.1 224.1h0M450.9 226.4h0M441 235h0M446.2 230.2h0M444.8 222.7h0M451.4 234.2h0M446.6 211h0M446.2 202.7h0M446.7 223h0M446.8 230.5h0M446.8 218.1h0M448 216.8h0M451.1 222.7h0M449 232.6h0M446.2 226.8h0M449 216.9h0M448.2 228h0M447.6 227.5h0M447.4 218.7h0M449 230.9h0M446.9 229.8h0M446.4 216.8h0M440.6 190.5h0M441.4 229.1h0M453.3 229.7h0M448.2 214.8h0M451.7 225.2h0M447.1 228.7h0M446.8 231.8h0M444.6 219.7h0M447.7 196h0M447.7 229.3h0M449.1 207.5h0M447.5 228.9h0M451.6 209h0" stroke="#2c3a7c" stroke-width="1.2" stroke-linecap="round" fill="none"/>
<path d="M397.35 239.81 L397.85 239.80 L398.35 239.79 L398.85 239.78 L399.35 239.77 L399.85 239.76 L400.35 239.76 L400.85 239.75 L401.35 239.74 L401.85 239.73 L402.35 239.72 L402.85 239.71 L403.35 239.69 L403.85 239.68 L404.35 239.67 L404.85 239.66 L405.35 239.65 L405.85 239.63 L406.35 239.62 L406.85 239.60 L407.35 239.59 L407.85 239.57 L408.35 239.56 L408.85 239.54 L409.35 239.52 L409.85 239.51 L410.35 239.49 L410.85 239.47 L411.35 239.45 L411.85 239.43 L412.35 239.41 L412.85 239.39 L413.35 239.36 L413.85 239.34 L414.35 239.31 L414.85 239.29 L415.35 239.26 L415.85 239.24 L416.35 239.21 L416.85 239.18 L417.35 239.15 L417.85 239.12 L418.35 239.08 L418.85 239.05 L419.35 239.01 L419.85 238.98 L420.35 238.94 L420.85 238.90 L421.35 238.86 L421.85 238.82 L422.35 238.78 L422.85 238.73 L423.35 238.68 L423.85 238.64 L424.35 238.59 L424.85 238.53 L425.35 238.48 L425.85 238.43 L426.35 238.37 L426.85 238.31 L427.35 238.25 L427.85 238.18 L428.35 238.11 L428.85 238.05 L429.35 237.97 L429.85 237.90 L430.35 237.82 L430.85 237.74 L431.35 237.66 L431.85 237.58 L432.35 237.49 L432.85 237.40 L433.35 237.30 L433.85 237.20 L434.35 237.10 L434.85 236.99 L435.35 236.88 L435.85 236.77 L436.35 236.65 L436.85 236.53 L437.35 236.40 L437.85 236.27 L438.35 236.13 L438.85 235.99 L439.35 235.84 L439.85 235.68 L440.35 235.52 L440.85 235.35 L441.35 235.17 L441.85 234.99 L442.35 234.80 L442.85 234.59 L443.35 234.38 L443.85 234.15 L444.35 233.90 L444.85 233.64 L445.35 233.36 L445.85 233.05 L446.35 232.72 L446.85 232.34 L447.35 231.93 L447.85 232.34 L448.35 232.72 L448.85 233.05 L449.35 233.36 L449.85 233.64 L450.35 233.90 L450.85 234.15 L451.35 234.38 L451.85 234.59 L452.35 234.80 L452.85 234.99 L453.35 235.17 L453.85 235.35 L454.35 235.52 L454.85 235.68 L455.35 235.84 L455.85 235.99 L456.35 236.13 L456.85 236.27 L457.35 236.40 L457.85 236.53 L458.35 236.65 L458.85 236.77 L459.35 236.88 L459.85 236.99 L460.35 237.10 L460.85 237.20 L461.35 237.30 L461.85 237.40 L462.35 237.49 L462.85 237.58 L463.35 237.66 L463.85 237.74 L464.35 237.82 L464.85 237.90 L465.35 237.97 L465.85 238.05 L466.35 238.11 L466.85 238.18 L467.35 238.25 L467.85 238.31 L468.35 238.37 L468.85 238.43 L469.35 238.48 L469.85 238.53 L470.35 238.59 L470.85 238.64 L471.35 238.68 L471.85 238.73 L472.35 238.78 L472.85 238.82 L473.35 238.86 L473.85 238.90 L474.35 238.94 L474.85 238.98 L475.35 239.01 L475.85 239.05 L476.35 239.08 L476.85 239.12 L477.35 239.15 L477.85 239.18 L478.35 239.21 L478.85 239.24 L479.35 239.26 L479.85 239.29 L480.35 239.31 L480.85 239.34 L481.35 239.36 L481.85 239.39 L482.35 239.41 L482.85 239.43 L483.35 239.45 L483.85 239.47 L484.35 239.49 L484.85 239.51 L485.35 239.52 L485.85 239.54 L486.35 239.56 L486.85 239.57 L487.35 239.59 L487.85 239.60 L488.35 239.62 L488.85 239.63 L489.35 239.65 L489.85 239.66 L490.35 239.67 L490.85 239.68 L491.35 239.69 L491.85 239.71 L492.35 239.72 L492.85 239.73 L493.35 239.74 L493.85 239.75 L494.35 239.76 L494.85 239.76 L495.35 239.77 L495.85 239.78 L496.35 239.79 L496.85 239.80 L497.35 239.81 L497.4 246.1 L397.4 246.1Z" fill="#313f8c"/>
<rect x="397.4" y="243" width="100.0" height="3.1" fill="#25708a"/>
<path d="M433 240.7h0M439.4 242.3h0M427.7 240.2h0M462 239.7h0M479.4 240.8h0M473.1 240.8h0M441.6 236.9h0M467.7 240.9h0M471 241.3h0M447.9 237.1h0M451.3 241.9h0M490.8 241.2h0M442.6 239.4h0M480.5 240.8h0M432.3 242.2h0M398.6 241.8h0M415.1 240.6h0M439.4 241.8h0M489.2 242.3h0M401.1 242h0M448.5 239.9h0M423.6 240.5h0M484.5 240.7h0M427.6 242.5h0M472.7 240.4h0M489.6 240.8h0M437.6 241.8h0M469.1 240.4h0M454.7 240.4h0M485.5 242h0M424.2 242.4h0M421.5 241.9h0M486 240.9h0M464.1 240.5h0M473.7 240.1h0M442.8 239.8h0M452.5 236.5h0M474.3 240.8h0M475.3 240.9h0M463.7 242.4h0M422.5 239.8h0M429.8 240.7h0M410.7 241.9h0M495 242.4h0M453.3 238.6h0M446.6 237.5h0M434.5 241.6h0M489.3 240.8h0M489.8 240.8h0M481.1 242h0M466.4 241.9h0M444.3 239h0M413.3 241.4h0M449.5 238.2h0M492.1 241.5h0M414.1 241.8h0M467.1 242h0M458.5 241.9h0M418.5 241.9h0M420.4 242.1h0M428.6 240.1h0M482 240.7h0M460.9 238.9h0M440.2 236.6h0M422.3 241.8h0M489.4 240.7h0M493.4 240.8h0M416.3 242h0M441.4 239h0M453.5 236.8h0M489.8 241.4h0M461 242.2h0M468.4 240.5h0M433.9 241.8h0M428.1 242h0M418 240.1h0M494.8 241.7h0M476.8 241.1h0M478.7 240.9h0M420.5 242.2h0M408.4 241.3h0M497.3 241.1h0M407.8 242.3h0M416 242.2h0M463.9 239.2h0M445.4 237.4h0M453.7 241.3h0M464.8 239.8h0M401.1 241.8h0M414.2 242.5h0M408.4 241h0M467 241.9h0M493.2 240.8h0M443.6 242.4h0M473.5 241.2h0M397.8 241.8h0M399.9 241h0M448.5 242.3h0M495.7 242.1h0M425.6 242h0M494 242.1h0M415.3 241h0M444 236.9h0M476.7 241.3h0M452.2 236.6h0M432.4 239.9h0M483 241.5h0M424.6 240.5h0M422.3 240.6h0M441.7 238.2h0M416 241.7h0M423 241.3h0M461.6 242h0M400.3 241h0M434.4 242.1h0M447.8 241.1h0M423 242.4h0M494.4 240.8h0M432.2 242h0M444.9 237.3h0M471 241.2h0M435.5 239.6h0M448.2 240.1h0M458.2 238.4h0M454 237.6h0M459.6 241.9h0M428.5 241.2h0M413.7 240.8h0M407.3 242h0M466.2 241.6h0M431.9 238.7h0M455.6 241.2h0M414.2 240.7h0M428.2 240.5h0M405.4 241.5h0M420.2 240.7h0M468.2 242.2h0M461.5 240.3h0M447.7 239.5h0M413 240.5h0M452.3 241.6h0M466.5 239.7h0M407.2 241.3h0M484.5 241.2h0M445.6 238.5h0M433.7 238.8h0M421.6 242h0M445.4 240.4h0M443.1 240.3h0M445.2 235.8h0M478.9 242.4h0M427.6 240.3h0M440.1 237.8h0M472.3 241.1h0M431.8 239.9h0M462.9 239.2h0M436.9 242.2h0M405.3 241.7h0M451.8 235.9h0M425.9 242.4h0M448.2 234.5h0M403.8 241h0M423.1 240.6h0M462 239.1h0M423.9 240.7h0M462.1 238.9h0M441.3 238.4h0M413.8 242h0M417.9 240.7h0M463.3 238.7h0M406.7 241.9h0M471.2 240.2h0M431.1 239.7h0M400 241.3h0M467.9 239.8h0M407.9 240.8h0M413.5 242.5h0M455.7 240.2h0M458.5 237.7h0M441.5 239.4h0M409.2 241.2h0M470.5 240.7h0M453.8 240.7h0M453.1 241.1h0M454.9 239.5h0M446 236.7h0M415.1 241.2h0M451.8 241.2h0M438.2 237.9h0M421.2 240.2h0M462.1 242h0M460.2 239.8h0M468.5 241.3h0M412.1 241h0M415.9 240.8h0M455.8 240.5h0M492.7 241.9h0M451.8 236.6h0M426.9 242.2h0M448.5 236.1h0M398 242.2h0M469.5 242.2h0M429.3 239.8h0M406.5 242.3h0M480.4 240.6h0M401.9 240.9h0M422.4 242h0M491.1 242.2h0M449.6 235.4h0M470.1 240h0M449 239.9h0M452.5 238.7h0M401 241.5h0M457.4 241.4h0M406.8 241.5h0M422.1 241.7h0M404 242.1h0M437.8 242h0M448.2 238.3h0M437.9 240.5h0M485.2 240.6h0M431 241.9h0M410.7 242.3h0M459.3 240.4h0M496.4 240.8h0M461.8 241.6h0M441.3 236.3h0M457.9 241.3h0M447 235.3h0M483.8 242h0M450.4 240.4h0M426.1 242.1h0M439.5 241.4h0M472.6 240.4h0M486.7 240.6h0M464.2 242h0M456.4 240h0M451.1 235.9h0M491 241.9h0M422.6 239.9h0M430.5 241.5h0M480.4 240.9h0M426 239.9h0M436 239.8h0M466.8 241.6h0M417.7 242.2h0M442.4 238.3h0M449.2 235.5h0M453.7 237.5h0M448.8 234.5h0M473.7 242.2h0M441.4 241.7h0M437 241.1h0M490.9 241.7h0M470.3 239.7h0M440.1 238.5h0M493.6 241.8h0M446.6 239.5h0M428.5 242.2h0" stroke="#3a3d90" stroke-width="1.1" stroke-linecap="round" fill="none"/>
<path d="M434.7 238.4h0M454.6 238.6h0M435.5 241.8h0M452.8 243.6h0M447.2 237.6h0M445.9 244h0M466.3 244.2h0M483.6 242h0M486 241.2h0M496.2 242.3h0M490.3 241.6h0M495.3 241.2h0M462.5 238.8h0M417.8 240.9h0M397.4 242h0M483 241.8h0M485.4 241.7h0M461.3 242h0M464.1 239h0M408 241.4h0M443.8 236.8h0M483.7 242.1h0M478.6 240.3h0M399.9 242.4h0M423.1 240.7h0M474 241.4h0M479 242.3h0M401.4 240.8h0M440.1 242.4h0M440.8 237h0M486.8 241.1h0M490.1 240.7h0M403.7 243.1h0M476.9 240.9h0M476.2 240.7h0M430.5 240h0M399.3 241.5h0M405.8 241h0M409 243.9h0M469.9 242.2h0M452.6 242.3h0M407.5 245.8h0M399.5 242.2h0M424.3 240.5h0M398.5 241.8h0M446.8 239.6h0M430.1 242h0M400.6 243.6h0M449 238.9h0M449.9 238.3h0M475 241.6h0M461.3 241.8h0M438.8 240.8h0M445.3 238.2h0M422.6 243.8h0M410 241.8h0M477.6 242.2h0M411.2 242h0M418.8 240.3h0M444 236.4h0M435.5 242.2h0M443.5 240.5h0M468.2 241.9h0M473.9 240.1h0M469.7 241.4h0M450.7 242.2h0M490.3 241.7h0M489 242.1h0M448.8 234.9h0M405.3 240.9h0M495.2 244.4h0M488.5 240.7h0M436.9 242.3h0" stroke="#2d7a9a" stroke-width="1.1" stroke-linecap="round" fill="none"/>
<path d="M477.6 244.2h0M446.4 243h0M428.9 245.5h0M400.9 244.3h0M490.4 244.4h0M474.2 244.6h0M416.3 243.8h0M495.5 245.3h0M466.9 243.3h0M468.3 245.1h0M465.9 245.4h0M420.2 243.7h0M416.1 244.3h0M439.2 242.8h0M481.5 245.1h0M469.8 244.8h0M444.8 243.6h0M442.5 245.1h0M454.8 244.5h0M497 244.5h0M494.7 242.6h0M479.6 245.5h0M440.6 245.5h0M409.8 243.8h0M476.9 243.7h0M494.1 243h0M425.7 244.2h0M464.7 245h0M443.2 243.2h0M401.7 243.4h0M459.5 243.9h0M400.5 245.8h0M417.5 244.7h0M415.8 245.7h0M473.8 243.5h0M437.7 242.8h0M416.8 244h0M431.4 244h0M456.9 244.7h0M419.8 245.6h0M421.5 242.9h0M437.7 245.2h0M415.6 243.4h0M480.3 244.5h0M470.5 245.1h0M493.3 243h0M442.4 244h0M405.6 243.9h0M411 242.9h0M408 245.8h0M465.9 242.6h0M398.9 244.4h0M452.9 244.1h0M462.1 244.4h0M463.8 243.3h0M441.2 243.6h0M481 244.9h0M399.6 243.3h0M436.1 244.4h0M463.4 244.8h0M433.7 244.7h0M430.2 244.3h0M492.6 245.6h0M470.9 244.1h0M488.5 244.1h0M486.2 244.6h0M495.2 244h0M416.1 245.7h0M437.5 243.6h0M459.7 244.7h0M489.4 245.5h0M466.2 244.7h0M496.1 245h0M466.2 245.6h0M495.4 244.5h0M408.8 245.8h0M412.6 242.8h0M416.1 242.7h0M399.4 243.8h0M459.7 242.8h0M496.3 244h0M478.8 244.3h0M441.5 244.1h0M400.9 243.5h0M408.3 245.3h0M489.4 244.8h0M477.9 245.1h0M472.7 244.9h0M398.2 244h0M422.3 245.4h0M494.2 245.8h0M466.2 245.2h0M492.4 243.2h0M405.4 245.2h0M487.7 245.5h0M476.6 243.3h0M490.5 243h0M400.3 245.6h0M402.5 243h0M436.9 245h0M403.8 242.8h0M415.7 243.3h0M432.6 243.9h0M458.9 245.3h0M465.8 244.5h0M475.9 244.1h0M497.3 245h0M490.4 244.2h0M491.1 245.4h0M483 242.6h0M405.7 244.8h0M403.7 242.6h0M442.2 243.4h0M492.2 243.7h0M456.5 245.5h0M481.1 242.8h0M409.2 244.8h0M483 242.6h0M418.7 243.1h0M413.7 245.6h0M435.5 243.8h0M405.5 243.2h0M457.5 243h0M488.7 245.7h0M434.5 243.7h0M412.3 245.6h0M398.6 244h0M493.8 242.9h0M474.7 242.6h0M419.8 243.4h0M433.9 245.1h0M421.9 244.8h0M468.5 244h0M493.6 243.6h0M402.9 244.3h0M473.1 245.6h0M399 244.7h0M488.4 244.4h0M465.7 244.5h0M456.2 245.1h0M484.2 245.1h0M411 243.8h0M455.4 243.5h0M400.9 244.1h0M467.5 244.5h0M496.4 246h0M474.4 245.5h0M450.2 243.1h0M418.1 243.3h0M475.4 243.5h0M474.2 243.9h0M458.2 244.4h0M474.1 244.5h0M418.8 243.7h0M436.5 243.5h0M481.9 244.2h0M457.1 242.8h0M402.1 242.9h0M481.5 242.7h0M405.4 245.9h0M484.6 245h0M423.4 245.6h0M461.6 245.2h0M476.7 245h0M418.3 243.2h0M409.1 244.1h0M440.6 245.3h0M411.3 244.3h0M492.6 243.8h0M477.5 244h0M486.2 244.4h0M410.1 244.7h0M407.2 243.7h0M404.5 243.9h0M423.5 243.1h0M397.4 243.6h0M472.9 244.5h0M419.9 245.7h0M486.7 245.1h0M481.7 245.9h0M456.5 245.2h0M404.7 242.5h0M424.4 243.1h0M461.9 244.7h0M488.1 244.4h0M471.8 244.3h0M473.5 242.7h0M436.3 245.5h0M485.5 244.3h0M496.4 245.2h0M403.6 245.2h0M399.1 243.6h0M443.5 243.5h0M485.4 243.3h0M435.2 243.4h0M421.6 243.2h0M397.6 245.7h0M406.6 243.4h0M413.4 243.7h0M476.9 245.1h0M469.5 245.8h0M400.4 243.5h0M437.6 243.1h0M467.8 245.1h0M436.7 245h0M489.1 245.6h0M496 243.4h0M477.8 243.5h0M463.7 243.7h0M408.4 245.2h0M495.5 244h0M479.7 244.4h0M449.2 244.8h0M458.4 245.9h0M400.5 245.2h0M407.7 245.3h0M402.3 245.5h0M487.1 245.3h0M495.5 243.4h0M473.4 245.5h0M405.3 242.7h0M452.2 244.1h0M397.7 243.7h0M410.7 245.3h0M480.2 242.7h0M493.2 243.9h0M400 243.8h0M490 242.7h0M456.1 245.5h0M474.5 245h0M461.4 243.3h0M492.3 244.8h0M410.2 242.8h0M435.9 245.2h0M468.4 245.4h0M488.9 244.7h0M487 242.6h0M421.1 242.5h0M468.7 244.8h0M440.7 243.9h0M411.1 243.4h0M412.3 242.7h0M470.9 245h0M471.8 245.2h0M414.6 245.7h0M438 243.2h0M451.5 243.6h0M457.6 244.8h0M413.6 243.6h0M457.3 245.7h0M405.5 244.7h0M421.2 244.8h0M492.7 244.1h0M464.7 244.3h0M408.9 242.7h0M402.4 243.5h0M425.7 245.3h0M492.9 245.6h0M413.4 245.2h0M493.7 243.5h0M415.5 245.4h0M484.1 243.9h0M484.3 244.4h0M410.7 242.8h0M410.2 244.3h0M410.6 244.6h0M470.5 243.5h0M411.5 245.5h0M494.9 243h0M399.4 245.8h0M472.2 243.6h0M418.2 243.6h0M468.8 243h0M475.6 245.8h0M483.3 242.8h0M465.3 244.9h0M463.5 242.7h0M415.8 243.8h0M477.4 244.1h0M487.4 245h0M404.5 243.1h0M469.6 242.9h0M451.9 243.1h0M474 245.8h0M399.4 243.2h0M403.2 245.5h0M454.9 243.9h0M410.4 242.9h0M483.6 245.5h0M404.5 245.9h0M483.1 244.6h0M478.1 246h0M472.8 243.7h0M423.9 244.7h0M487.9 245.2h0M448.9 245h0M436.7 243.5h0M400.3 242.8h0M412.8 243.4h0M418.4 243.3h0M491.7 244.1h0M409.7 245.8h0M425.1 245.4h0M489.8 242.9h0M417.8 243.8h0M442.4 245.8h0M448 245.5h0M484.6 243.7h0M410.3 245.7h0M417.2 244.6h0M420.4 244.7h0M403.5 244.2h0M427.1 243.5h0M493.3 245.5h0M439.8 245.2h0M464.6 245.3h0M474.6 244h0M468.9 245.4h0M460.5 243.7h0M467.2 245.1h0M411.8 243.3h0M400.1 242.7h0M440 245.8h0M420.3 245.8h0M406.8 243.9h0M481.1 245.3h0M401.6 243.5h0M403.9 243.5h0" stroke="#2a9a88" stroke-width="1.0" stroke-linecap="round" fill="none"/>
<path d="M438.2 245.9h0M441.8 243.3h0M449.4 242.8h0M445.9 245.5h0M448.3 245.8h0M449.5 238.5h0M448.2 245.5h0M444.2 238.2h0M448.5 238.4h0M453.1 239h0M451.5 243.7h0M444.3 243.4h0M447 243h0M447.1 241.6h0M445.4 244.9h0M446.6 234.3h0M439.8 243.4h0M442.1 238h0M449.3 236.3h0M450.7 242.6h0M445.1 237.8h0M447.1 237h0M452.9 245.3h0M450 236.7h0M449 243.5h0M445.7 238.7h0M440.5 241.9h0M445.8 234.6h0M435.9 245.9h0M447.5 241.4h0M450.2 243.3h0M447.7 242.3h0M449.9 244.8h0M450.4 239.1h0M449.5 238.1h0M443.2 239h0M444 244h0M448.3 245.2h0M448.6 241.8h0M447.7 235.4h0M442.6 246h0M450.4 246h0M447.6 234.5h0M440.9 243.5h0M455 239h0M440 242.1h0M445.8 239.1h0M448.5 242.1h0M447.5 242.2h0M448.9 241.5h0M442.6 236.4h0M447.5 237.1h0M445.1 235.7h0M439 240.5h0M445.3 236.2h0M444.3 237.8h0M435.6 244h0M438.4 242.2h0M437.6 240.3h0M448.3 235.8h0M448.4 240h0M450.2 245.1h0M448.7 238.6h0M448.7 235.4h0M447.8 238.9h0M448.5 237.8h0M452 240.5h0M450.1 243.7h0M445.8 237.2h0M444.4 236.4h0M453.9 243.4h0M438.6 242.1h0M447.6 238h0M439.8 237.4h0M429.4 242.9h0M448.2 236.5h0M442 239.2h0M455.4 238.9h0M444.4 240.8h0M459.5 245.2h0M446.7 240.4h0M451.3 241.8h0M445.4 239.7h0M448 236.6h0M450.5 245h0M443.1 240.2h0M447.9 239.2h0M440.2 245.1h0M445.4 239.2h0M449.3 241.8h0" stroke="#35a888" stroke-width="1.1" stroke-linecap="round" fill="none"/>
<path d="M449.3 236.5h0M446.8 238.3h0M447.5 239.5h0M450 242.2h0M448.8 240h0M447 242.2h0M446.7 237.5h0M447.5 239.5h0M449 241.9h0M448.8 238.6h0" stroke="#b8d83e" stroke-width="1.2" stroke-linecap="round" fill="none"/>
<path d="M447.3 223.5V232" stroke="#2a8f96" stroke-width="1.3"/>
<path d="M397.35 239.81 L397.85 239.80 L398.35 239.79 L398.85 239.78 L399.35 239.77 L399.85 239.76 L400.35 239.76 L400.85 239.75 L401.35 239.74 L401.85 239.73 L402.35 239.72 L402.85 239.71 L403.35 239.69 L403.85 239.68 L404.35 239.67 L404.85 239.66 L405.35 239.65 L405.85 239.63 L406.35 239.62 L406.85 239.60 L407.35 239.59 L407.85 239.57 L408.35 239.56 L408.85 239.54 L409.35 239.52 L409.85 239.51 L410.35 239.49 L410.85 239.47 L411.35 239.45 L411.85 239.43 L412.35 239.41 L412.85 239.39 L413.35 239.36 L413.85 239.34 L414.35 239.31 L414.85 239.29 L415.35 239.26 L415.85 239.24 L416.35 239.21 L416.85 239.18 L417.35 239.15 L417.85 239.12 L418.35 239.08 L418.85 239.05 L419.35 239.01 L419.85 238.98 L420.35 238.94 L420.85 238.90 L421.35 238.86 L421.85 238.82 L422.35 238.78 L422.85 238.73 L423.35 238.68 L423.85 238.64 L424.35 238.59 L424.85 238.53 L425.35 238.48 L425.85 238.43 L426.35 238.37 L426.85 238.31 L427.35 238.25 L427.85 238.18 L428.35 238.11 L428.85 238.05 L429.35 237.97 L429.85 237.90 L430.35 237.82 L430.85 237.74 L431.35 237.66 L431.85 237.58 L432.35 237.49 L432.85 237.40 L433.35 237.30 L433.85 237.20 L434.35 237.10 L434.85 236.99 L435.35 236.88 L435.85 236.77 L436.35 236.65 L436.85 236.53 L437.35 236.40 L437.85 236.27 L438.35 236.13 L438.85 235.99 L439.35 235.84 L439.85 235.68 L440.35 235.52 L440.85 235.35 L441.35 235.17 L441.85 234.99 L442.35 234.80 L442.85 234.59 L443.35 234.38 L443.85 234.15 L444.35 233.90 L444.85 233.64 L445.35 233.36 L445.85 233.05 L446.35 232.72 L446.85 232.34 L447.35 231.93 L447.85 232.34 L448.35 232.72 L448.85 233.05 L449.35 233.36 L449.85 233.64 L450.35 233.90 L450.85 234.15 L451.35 234.38 L451.85 234.59 L452.35 234.80 L452.85 234.99 L453.35 235.17 L453.85 235.35 L454.35 235.52 L454.85 235.68 L455.35 235.84 L455.85 235.99 L456.35 236.13 L456.85 236.27 L457.35 236.40 L457.85 236.53 L458.35 236.65 L458.85 236.77 L459.35 236.88 L459.85 236.99 L460.35 237.10 L460.85 237.20 L461.35 237.30 L461.85 237.40 L462.35 237.49 L462.85 237.58 L463.35 237.66 L463.85 237.74 L464.35 237.82 L464.85 237.90 L465.35 237.97 L465.85 238.05 L466.35 238.11 L466.85 238.18 L467.35 238.25 L467.85 238.31 L468.35 238.37 L468.85 238.43 L469.35 238.48 L469.85 238.53 L470.35 238.59 L470.85 238.64 L471.35 238.68 L471.85 238.73 L472.35 238.78 L472.85 238.82 L473.35 238.86 L473.85 238.90 L474.35 238.94 L474.85 238.98 L475.35 239.01 L475.85 239.05 L476.35 239.08 L476.85 239.12 L477.35 239.15 L477.85 239.18 L478.35 239.21 L478.85 239.24 L479.35 239.26 L479.85 239.29 L480.35 239.31 L480.85 239.34 L481.35 239.36 L481.85 239.39 L482.35 239.41 L482.85 239.43 L483.35 239.45 L483.85 239.47 L484.35 239.49 L484.85 239.51 L485.35 239.52 L485.85 239.54 L486.35 239.56 L486.85 239.57 L487.35 239.59 L487.85 239.60 L488.35 239.62 L488.85 239.63 L489.35 239.65 L489.85 239.66 L490.35 239.67 L490.85 239.68 L491.35 239.69 L491.85 239.71 L492.35 239.72 L492.85 239.73 L493.35 239.74 L493.85 239.75 L494.35 239.76 L494.85 239.76 L495.35 239.77 L495.85 239.78 L496.35 239.79 L496.85 239.80 L497.35 239.81" stroke="#2a6cc2" stroke-width="2.1" fill="none"/>
</g>
<path d="M392 127.2H502.6V246.1H392Z" fill="none" stroke="#5e5e5e" stroke-width="1.1"/>
<defs><linearGradient id="vir" x1="0" y1="1" x2="0" y2="0"><stop offset="0" stop-color="#440154"/><stop offset="0.25" stop-color="#3b528b"/><stop offset="0.5" stop-color="#21908d"/><stop offset="0.75" stop-color="#5dc963"/><stop offset="1" stop-color="#fde725"/></linearGradient></defs>
<rect x="479.8" y="135.5" width="7.8" height="33.7" fill="url(#vir)"/>
<text x="489.5" y="143.7" font-family="Liberation Sans, sans-serif" font-size="4.9" fill="#222">75</text>
<text x="489.5" y="153.29999999999998" font-family="Liberation Sans, sans-serif" font-size="4.9" fill="#222">50</text>
<text x="489.5" y="162.29999999999998" font-family="Liberation Sans, sans-serif" font-size="4.9" fill="#222">25</text>
<path d="M390 246.1H392" stroke="#555" stroke-width="0.8"/>
<text x="389.5" y="247.7" font-family="Liberation Sans, sans-serif" font-size="4.6" fill="#333" text-anchor="end">0</text>
<path d="M390 222.3H392" stroke="#555" stroke-width="0.8"/>
<text x="389.5" y="223.9" font-family="Liberation Sans, sans-serif" font-size="4.6" fill="#333" text-anchor="end">50</text>
<path d="M390 198.5H392" stroke="#555" stroke-width="0.8"/>
<text x="389.5" y="200.1" font-family="Liberation Sans, sans-serif" font-size="4.6" fill="#333" text-anchor="end">100</text>
<path d="M390 174.8H392" stroke="#555" stroke-width="0.8"/>
<text x="389.5" y="176.4" font-family="Liberation Sans, sans-serif" font-size="4.6" fill="#333" text-anchor="end">150</text>
<path d="M390 151H392" stroke="#555" stroke-width="0.8"/>
<text x="389.5" y="152.6" font-family="Liberation Sans, sans-serif" font-size="4.6" fill="#333" text-anchor="end">200</text>
<path d="M390 127.2H392" stroke="#555" stroke-width="0.8"/>
<text x="389.5" y="128.8" font-family="Liberation Sans, sans-serif" font-size="4.6" fill="#333" text-anchor="end">250</text>
<path d="M397.4 246.1V248.1" stroke="#555" stroke-width="0.8"/>
<text x="397.4" y="253.5" font-family="Liberation Sans, sans-serif" font-size="5.2" fill="#333" text-anchor="middle">−1000</text>
<path d="M422.4 246.1V248.1" stroke="#555" stroke-width="0.8"/>
<text x="422.4" y="253.5" font-family="Liberation Sans, sans-serif" font-size="5.2" fill="#333" text-anchor="middle">−500</text>
<path d="M447.4 246.1V248.1" stroke="#555" stroke-width="0.8"/>
<text x="447.4" y="253.5" font-family="Liberation Sans, sans-serif" font-size="5.2" fill="#333" text-anchor="middle">0</text>
<path d="M472.4 246.1V248.1" stroke="#555" stroke-width="0.8"/>
<text x="472.4" y="253.5" font-family="Liberation Sans, sans-serif" font-size="5.2" fill="#333" text-anchor="middle">500</text>
<path d="M497.4 246.1V248.1" stroke="#555" stroke-width="0.8"/>
<text x="497.4" y="253.5" font-family="Liberation Sans, sans-serif" font-size="5.2" fill="#333" text-anchor="middle">1000</text>
<text x="447.2" y="262.2" font-family="Liberation Sans, sans-serif" font-size="5.6" fill="#222" text-anchor="middle">Distance to TSS (Kb)</text>
<text transform="translate(376.3 185.5) rotate(-90)" font-family="Liberation Sans, sans-serif" font-size="4.7" fill="#222" text-anchor="middle">−log<tspan font-size="3.3" dy="1">10</tspan><tspan dy="-1">(</tspan><tspan font-style="italic">p</tspan>−value)</text>
</svg></body></html>
